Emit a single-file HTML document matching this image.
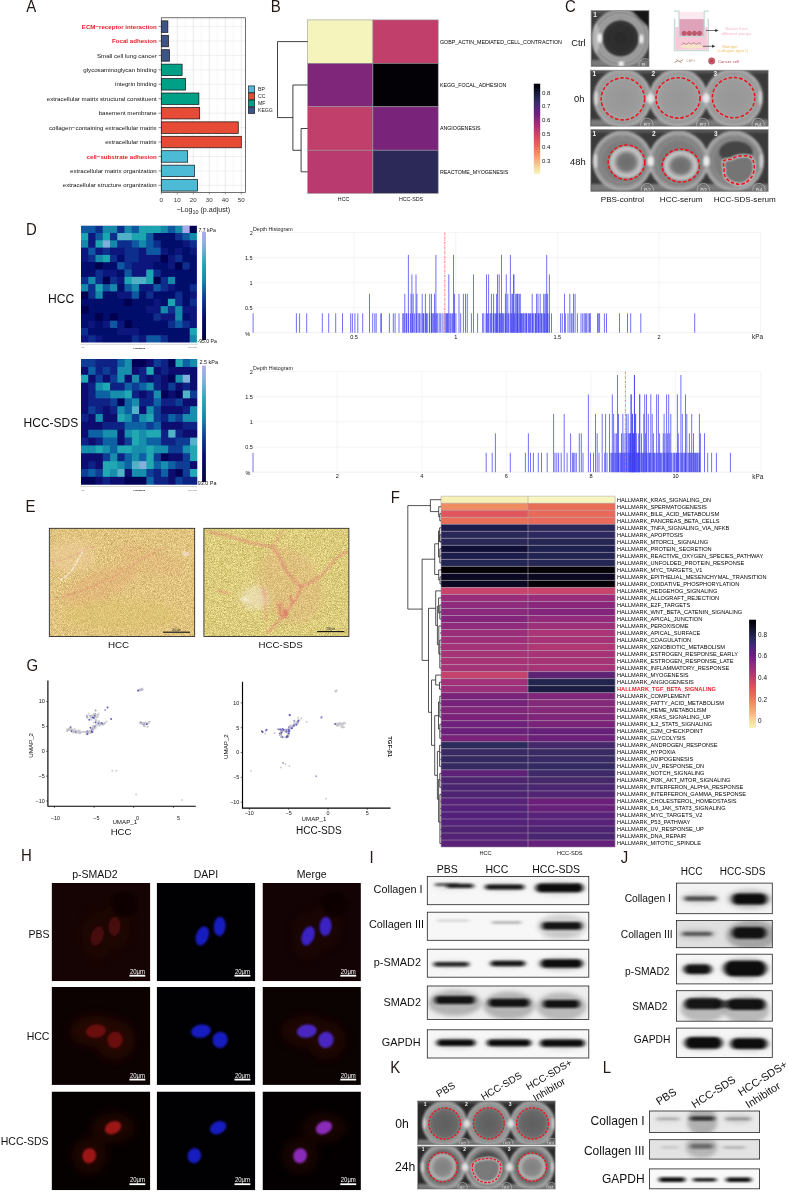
<!DOCTYPE html>
<html><head><meta charset="utf-8"><title>Figure</title>
<style>
html,body{margin:0;padding:0;background:#fff;}
body{width:789px;height:1193px;overflow:hidden;}
svg{display:block;font-family:"Liberation Sans",sans-serif;}
</style></head><body>
<svg width="789" height="1193" viewBox="0 0 789 1193">
<defs>
<linearGradient id="magB" x1="0" y1="0" x2="0" y2="1"><stop offset="0.000" stop-color="#030105"/><stop offset="0.035" stop-color="#050510"/><stop offset="0.100" stop-color="#161838"/><stop offset="0.175" stop-color="#2a2a5c"/><stop offset="0.250" stop-color="#4a2878"/><stop offset="0.320" stop-color="#6a1c80"/><stop offset="0.400" stop-color="#8a2a7c"/><stop offset="0.470" stop-color="#a8307a"/><stop offset="0.545" stop-color="#c84068"/><stop offset="0.620" stop-color="#e0505c"/><stop offset="0.700" stop-color="#ec6c58"/><stop offset="0.770" stop-color="#f28c62"/><stop offset="0.850" stop-color="#f6b07c"/><stop offset="0.930" stop-color="#f8d89c"/><stop offset="1.000" stop-color="#f8f4b8"/></linearGradient>
<filter id="blur1" x="-5%" y="-5%" width="110%" height="110%"><feGaussianBlur stdDeviation="0.9"/></filter>
<filter id="blur2" x="-10%" y="-10%" width="120%" height="120%"><feGaussianBlur stdDeviation="1.6"/></filter>
<filter id="blur05"><feGaussianBlur stdDeviation="0.5"/></filter>
<radialGradient id="wellA"><stop offset="0" stop-color="#969696"/><stop offset="0.6" stop-color="#9c9c9c"/><stop offset="0.72" stop-color="#a4a4a4"/><stop offset="0.765" stop-color="#b0b0b0"/><stop offset="0.80" stop-color="#747474"/><stop offset="0.85" stop-color="#bcbcbc"/><stop offset="0.89" stop-color="#7a7a7a"/><stop offset="0.94" stop-color="#cacaca"/><stop offset="0.98" stop-color="#8c8c8c"/><stop offset="1" stop-color="#b4b4b4"/></radialGradient>
<radialGradient id="wellB"><stop offset="0" stop-color="#787878"/><stop offset="0.62" stop-color="#7c7c7c"/><stop offset="0.72" stop-color="#848484"/><stop offset="0.76" stop-color="#9a9a9a"/><stop offset="0.80" stop-color="#585858"/><stop offset="0.85" stop-color="#b8b8b8"/><stop offset="0.89" stop-color="#707070"/><stop offset="0.94" stop-color="#cacaca"/><stop offset="0.98" stop-color="#8c8c8c"/><stop offset="1" stop-color="#b8b8b8"/></radialGradient>
<radialGradient id="gelA"><stop offset="0" stop-color="#6c6c6c"/><stop offset="0.5" stop-color="#767676"/><stop offset="0.66" stop-color="#a4a4a4"/><stop offset="0.86" stop-color="#cccccc"/><stop offset="1" stop-color="#a0a0a0"/></radialGradient>
<radialGradient id="wellC"><stop offset="0" stop-color="#2a2a2a"/><stop offset="0.5" stop-color="#303030"/><stop offset="0.62" stop-color="#3c3c3c"/><stop offset="0.66" stop-color="#d4d4d4"/><stop offset="0.71" stop-color="#7c7c7c"/><stop offset="0.79" stop-color="#b0b0b0"/><stop offset="0.87" stop-color="#7a7a7a"/><stop offset="0.94" stop-color="#b4b4b4"/><stop offset="1" stop-color="#6c6c6c"/></radialGradient>
<clipPath id="clipP1"><rect x="591.10" y="10.50" width="57.90" height="56.10"/></clipPath>
<clipPath id="clipP2"><rect x="590.30" y="70.20" width="177.90" height="56.00"/></clipPath>
<clipPath id="clipP3"><rect x="590.80" y="129.50" width="177.40" height="61.90"/></clipPath>
<filter id="blur03" x="-2%" y="-2%" width="104%" height="104%"><feGaussianBlur stdDeviation="0.45"/></filter>
<clipPath id="clipP4"><rect x="81.00" y="225.70" width="115.90" height="116.90"/></clipPath>
<clipPath id="clipP5"><rect x="81.00" y="359.10" width="116.30" height="125.60"/></clipPath>
<linearGradient id="afmbar" x1="0" y1="0" x2="0" y2="1"><stop offset="0" stop-color="#b0aaec"/><stop offset="0.12" stop-color="#86b0dc"/><stop offset="0.3" stop-color="#22a6b2"/><stop offset="0.45" stop-color="#1286aa"/><stop offset="0.6" stop-color="#0c409a"/><stop offset="0.78" stop-color="#080c70"/><stop offset="1" stop-color="#02003c"/></linearGradient>
<filter id="hisA" x="0" y="0" width="100%" height="100%" color-interpolation-filters="sRGB"><feTurbulence type="fractalNoise" baseFrequency="1.3" numOctaves="3" seed="3" result="n"/><feColorMatrix in="n" type="matrix" values="0.420 0 0 0 0.670  0.420 0 0 0 0.558  0.483 0 0 0 0.259  0 0 0 0 1"/></filter>
<filter id="hisB" x="0" y="0" width="100%" height="100%" color-interpolation-filters="sRGB"><feTurbulence type="fractalNoise" baseFrequency="1.3" numOctaves="3" seed="11" result="n"/><feColorMatrix in="n" type="matrix" values="0.460 0 0 0 0.632  0.460 0 0 0 0.570  0.529 0 0 0 0.225  0 0 0 0 1"/></filter>
<filter id="blur3" x="-30%" y="-30%" width="160%" height="160%"><feGaussianBlur stdDeviation="3"/></filter>
<filter id="blur12" x="-10%" y="-10%" width="120%" height="120%"><feGaussianBlur stdDeviation="1.1"/></filter>
<filter id="blur07" x="-10%" y="-10%" width="120%" height="120%"><feGaussianBlur stdDeviation="0.7"/></filter>
<clipPath id="clipP6"><rect x="49.30" y="528.30" width="145.40" height="108.30"/></clipPath>
<clipPath id="clipP7"><rect x="203.90" y="528.30" width="145.00" height="108.30"/></clipPath>
<linearGradient id="magF" x1="0" y1="0" x2="0" y2="1"><stop offset="0.000" stop-color="#030105"/><stop offset="0.035" stop-color="#050510"/><stop offset="0.100" stop-color="#161838"/><stop offset="0.175" stop-color="#2a2a5c"/><stop offset="0.250" stop-color="#4a2878"/><stop offset="0.320" stop-color="#6a1c80"/><stop offset="0.400" stop-color="#8a2a7c"/><stop offset="0.470" stop-color="#a8307a"/><stop offset="0.545" stop-color="#c84068"/><stop offset="0.620" stop-color="#e0505c"/><stop offset="0.700" stop-color="#ec6c58"/><stop offset="0.770" stop-color="#f28c62"/><stop offset="0.850" stop-color="#f6b07c"/><stop offset="0.930" stop-color="#f8d89c"/><stop offset="1.000" stop-color="#f8f4b8"/></linearGradient>
<filter id="blurN" x="-40%" y="-40%" width="180%" height="180%"><feGaussianBlur stdDeviation="1.1"/></filter>
<filter id="blurC" x="-60%" y="-60%" width="220%" height="220%"><feGaussianBlur stdDeviation="5"/></filter>
<clipPath id="clipP8"><rect x="51.60" y="883.00" width="98.70" height="98.20"/></clipPath>
<clipPath id="clipP9"><rect x="156.70" y="883.00" width="98.60" height="98.20"/></clipPath>
<clipPath id="clipP10"><rect x="262.50" y="883.00" width="98.40" height="98.20"/></clipPath>
<clipPath id="clipP11"><rect x="51.60" y="986.90" width="98.70" height="98.00"/></clipPath>
<clipPath id="clipP12"><rect x="156.70" y="986.90" width="98.60" height="98.00"/></clipPath>
<clipPath id="clipP13"><rect x="262.50" y="986.90" width="98.40" height="98.00"/></clipPath>
<clipPath id="clipP14"><rect x="51.60" y="1091.50" width="98.70" height="98.70"/></clipPath>
<clipPath id="clipP15"><rect x="156.70" y="1091.50" width="98.60" height="98.70"/></clipPath>
<clipPath id="clipP16"><rect x="262.50" y="1091.50" width="98.40" height="98.70"/></clipPath>
<filter id="blurW" x="-20%" y="-60%" width="140%" height="220%"><feGaussianBlur stdDeviation="1.9 0.95"/></filter>
<filter id="blurW2" x="-20%" y="-80%" width="140%" height="260%"><feGaussianBlur stdDeviation="2.2"/></filter>
<clipPath id="clipP17"><rect x="427.30" y="876.40" width="161.50" height="28.30"/></clipPath>
<clipPath id="clipP18"><rect x="427.30" y="912.20" width="161.50" height="28.10"/></clipPath>
<clipPath id="clipP19"><rect x="427.30" y="949.20" width="161.50" height="28.00"/></clipPath>
<clipPath id="clipP20"><rect x="427.30" y="986.00" width="161.50" height="33.50"/></clipPath>
<clipPath id="clipP21"><rect x="427.30" y="1029.80" width="161.50" height="28.20"/></clipPath>
<clipPath id="clipP22"><rect x="676.40" y="883.10" width="95.90" height="30.60"/></clipPath>
<clipPath id="clipP23"><rect x="676.40" y="920.40" width="95.90" height="27.30"/></clipPath>
<clipPath id="clipP24"><rect x="676.40" y="954.20" width="95.90" height="29.70"/></clipPath>
<clipPath id="clipP25"><rect x="676.40" y="990.70" width="95.90" height="30.50"/></clipPath>
<clipPath id="clipP26"><rect x="676.40" y="1028.10" width="95.90" height="29.50"/></clipPath>
<clipPath id="clipP27"><rect x="649.40" y="1111.00" width="110.20" height="21.50"/></clipPath>
<clipPath id="clipP28"><rect x="649.40" y="1139.70" width="110.20" height="19.40"/></clipPath>
<clipPath id="clipP29"><rect x="649.40" y="1168.90" width="110.20" height="19.90"/></clipPath>
<radialGradient id="wellK2"><stop offset="0" stop-color="#4a4a4a"/><stop offset="0.62" stop-color="#505050"/><stop offset="0.72" stop-color="#666666"/><stop offset="0.76" stop-color="#9a9a9a"/><stop offset="0.80" stop-color="#585858"/><stop offset="0.85" stop-color="#b8b8b8"/><stop offset="0.89" stop-color="#707070"/><stop offset="0.94" stop-color="#cacaca"/><stop offset="0.98" stop-color="#8c8c8c"/><stop offset="1" stop-color="#b8b8b8"/></radialGradient>
<radialGradient id="wellK"><stop offset="0" stop-color="#5e5e5e"/><stop offset="0.55" stop-color="#686868"/><stop offset="0.70" stop-color="#7c7c7c"/><stop offset="0.765" stop-color="#aaaaaa"/><stop offset="0.80" stop-color="#6a6a6a"/><stop offset="0.85" stop-color="#b8b8b8"/><stop offset="0.89" stop-color="#727272"/><stop offset="0.94" stop-color="#c6c6c6"/><stop offset="0.98" stop-color="#888888"/><stop offset="1" stop-color="#b0b0b0"/></radialGradient>
<radialGradient id="gelK"><stop offset="0" stop-color="#808080"/><stop offset="0.6" stop-color="#8a8a8a"/><stop offset="0.86" stop-color="#b6b6b6"/><stop offset="1" stop-color="#9a9a9a"/></radialGradient>
<clipPath id="clipP30"><rect x="417.60" y="1101.00" width="137.60" height="43.80"/></clipPath>
<clipPath id="clipP31"><rect x="417.60" y="1146.30" width="137.60" height="42.70"/></clipPath>
</defs>
<rect x="0" y="0" width="789" height="1193" fill="#ffffff"/>
<text transform="translate(26.30 12.40) scale(0.96 1)" font-size="15.6" fill="#231815">A</text>
<text transform="translate(270.68 12.30) scale(0.96 1)" font-size="15.6" fill="#231815">B</text>
<text transform="translate(565.05 12.10) scale(0.96 1)" font-size="15.6" fill="#231815">C</text>
<text transform="translate(25.90 234.80) scale(0.96 1)" font-size="15.6" fill="#231815">D</text>
<text transform="translate(25.60 512.00) scale(0.96 1)" font-size="15.6" fill="#231815">E</text>
<text transform="translate(390.70 502.80) scale(0.96 1)" font-size="15.6" fill="#231815">F</text>
<text transform="translate(26.45 671.40) scale(0.96 1)" font-size="15.6" fill="#231815">G</text>
<text transform="translate(21.00 860.80) scale(0.96 1)" font-size="15.6" fill="#231815">H</text>
<text transform="translate(369.55 862.80) scale(0.96 1)" font-size="15.6" fill="#231815">I</text>
<text transform="translate(620.75 862.90) scale(0.96 1)" font-size="15.6" fill="#231815">J</text>
<text transform="translate(390.20 1072.80) scale(0.96 1)" font-size="15.6" fill="#231815">K</text>
<text transform="translate(602.70 1072.80) scale(0.96 1)" font-size="15.6" fill="#231815">L</text>
<rect x="161.30" y="17.80" width="84.30" height="174.80" fill="#fff" />
<line x1="169.30" y1="17.80" x2="169.30" y2="192.60" stroke="#ebebeb" stroke-width="0.45" />
<line x1="177.30" y1="17.80" x2="177.30" y2="192.60" stroke="#e2e2e2" stroke-width="0.7" />
<line x1="185.30" y1="17.80" x2="185.30" y2="192.60" stroke="#ebebeb" stroke-width="0.45" />
<line x1="193.30" y1="17.80" x2="193.30" y2="192.60" stroke="#e2e2e2" stroke-width="0.7" />
<line x1="201.30" y1="17.80" x2="201.30" y2="192.60" stroke="#ebebeb" stroke-width="0.45" />
<line x1="209.30" y1="17.80" x2="209.30" y2="192.60" stroke="#e2e2e2" stroke-width="0.7" />
<line x1="217.30" y1="17.80" x2="217.30" y2="192.60" stroke="#ebebeb" stroke-width="0.45" />
<line x1="225.30" y1="17.80" x2="225.30" y2="192.60" stroke="#e2e2e2" stroke-width="0.7" />
<line x1="233.30" y1="17.80" x2="233.30" y2="192.60" stroke="#ebebeb" stroke-width="0.45" />
<line x1="241.30" y1="17.80" x2="241.30" y2="192.60" stroke="#e2e2e2" stroke-width="0.7" />
<line x1="161.30" y1="26.60" x2="245.60" y2="26.60" stroke="#e6e6e6" stroke-width="0.6" />
<line x1="161.30" y1="41.03" x2="245.60" y2="41.03" stroke="#e6e6e6" stroke-width="0.6" />
<line x1="161.30" y1="55.46" x2="245.60" y2="55.46" stroke="#e6e6e6" stroke-width="0.6" />
<line x1="161.30" y1="69.89" x2="245.60" y2="69.89" stroke="#e6e6e6" stroke-width="0.6" />
<line x1="161.30" y1="84.32" x2="245.60" y2="84.32" stroke="#e6e6e6" stroke-width="0.6" />
<line x1="161.30" y1="98.75" x2="245.60" y2="98.75" stroke="#e6e6e6" stroke-width="0.6" />
<line x1="161.30" y1="113.18" x2="245.60" y2="113.18" stroke="#e6e6e6" stroke-width="0.6" />
<line x1="161.30" y1="127.61" x2="245.60" y2="127.61" stroke="#e6e6e6" stroke-width="0.6" />
<line x1="161.30" y1="142.04" x2="245.60" y2="142.04" stroke="#e6e6e6" stroke-width="0.6" />
<line x1="161.30" y1="156.47" x2="245.60" y2="156.47" stroke="#e6e6e6" stroke-width="0.6" />
<line x1="161.30" y1="170.90" x2="245.60" y2="170.90" stroke="#e6e6e6" stroke-width="0.6" />
<line x1="161.30" y1="185.33" x2="245.60" y2="185.33" stroke="#e6e6e6" stroke-width="0.6" />
<rect x="161.30" y="20.85" width="6.56" height="11.50" fill="#3C5488" stroke="#111" stroke-width="0.7" />
<line x1="158.50" y1="26.60" x2="161.30" y2="26.60" stroke="#333" stroke-width="0.55" />
<text x="156.70" y="28.70" font-size="6.15" fill="#e8202a" text-anchor="end" font-weight="bold" >ECM−receptor interaction</text>
<rect x="161.30" y="35.28" width="7.20" height="11.50" fill="#3C5488" stroke="#111" stroke-width="0.7" />
<line x1="158.50" y1="41.03" x2="161.30" y2="41.03" stroke="#333" stroke-width="0.55" />
<text x="156.70" y="43.13" font-size="6.15" fill="#e8202a" text-anchor="end" font-weight="bold" >Focal adhesion</text>
<rect x="161.30" y="49.71" width="8.16" height="11.50" fill="#3C5488" stroke="#111" stroke-width="0.7" />
<line x1="158.50" y1="55.46" x2="161.30" y2="55.46" stroke="#333" stroke-width="0.55" />
<text x="156.70" y="57.56" font-size="6.15" fill="#111" text-anchor="end" >Small cell lung cancer</text>
<rect x="161.30" y="64.14" width="20.80" height="11.50" fill="#00A087" stroke="#111" stroke-width="0.7" />
<line x1="158.50" y1="69.89" x2="161.30" y2="69.89" stroke="#333" stroke-width="0.55" />
<text x="156.70" y="71.99" font-size="6.15" fill="#111" text-anchor="end" >glycosaminoglycan binding</text>
<rect x="161.30" y="78.57" width="24.32" height="11.50" fill="#00A087" stroke="#111" stroke-width="0.7" />
<line x1="158.50" y1="84.32" x2="161.30" y2="84.32" stroke="#333" stroke-width="0.55" />
<text x="156.70" y="86.42" font-size="6.15" fill="#111" text-anchor="end" >integrin binding</text>
<rect x="161.30" y="93.00" width="37.60" height="11.50" fill="#00A087" stroke="#111" stroke-width="0.7" />
<line x1="158.50" y1="98.75" x2="161.30" y2="98.75" stroke="#333" stroke-width="0.55" />
<text x="156.70" y="100.85" font-size="6.15" fill="#111" text-anchor="end" >extracellular matrix structural constituent</text>
<rect x="161.30" y="107.43" width="38.40" height="11.50" fill="#E64B35" stroke="#111" stroke-width="0.7" />
<line x1="158.50" y1="113.18" x2="161.30" y2="113.18" stroke="#333" stroke-width="0.55" />
<text x="156.70" y="115.28" font-size="6.15" fill="#111" text-anchor="end" >basement membrane</text>
<rect x="161.30" y="121.86" width="76.96" height="11.50" fill="#E64B35" stroke="#111" stroke-width="0.7" />
<line x1="158.50" y1="127.61" x2="161.30" y2="127.61" stroke="#333" stroke-width="0.55" />
<text x="156.70" y="129.71" font-size="6.15" fill="#111" text-anchor="end" >collagen−containing extracellular matrix</text>
<rect x="161.30" y="136.29" width="80.00" height="11.50" fill="#E64B35" stroke="#111" stroke-width="0.7" />
<line x1="158.50" y1="142.04" x2="161.30" y2="142.04" stroke="#333" stroke-width="0.55" />
<text x="156.70" y="144.14" font-size="6.15" fill="#111" text-anchor="end" >extracellular matrix</text>
<rect x="161.30" y="150.72" width="26.40" height="11.50" fill="#4DBBD5" stroke="#111" stroke-width="0.7" />
<line x1="158.50" y1="156.47" x2="161.30" y2="156.47" stroke="#333" stroke-width="0.55" />
<text x="156.70" y="158.57" font-size="6.15" fill="#e8202a" text-anchor="end" font-weight="bold" >cell−substrate adhesion</text>
<rect x="161.30" y="165.15" width="33.12" height="11.50" fill="#4DBBD5" stroke="#111" stroke-width="0.7" />
<line x1="158.50" y1="170.90" x2="161.30" y2="170.90" stroke="#333" stroke-width="0.55" />
<text x="156.70" y="173.00" font-size="6.15" fill="#111" text-anchor="end" >extracellular matrix organization</text>
<rect x="161.30" y="179.58" width="36.32" height="11.50" fill="#4DBBD5" stroke="#111" stroke-width="0.7" />
<line x1="158.50" y1="185.33" x2="161.30" y2="185.33" stroke="#333" stroke-width="0.55" />
<text x="156.70" y="187.43" font-size="6.15" fill="#111" text-anchor="end" >extracellular structure organization</text>
<rect x="161.30" y="17.80" width="84.30" height="174.80" fill="none" stroke="#333" stroke-width="0.7" />
<line x1="161.30" y1="192.60" x2="161.30" y2="194.40" stroke="#333" stroke-width="0.5" />
<text x="161.30" y="202.20" font-size="6.2" fill="#333" text-anchor="middle" >0</text>
<line x1="177.30" y1="192.60" x2="177.30" y2="194.40" stroke="#333" stroke-width="0.5" />
<text x="177.30" y="202.20" font-size="6.2" fill="#333" text-anchor="middle" >10</text>
<line x1="193.30" y1="192.60" x2="193.30" y2="194.40" stroke="#333" stroke-width="0.5" />
<text x="193.30" y="202.20" font-size="6.2" fill="#333" text-anchor="middle" >20</text>
<line x1="209.30" y1="192.60" x2="209.30" y2="194.40" stroke="#333" stroke-width="0.5" />
<text x="209.30" y="202.20" font-size="6.2" fill="#333" text-anchor="middle" >30</text>
<line x1="225.30" y1="192.60" x2="225.30" y2="194.40" stroke="#333" stroke-width="0.5" />
<text x="225.30" y="202.20" font-size="6.2" fill="#333" text-anchor="middle" >40</text>
<line x1="241.30" y1="192.60" x2="241.30" y2="194.40" stroke="#333" stroke-width="0.5" />
<text x="241.30" y="202.20" font-size="6.2" fill="#333" text-anchor="middle" >50</text>
<text x="203.30" y="212.20" font-size="7.1" fill="#222" text-anchor="middle">−Log<tspan font-size="5.4" dy="1.9">10</tspan><tspan dy="-1.9"> (p.adjust)</tspan></text>
<rect x="248.30" y="85.90" width="6.40" height="6.50" fill="#4DBBD5" stroke="#111" stroke-width="0.6" />
<text x="258.00" y="90.93" font-size="5.15" fill="#222" >BP</text>
<rect x="248.30" y="92.96" width="6.40" height="6.50" fill="#E64B35" stroke="#111" stroke-width="0.6" />
<text x="258.00" y="97.99" font-size="5.15" fill="#222" >CC</text>
<rect x="248.30" y="100.02" width="6.40" height="6.50" fill="#00A087" stroke="#111" stroke-width="0.6" />
<text x="258.00" y="105.05" font-size="5.15" fill="#222" >MF</text>
<rect x="248.30" y="107.08" width="6.40" height="6.50" fill="#3C5488" stroke="#111" stroke-width="0.6" />
<text x="258.00" y="112.11" font-size="5.15" fill="#222" >KEGG</text>
<rect x="307.60" y="19.90" width="65.30" height="43.40" fill="#f5f4bd" stroke="#9a9a9a" stroke-width="0.6" />
<rect x="372.90" y="19.90" width="65.30" height="43.40" fill="#c03f6b" stroke="#9a9a9a" stroke-width="0.6" />
<rect x="307.60" y="63.30" width="65.30" height="43.50" fill="#80267a" stroke="#9a9a9a" stroke-width="0.6" />
<rect x="372.90" y="63.30" width="65.30" height="43.50" fill="#030105" stroke="#9a9a9a" stroke-width="0.6" />
<rect x="307.60" y="106.80" width="65.30" height="43.40" fill="#c03f6b" stroke="#9a9a9a" stroke-width="0.6" />
<rect x="372.90" y="106.80" width="65.30" height="43.40" fill="#7a237a" stroke="#9a9a9a" stroke-width="0.6" />
<rect x="307.60" y="150.20" width="65.30" height="43.20" fill="#b93a6f" stroke="#9a9a9a" stroke-width="0.6" />
<rect x="372.90" y="150.20" width="65.30" height="43.20" fill="#2c2858" stroke="#9a9a9a" stroke-width="0.6" />
<path d="M307.6 41.6 H277.5 V117.6 H292.9 M307.6 85.0 H292.9 V150.3 H301.1 M307.6 128.5 H301.1 V171.8 H307.6" stroke="#111" stroke-width="0.8" fill="none" />
<text x="439.90" y="43.50" font-size="5.3" fill="#000" >GOBP_ACTIN_MEDIATED_CELL_CONTRACTION</text>
<text x="439.90" y="86.95" font-size="5.3" fill="#000" >KEGG_FOCAL_ADHESION</text>
<text x="439.90" y="130.40" font-size="5.3" fill="#000" >ANGIOGENESIS</text>
<text x="439.90" y="173.70" font-size="5.3" fill="#000" >REACTOME_MYOGENESIS</text>
<text x="343.60" y="200.80" font-size="5.3" fill="#111" text-anchor="middle" >HCC</text>
<text x="411.00" y="200.80" font-size="5.3" fill="#111" text-anchor="middle" >HCC-SDS</text>
<rect x="533.80" y="83.70" width="6.40" height="90.10" fill="url(#magB)" />
<text x="541.90" y="94.50" font-size="6.1" fill="#111" >0.8</text>
<text x="541.90" y="108.10" font-size="6.1" fill="#111" >0.7</text>
<text x="541.90" y="121.90" font-size="6.1" fill="#111" >0.6</text>
<text x="541.90" y="135.50" font-size="6.1" fill="#111" >0.5</text>
<text x="541.90" y="149.00" font-size="6.1" fill="#111" >0.4</text>
<text x="541.90" y="162.60" font-size="6.1" fill="#111" >0.3</text>
<g clip-path="url(#clipP1)">
<rect x="591.10" y="10.50" width="57.90" height="56.10" fill="#3c3c3c" />
<g filter="url(#blur1)">
<rect x="591.10" y="59.87" width="57.90" height="6.73" fill="#7a7a7a" />
<rect x="591.10" y="10.50" width="57.90" height="2.80" fill="#5a5a5a" />
<circle cx="620.60" cy="38.40" r="29.50" fill="url(#wellC)"/>
<ellipse cx="599.95" cy="38.10" rx="2.07" ry="4.72" fill="#fff" opacity="0.90"/>
<ellipse cx="641.25" cy="38.90" rx="1.77" ry="4.42" fill="#fff" opacity="0.90"/>
<ellipse cx="621.20" cy="63.77" rx="2.65" ry="2.36" fill="#fff" opacity="0.90"/>
<ellipse cx="596.41" cy="38.40" rx="2.95" ry="14.75" fill="#fff" opacity="0.35"/>
<path d="M630.7 10.5 L649.0 10.5 L649.0 28.2 Z" fill="#141414"/>
</g>
<text x="593.16" y="16.68" font-size="6.5" fill="#f4f4f4" font-weight="bold" filter="url(#blur05)">1</text>
<circle cx="645.04" cy="64.80" r="6.17" fill="none" stroke="#c8c8c8" stroke-width="0.6"/>
<text x="641.84" y="67.00" font-size="5.5249999999999995" fill="#d8d8d8" filter="url(#blur05)">B</text>
</g>
<rect x="591.10" y="10.50" width="57.90" height="56.10" fill="none" stroke="#8a8a8a" stroke-width="0.7" />
<g clip-path="url(#clipP2)">
<rect x="590.30" y="70.20" width="177.90" height="56.00" fill="#3a3a3a" />
<g filter="url(#blur1)">
<rect x="590.30" y="119.48" width="177.90" height="6.72" fill="#7a7a7a" />
<rect x="590.30" y="70.20" width="177.90" height="2.80" fill="#5a5a5a" />
<circle cx="622.50" cy="98.30" r="29.30" fill="url(#wellA)"/>
<circle cx="678.30" cy="98.00" r="29.30" fill="url(#wellA)"/>
<circle cx="733.80" cy="97.80" r="29.30" fill="url(#wellA)"/>
<ellipse cx="650.40" cy="98.15" rx="2.20" ry="5.27" fill="#fff" opacity="0.70"/>
<ellipse cx="647.70" cy="98.80" rx="1.47" ry="4.10" fill="#fff" opacity="0.55"/>
<ellipse cx="653.10" cy="98.50" rx="1.47" ry="4.10" fill="#fff" opacity="0.55"/>
<ellipse cx="706.05" cy="97.90" rx="2.20" ry="5.27" fill="#fff" opacity="0.70"/>
<ellipse cx="703.50" cy="98.50" rx="1.47" ry="4.10" fill="#fff" opacity="0.55"/>
<ellipse cx="708.60" cy="98.30" rx="1.47" ry="4.10" fill="#fff" opacity="0.55"/>
<ellipse cx="596.13" cy="98.30" rx="2.05" ry="7.33" fill="#fff" opacity="0.55"/>
<ellipse cx="760.17" cy="97.80" rx="1.76" ry="7.33" fill="#fff" opacity="0.50"/>
</g>
<text x="592.60" y="76.38" font-size="6.5" fill="#f4f4f4" font-weight="bold" filter="url(#blur05)">1</text>
<text x="651.40" y="76.38" font-size="6.5" fill="#f4f4f4" font-weight="bold" filter="url(#blur05)">2</text>
<text x="713.40" y="76.38" font-size="6.5" fill="#f4f4f4" font-weight="bold" filter="url(#blur05)">3</text>
<circle cx="646.80" cy="124.40" r="6.17" fill="none" stroke="#c8c8c8" stroke-width="0.6"/>
<text x="643.60" y="126.60" font-size="5.5249999999999995" fill="#d8d8d8" filter="url(#blur05)">B2</text>
<circle cx="702.60" cy="124.40" r="6.17" fill="none" stroke="#c8c8c8" stroke-width="0.6"/>
<text x="699.40" y="126.60" font-size="5.5249999999999995" fill="#d8d8d8" filter="url(#blur05)">B3</text>
<circle cx="758.10" cy="124.40" r="6.17" fill="none" stroke="#c8c8c8" stroke-width="0.6"/>
<text x="754.90" y="126.60" font-size="5.5249999999999995" fill="#d8d8d8" filter="url(#blur05)">B4</text>
</g>
<rect x="590.30" y="70.20" width="177.90" height="56.00" fill="none" stroke="#8a8a8a" stroke-width="0.7" />
<ellipse cx="622.90" cy="98.90" rx="21.70" ry="21.00" fill="none" stroke="#e8161e" stroke-width="1.6" stroke-dasharray="3.6 1.8"/>
<ellipse cx="678.00" cy="97.90" rx="22.00" ry="20.20" fill="none" stroke="#e8161e" stroke-width="1.6" stroke-dasharray="3.6 1.8"/>
<ellipse cx="733.60" cy="97.60" rx="21.20" ry="20.20" fill="none" stroke="#e8161e" stroke-width="1.6" stroke-dasharray="3.6 1.8"/>
<g clip-path="url(#clipP3)">
<rect x="590.80" y="129.50" width="177.40" height="61.90" fill="#3a3a3a" />
<g filter="url(#blur1)">
<rect x="590.80" y="183.97" width="177.40" height="7.43" fill="#7a7a7a" />
<rect x="590.80" y="129.50" width="177.40" height="3.10" fill="#5a5a5a" />
<circle cx="622.50" cy="161.00" r="30.00" fill="url(#wellB)"/>
<circle cx="678.60" cy="161.00" r="30.00" fill="url(#wellB)"/>
<circle cx="734.20" cy="161.00" r="30.00" fill="url(#wellB)"/>
<ellipse cx="650.55" cy="161.00" rx="2.25" ry="5.40" fill="#fff" opacity="0.70"/>
<ellipse cx="648.30" cy="161.50" rx="1.50" ry="4.20" fill="#fff" opacity="0.55"/>
<ellipse cx="652.80" cy="161.50" rx="1.50" ry="4.20" fill="#fff" opacity="0.55"/>
<ellipse cx="706.40" cy="161.00" rx="2.25" ry="5.40" fill="#fff" opacity="0.70"/>
<ellipse cx="704.40" cy="161.50" rx="1.50" ry="4.20" fill="#fff" opacity="0.55"/>
<ellipse cx="708.40" cy="161.50" rx="1.50" ry="4.20" fill="#fff" opacity="0.55"/>
<ellipse cx="595.50" cy="161.00" rx="2.10" ry="7.50" fill="#fff" opacity="0.55"/>
<ellipse cx="761.20" cy="161.00" rx="1.80" ry="7.50" fill="#fff" opacity="0.50"/>
<ellipse cx="736" cy="152" rx="17" ry="11" fill="#3c3c3c" opacity="0.85"/>
<ellipse cx="626.5" cy="162.2" rx="17.2" ry="16.3" fill="url(#gelA)"/>
<ellipse cx="680.8" cy="165.6" rx="17.6" ry="15.2" fill="url(#gelA)"/>
<path d="M723.3 161.5 C725 158.5 729 160.5 732.6 158.4 C737 155.6 745 155.2 749.5 156.2 C753.5 158 754.6 164 754.2 169.5 C753.6 177 747 184.2 739.6 184.3 C731 184 723.5 178.5 724.2 171.5 Z" fill="#747474" stroke="#c8c8c8" stroke-width="2.6"/>
</g>
<text x="592.60" y="135.68" font-size="6.5" fill="#f4f4f4" font-weight="bold" filter="url(#blur05)">1</text>
<text x="652.00" y="135.68" font-size="6.5" fill="#f4f4f4" font-weight="bold" filter="url(#blur05)">2</text>
<text x="714.00" y="135.68" font-size="6.5" fill="#f4f4f4" font-weight="bold" filter="url(#blur05)">3</text>
<circle cx="647.30" cy="189.60" r="6.17" fill="none" stroke="#c8c8c8" stroke-width="0.6"/>
<text x="644.10" y="191.80" font-size="5.5249999999999995" fill="#d8d8d8" filter="url(#blur05)">B2</text>
<circle cx="703.40" cy="189.60" r="6.17" fill="none" stroke="#c8c8c8" stroke-width="0.6"/>
<text x="700.20" y="191.80" font-size="5.5249999999999995" fill="#d8d8d8" filter="url(#blur05)">B3</text>
<circle cx="759.00" cy="189.60" r="6.17" fill="none" stroke="#c8c8c8" stroke-width="0.6"/>
<text x="755.80" y="191.80" font-size="5.5249999999999995" fill="#d8d8d8" filter="url(#blur05)">B4</text>
</g>
<rect x="590.80" y="129.50" width="177.40" height="61.90" fill="none" stroke="#8a8a8a" stroke-width="0.7" />
<ellipse cx="626.50" cy="162.30" rx="18.30" ry="17.30" fill="none" stroke="#e8161e" stroke-width="1.6" stroke-dasharray="3.6 1.8"/>
<ellipse cx="680.80" cy="165.60" rx="18.60" ry="16.40" fill="none" stroke="#e8161e" stroke-width="1.6" stroke-dasharray="3.6 1.8"/>
<path d="M723.3 161.5 C725 158.5 729 160.5 732.6 158.4 C737 155.6 745 155.2 749.5 156.2 C753.5 158 754.6 164 754.2 169.5 C753.6 177 747 184.2 739.6 184.3 C731 184 723.5 178.5 724.2 171.5 Z" stroke="#e8161e" stroke-width="1.6" fill="none" stroke-dasharray="3.6 1.8"/>
<text x="571.20" y="46.40" font-size="9.3" fill="#111" >Ctrl</text>
<text x="574.00" y="102.40" font-size="9.4" fill="#111" >0h</text>
<text x="570.00" y="164.80" font-size="9.4" fill="#111" >48h</text>
<text x="622.40" y="202.40" font-size="8.1" fill="#111" text-anchor="middle" >PBS-control</text>
<text x="681.20" y="202.40" font-size="8.1" fill="#111" text-anchor="middle" >HCC-serum</text>
<text x="744.80" y="202.40" font-size="8.1" fill="#111" text-anchor="middle" >HCC-SDS-serum</text>
<path d="M674.6 18.8 V50.4 H708.3 V18.8" stroke="#c5dbd8" stroke-width="1.5" fill="none" />
<rect x="675.30" y="27.00" width="32.30" height="22.70" fill="#f9c9d9" />
<rect x="679.00" y="12.00" width="25.20" height="24.20" fill="#fbe9ef" />
<rect x="679.00" y="19.10" width="25.20" height="17.20" fill="#dfa3b9" />
<path d="M674.0 11.2 H679.0 V36.6 H704.2 V11.2 H709.0" stroke="#c5dbd8" stroke-width="1.2" fill="none" />
<circle cx="684.2" cy="33.3" r="2.1" fill="#c25a6a" stroke="#a43a4c" stroke-width="0.5"/>
<circle cx="689.3" cy="33.3" r="2.1" fill="#c25a6a" stroke="#a43a4c" stroke-width="0.5"/>
<circle cx="694.4" cy="33.3" r="2.1" fill="#c25a6a" stroke="#a43a4c" stroke-width="0.5"/>
<circle cx="699.5" cy="33.3" r="2.1" fill="#c25a6a" stroke="#a43a4c" stroke-width="0.5"/>
<ellipse cx="691.8" cy="46.5" rx="12" ry="2.2" fill="#f7e3c6"/>
<path d="M681.5 44.6 l2.2 -1.6 l2.6 1.4 l2.4 -1.7 l2.6 1.6 l2.6 -1.6 l2.6 1.6 l2.4 -1.7 l2.2 1.6" stroke="#8a6a55" stroke-width="0.6" fill="none" />
<line x1="706.00" y1="30.50" x2="716.80" y2="30.50" stroke="#222" stroke-width="0.6" />
<path d="M718.4 30.5 l-3 -1.5 v3 z" fill="#222"/>
<line x1="702.80" y1="46.30" x2="713.60" y2="46.30" stroke="#222" stroke-width="0.6" />
<path d="M715.2 46.3 l-3 -1.5 v3 z" fill="#222"/>
<text x="736.50" y="30.20" font-size="4.3" fill="#f6b4cf" text-anchor="middle" >Serum from</text>
<text x="736.50" y="34.50" font-size="4.3" fill="#f6b4cf" text-anchor="middle" >different groups</text>
<text x="729.80" y="48.00" font-size="4.3" fill="#efc368" text-anchor="middle" >Matrigel</text>
<text x="732.60" y="52.30" font-size="4.3" fill="#efc368" text-anchor="middle" >(collagen type I)</text>
<path d="M674.5 62.5 l3 -1.6 l2.5 0.6 l3 -1.8 M677.5 60.9 l-1.2 -1.6 M680 61.5 l1.5 1.6" stroke="#9a7a66" stroke-width="0.8" fill="none" />
<text x="685.80" y="62.40" font-size="3.9" fill="#c4a694" >CAFs</text>
<circle cx="711.7" cy="61.0" r="3.2" fill="#c9606e" stroke="#b04456" stroke-width="0.6"/><circle cx="711.7" cy="61.0" r="1.3" fill="#a83848"/>
<text x="718.00" y="62.60" font-size="4.2" fill="#b9485c" >Cancer cell</text>
<g clip-path="url(#clipP4)" filter="url(#blur03)">
<rect x="79.00" y="223.70" width="119.90" height="120.90" fill="#0a1470" />
<rect x="81.00" y="225.70" width="7.84" height="7.91" fill="#0c58a0"/>
<rect x="88.24" y="225.70" width="7.84" height="7.91" fill="#0c58a0"/>
<rect x="95.49" y="225.70" width="7.84" height="7.91" fill="#0a2e8c"/>
<rect x="102.73" y="225.70" width="7.84" height="7.91" fill="#1288aa"/>
<rect x="109.97" y="225.70" width="7.84" height="7.91" fill="#1288aa"/>
<rect x="117.22" y="225.70" width="7.84" height="7.91" fill="#0a2e8c"/>
<rect x="124.46" y="225.70" width="7.84" height="7.91" fill="#1288aa"/>
<rect x="131.71" y="225.70" width="7.84" height="7.91" fill="#0c58a0"/>
<rect x="138.95" y="225.70" width="7.84" height="7.91" fill="#1fa4b0"/>
<rect x="146.19" y="225.70" width="7.84" height="7.91" fill="#1fa4b0"/>
<rect x="153.44" y="225.70" width="7.84" height="7.91" fill="#1fa4b0"/>
<rect x="160.68" y="225.70" width="7.84" height="7.91" fill="#1288aa"/>
<rect x="167.93" y="225.70" width="7.84" height="7.91" fill="#0c58a0"/>
<rect x="175.17" y="225.70" width="7.84" height="7.91" fill="#1288aa"/>
<rect x="182.41" y="225.70" width="7.84" height="7.91" fill="#aaa8ea"/>
<rect x="189.66" y="225.70" width="7.84" height="7.91" fill="#030250"/>
<rect x="81.00" y="233.01" width="7.84" height="7.91" fill="#1fa4b0"/>
<rect x="88.24" y="233.01" width="7.84" height="7.91" fill="#08187c"/>
<rect x="95.49" y="233.01" width="7.84" height="7.91" fill="#0c58a0"/>
<rect x="102.73" y="233.01" width="7.84" height="7.91" fill="#1fa4b0"/>
<rect x="109.97" y="233.01" width="7.84" height="7.91" fill="#0a2e8c"/>
<rect x="117.22" y="233.01" width="7.84" height="7.91" fill="#4fb0c6"/>
<rect x="124.46" y="233.01" width="7.84" height="7.91" fill="#4fb0c6"/>
<rect x="131.71" y="233.01" width="7.84" height="7.91" fill="#1fa4b0"/>
<rect x="138.95" y="233.01" width="7.84" height="7.91" fill="#1fa4b0"/>
<rect x="146.19" y="233.01" width="7.84" height="7.91" fill="#0c58a0"/>
<rect x="153.44" y="233.01" width="7.84" height="7.91" fill="#06086a"/>
<rect x="160.68" y="233.01" width="7.84" height="7.91" fill="#06086a"/>
<rect x="167.93" y="233.01" width="7.84" height="7.91" fill="#06086a"/>
<rect x="175.17" y="233.01" width="7.84" height="7.91" fill="#0a2e8c"/>
<rect x="182.41" y="233.01" width="7.84" height="7.91" fill="#0c58a0"/>
<rect x="189.66" y="233.01" width="7.84" height="7.91" fill="#1288aa"/>
<rect x="81.00" y="240.31" width="7.84" height="7.91" fill="#1288aa"/>
<rect x="88.24" y="240.31" width="7.84" height="7.91" fill="#08187c"/>
<rect x="95.49" y="240.31" width="7.84" height="7.91" fill="#1fa4b0"/>
<rect x="102.73" y="240.31" width="7.84" height="7.91" fill="#7fb0da"/>
<rect x="109.97" y="240.31" width="7.84" height="7.91" fill="#1288aa"/>
<rect x="117.22" y="240.31" width="7.84" height="7.91" fill="#0a2e8c"/>
<rect x="124.46" y="240.31" width="7.84" height="7.91" fill="#0a2e8c"/>
<rect x="131.71" y="240.31" width="7.84" height="7.91" fill="#0c58a0"/>
<rect x="138.95" y="240.31" width="7.84" height="7.91" fill="#1288aa"/>
<rect x="146.19" y="240.31" width="7.84" height="7.91" fill="#0c58a0"/>
<rect x="153.44" y="240.31" width="7.84" height="7.91" fill="#0a2e8c"/>
<rect x="160.68" y="240.31" width="7.84" height="7.91" fill="#06086a"/>
<rect x="167.93" y="240.31" width="7.84" height="7.91" fill="#06086a"/>
<rect x="175.17" y="240.31" width="7.84" height="7.91" fill="#06086a"/>
<rect x="182.41" y="240.31" width="7.84" height="7.91" fill="#08187c"/>
<rect x="189.66" y="240.31" width="7.84" height="7.91" fill="#0a2e8c"/>
<rect x="81.00" y="247.62" width="7.84" height="7.91" fill="#08187c"/>
<rect x="88.24" y="247.62" width="7.84" height="7.91" fill="#0c58a0"/>
<rect x="95.49" y="247.62" width="7.84" height="7.91" fill="#08187c"/>
<rect x="102.73" y="247.62" width="7.84" height="7.91" fill="#0a2e8c"/>
<rect x="109.97" y="247.62" width="7.84" height="7.91" fill="#08187c"/>
<rect x="117.22" y="247.62" width="7.84" height="7.91" fill="#08187c"/>
<rect x="124.46" y="247.62" width="7.84" height="7.91" fill="#0a2e8c"/>
<rect x="131.71" y="247.62" width="7.84" height="7.91" fill="#0a2e8c"/>
<rect x="138.95" y="247.62" width="7.84" height="7.91" fill="#08187c"/>
<rect x="146.19" y="247.62" width="7.84" height="7.91" fill="#0c58a0"/>
<rect x="153.44" y="247.62" width="7.84" height="7.91" fill="#0c58a0"/>
<rect x="160.68" y="247.62" width="7.84" height="7.91" fill="#08187c"/>
<rect x="167.93" y="247.62" width="7.84" height="7.91" fill="#06086a"/>
<rect x="175.17" y="247.62" width="7.84" height="7.91" fill="#08187c"/>
<rect x="182.41" y="247.62" width="7.84" height="7.91" fill="#06086a"/>
<rect x="189.66" y="247.62" width="7.84" height="7.91" fill="#08187c"/>
<rect x="81.00" y="254.93" width="7.84" height="7.91" fill="#08187c"/>
<rect x="88.24" y="254.93" width="7.84" height="7.91" fill="#0a2e8c"/>
<rect x="95.49" y="254.93" width="7.84" height="7.91" fill="#1288aa"/>
<rect x="102.73" y="254.93" width="7.84" height="7.91" fill="#1fa4b0"/>
<rect x="109.97" y="254.93" width="7.84" height="7.91" fill="#0a2e8c"/>
<rect x="117.22" y="254.93" width="7.84" height="7.91" fill="#06086a"/>
<rect x="124.46" y="254.93" width="7.84" height="7.91" fill="#0a2e8c"/>
<rect x="131.71" y="254.93" width="7.84" height="7.91" fill="#0a2e8c"/>
<rect x="138.95" y="254.93" width="7.84" height="7.91" fill="#08187c"/>
<rect x="146.19" y="254.93" width="7.84" height="7.91" fill="#08187c"/>
<rect x="153.44" y="254.93" width="7.84" height="7.91" fill="#08187c"/>
<rect x="160.68" y="254.93" width="7.84" height="7.91" fill="#030250"/>
<rect x="167.93" y="254.93" width="7.84" height="7.91" fill="#08187c"/>
<rect x="175.17" y="254.93" width="7.84" height="7.91" fill="#0a2e8c"/>
<rect x="182.41" y="254.93" width="7.84" height="7.91" fill="#06086a"/>
<rect x="189.66" y="254.93" width="7.84" height="7.91" fill="#06086a"/>
<rect x="81.00" y="262.23" width="7.84" height="7.91" fill="#06086a"/>
<rect x="88.24" y="262.23" width="7.84" height="7.91" fill="#06086a"/>
<rect x="95.49" y="262.23" width="7.84" height="7.91" fill="#030250"/>
<rect x="102.73" y="262.23" width="7.84" height="7.91" fill="#06086a"/>
<rect x="109.97" y="262.23" width="7.84" height="7.91" fill="#06086a"/>
<rect x="117.22" y="262.23" width="7.84" height="7.91" fill="#0c58a0"/>
<rect x="124.46" y="262.23" width="7.84" height="7.91" fill="#0a2e8c"/>
<rect x="131.71" y="262.23" width="7.84" height="7.91" fill="#08187c"/>
<rect x="138.95" y="262.23" width="7.84" height="7.91" fill="#08187c"/>
<rect x="146.19" y="262.23" width="7.84" height="7.91" fill="#08187c"/>
<rect x="153.44" y="262.23" width="7.84" height="7.91" fill="#06086a"/>
<rect x="160.68" y="262.23" width="7.84" height="7.91" fill="#06086a"/>
<rect x="167.93" y="262.23" width="7.84" height="7.91" fill="#08187c"/>
<rect x="175.17" y="262.23" width="7.84" height="7.91" fill="#030250"/>
<rect x="182.41" y="262.23" width="7.84" height="7.91" fill="#0a2e8c"/>
<rect x="189.66" y="262.23" width="7.84" height="7.91" fill="#06086a"/>
<rect x="81.00" y="269.54" width="7.84" height="7.91" fill="#06086a"/>
<rect x="88.24" y="269.54" width="7.84" height="7.91" fill="#06086a"/>
<rect x="95.49" y="269.54" width="7.84" height="7.91" fill="#0a2e8c"/>
<rect x="102.73" y="269.54" width="7.84" height="7.91" fill="#08187c"/>
<rect x="109.97" y="269.54" width="7.84" height="7.91" fill="#08187c"/>
<rect x="117.22" y="269.54" width="7.84" height="7.91" fill="#06086a"/>
<rect x="124.46" y="269.54" width="7.84" height="7.91" fill="#0c58a0"/>
<rect x="131.71" y="269.54" width="7.84" height="7.91" fill="#08187c"/>
<rect x="138.95" y="269.54" width="7.84" height="7.91" fill="#08187c"/>
<rect x="146.19" y="269.54" width="7.84" height="7.91" fill="#1fa4b0"/>
<rect x="153.44" y="269.54" width="7.84" height="7.91" fill="#0a2e8c"/>
<rect x="160.68" y="269.54" width="7.84" height="7.91" fill="#06086a"/>
<rect x="167.93" y="269.54" width="7.84" height="7.91" fill="#06086a"/>
<rect x="175.17" y="269.54" width="7.84" height="7.91" fill="#06086a"/>
<rect x="182.41" y="269.54" width="7.84" height="7.91" fill="#06086a"/>
<rect x="189.66" y="269.54" width="7.84" height="7.91" fill="#06086a"/>
<rect x="81.00" y="276.84" width="7.84" height="7.91" fill="#0a2e8c"/>
<rect x="88.24" y="276.84" width="7.84" height="7.91" fill="#1288aa"/>
<rect x="95.49" y="276.84" width="7.84" height="7.91" fill="#0a2e8c"/>
<rect x="102.73" y="276.84" width="7.84" height="7.91" fill="#030250"/>
<rect x="109.97" y="276.84" width="7.84" height="7.91" fill="#0a2e8c"/>
<rect x="117.22" y="276.84" width="7.84" height="7.91" fill="#08187c"/>
<rect x="124.46" y="276.84" width="7.84" height="7.91" fill="#1fa4b0"/>
<rect x="131.71" y="276.84" width="7.84" height="7.91" fill="#4fb0c6"/>
<rect x="138.95" y="276.84" width="7.84" height="7.91" fill="#4fb0c6"/>
<rect x="146.19" y="276.84" width="7.84" height="7.91" fill="#1fa4b0"/>
<rect x="153.44" y="276.84" width="7.84" height="7.91" fill="#030250"/>
<rect x="160.68" y="276.84" width="7.84" height="7.91" fill="#0a2e8c"/>
<rect x="167.93" y="276.84" width="7.84" height="7.91" fill="#1288aa"/>
<rect x="175.17" y="276.84" width="7.84" height="7.91" fill="#06086a"/>
<rect x="182.41" y="276.84" width="7.84" height="7.91" fill="#06086a"/>
<rect x="189.66" y="276.84" width="7.84" height="7.91" fill="#06086a"/>
<rect x="81.00" y="284.15" width="7.84" height="7.91" fill="#1288aa"/>
<rect x="88.24" y="284.15" width="7.84" height="7.91" fill="#0a2e8c"/>
<rect x="95.49" y="284.15" width="7.84" height="7.91" fill="#1fa4b0"/>
<rect x="102.73" y="284.15" width="7.84" height="7.91" fill="#0c58a0"/>
<rect x="109.97" y="284.15" width="7.84" height="7.91" fill="#1288aa"/>
<rect x="117.22" y="284.15" width="7.84" height="7.91" fill="#06086a"/>
<rect x="124.46" y="284.15" width="7.84" height="7.91" fill="#0c58a0"/>
<rect x="131.71" y="284.15" width="7.84" height="7.91" fill="#1288aa"/>
<rect x="138.95" y="284.15" width="7.84" height="7.91" fill="#08187c"/>
<rect x="146.19" y="284.15" width="7.84" height="7.91" fill="#08187c"/>
<rect x="153.44" y="284.15" width="7.84" height="7.91" fill="#0c58a0"/>
<rect x="160.68" y="284.15" width="7.84" height="7.91" fill="#0a2e8c"/>
<rect x="167.93" y="284.15" width="7.84" height="7.91" fill="#08187c"/>
<rect x="175.17" y="284.15" width="7.84" height="7.91" fill="#06086a"/>
<rect x="182.41" y="284.15" width="7.84" height="7.91" fill="#06086a"/>
<rect x="189.66" y="284.15" width="7.84" height="7.91" fill="#0a2e8c"/>
<rect x="81.00" y="291.46" width="7.84" height="7.91" fill="#030250"/>
<rect x="88.24" y="291.46" width="7.84" height="7.91" fill="#0a2e8c"/>
<rect x="95.49" y="291.46" width="7.84" height="7.91" fill="#1288aa"/>
<rect x="102.73" y="291.46" width="7.84" height="7.91" fill="#06086a"/>
<rect x="109.97" y="291.46" width="7.84" height="7.91" fill="#06086a"/>
<rect x="117.22" y="291.46" width="7.84" height="7.91" fill="#08187c"/>
<rect x="124.46" y="291.46" width="7.84" height="7.91" fill="#08187c"/>
<rect x="131.71" y="291.46" width="7.84" height="7.91" fill="#0c58a0"/>
<rect x="138.95" y="291.46" width="7.84" height="7.91" fill="#06086a"/>
<rect x="146.19" y="291.46" width="7.84" height="7.91" fill="#0a2e8c"/>
<rect x="153.44" y="291.46" width="7.84" height="7.91" fill="#06086a"/>
<rect x="160.68" y="291.46" width="7.84" height="7.91" fill="#06086a"/>
<rect x="167.93" y="291.46" width="7.84" height="7.91" fill="#06086a"/>
<rect x="175.17" y="291.46" width="7.84" height="7.91" fill="#0a2e8c"/>
<rect x="182.41" y="291.46" width="7.84" height="7.91" fill="#06086a"/>
<rect x="189.66" y="291.46" width="7.84" height="7.91" fill="#08187c"/>
<rect x="81.00" y="298.76" width="7.84" height="7.91" fill="#06086a"/>
<rect x="88.24" y="298.76" width="7.84" height="7.91" fill="#06086a"/>
<rect x="95.49" y="298.76" width="7.84" height="7.91" fill="#06086a"/>
<rect x="102.73" y="298.76" width="7.84" height="7.91" fill="#06086a"/>
<rect x="109.97" y="298.76" width="7.84" height="7.91" fill="#06086a"/>
<rect x="117.22" y="298.76" width="7.84" height="7.91" fill="#06086a"/>
<rect x="124.46" y="298.76" width="7.84" height="7.91" fill="#030250"/>
<rect x="131.71" y="298.76" width="7.84" height="7.91" fill="#06086a"/>
<rect x="138.95" y="298.76" width="7.84" height="7.91" fill="#06086a"/>
<rect x="146.19" y="298.76" width="7.84" height="7.91" fill="#06086a"/>
<rect x="153.44" y="298.76" width="7.84" height="7.91" fill="#08187c"/>
<rect x="160.68" y="298.76" width="7.84" height="7.91" fill="#06086a"/>
<rect x="167.93" y="298.76" width="7.84" height="7.91" fill="#1fa4b0"/>
<rect x="175.17" y="298.76" width="7.84" height="7.91" fill="#0a2e8c"/>
<rect x="182.41" y="298.76" width="7.84" height="7.91" fill="#06086a"/>
<rect x="189.66" y="298.76" width="7.84" height="7.91" fill="#0a2e8c"/>
<rect x="81.00" y="306.07" width="7.84" height="7.91" fill="#030250"/>
<rect x="88.24" y="306.07" width="7.84" height="7.91" fill="#06086a"/>
<rect x="95.49" y="306.07" width="7.84" height="7.91" fill="#06086a"/>
<rect x="102.73" y="306.07" width="7.84" height="7.91" fill="#06086a"/>
<rect x="109.97" y="306.07" width="7.84" height="7.91" fill="#06086a"/>
<rect x="117.22" y="306.07" width="7.84" height="7.91" fill="#06086a"/>
<rect x="124.46" y="306.07" width="7.84" height="7.91" fill="#06086a"/>
<rect x="131.71" y="306.07" width="7.84" height="7.91" fill="#06086a"/>
<rect x="138.95" y="306.07" width="7.84" height="7.91" fill="#06086a"/>
<rect x="146.19" y="306.07" width="7.84" height="7.91" fill="#08187c"/>
<rect x="153.44" y="306.07" width="7.84" height="7.91" fill="#08187c"/>
<rect x="160.68" y="306.07" width="7.84" height="7.91" fill="#1288aa"/>
<rect x="167.93" y="306.07" width="7.84" height="7.91" fill="#0a2e8c"/>
<rect x="175.17" y="306.07" width="7.84" height="7.91" fill="#1288aa"/>
<rect x="182.41" y="306.07" width="7.84" height="7.91" fill="#08187c"/>
<rect x="189.66" y="306.07" width="7.84" height="7.91" fill="#08187c"/>
<rect x="81.00" y="313.38" width="7.84" height="7.91" fill="#06086a"/>
<rect x="88.24" y="313.38" width="7.84" height="7.91" fill="#06086a"/>
<rect x="95.49" y="313.38" width="7.84" height="7.91" fill="#030250"/>
<rect x="102.73" y="313.38" width="7.84" height="7.91" fill="#06086a"/>
<rect x="109.97" y="313.38" width="7.84" height="7.91" fill="#030250"/>
<rect x="117.22" y="313.38" width="7.84" height="7.91" fill="#06086a"/>
<rect x="124.46" y="313.38" width="7.84" height="7.91" fill="#06086a"/>
<rect x="131.71" y="313.38" width="7.84" height="7.91" fill="#06086a"/>
<rect x="138.95" y="313.38" width="7.84" height="7.91" fill="#06086a"/>
<rect x="146.19" y="313.38" width="7.84" height="7.91" fill="#06086a"/>
<rect x="153.44" y="313.38" width="7.84" height="7.91" fill="#0a2e8c"/>
<rect x="160.68" y="313.38" width="7.84" height="7.91" fill="#08187c"/>
<rect x="167.93" y="313.38" width="7.84" height="7.91" fill="#08187c"/>
<rect x="175.17" y="313.38" width="7.84" height="7.91" fill="#1288aa"/>
<rect x="182.41" y="313.38" width="7.84" height="7.91" fill="#06086a"/>
<rect x="189.66" y="313.38" width="7.84" height="7.91" fill="#08187c"/>
<rect x="81.00" y="320.68" width="7.84" height="7.91" fill="#06086a"/>
<rect x="88.24" y="320.68" width="7.84" height="7.91" fill="#08187c"/>
<rect x="95.49" y="320.68" width="7.84" height="7.91" fill="#06086a"/>
<rect x="102.73" y="320.68" width="7.84" height="7.91" fill="#08187c"/>
<rect x="109.97" y="320.68" width="7.84" height="7.91" fill="#0c58a0"/>
<rect x="117.22" y="320.68" width="7.84" height="7.91" fill="#08187c"/>
<rect x="124.46" y="320.68" width="7.84" height="7.91" fill="#030250"/>
<rect x="131.71" y="320.68" width="7.84" height="7.91" fill="#06086a"/>
<rect x="138.95" y="320.68" width="7.84" height="7.91" fill="#06086a"/>
<rect x="146.19" y="320.68" width="7.84" height="7.91" fill="#06086a"/>
<rect x="153.44" y="320.68" width="7.84" height="7.91" fill="#06086a"/>
<rect x="160.68" y="320.68" width="7.84" height="7.91" fill="#06086a"/>
<rect x="167.93" y="320.68" width="7.84" height="7.91" fill="#0a2e8c"/>
<rect x="175.17" y="320.68" width="7.84" height="7.91" fill="#0c58a0"/>
<rect x="182.41" y="320.68" width="7.84" height="7.91" fill="#0a2e8c"/>
<rect x="189.66" y="320.68" width="7.84" height="7.91" fill="#08187c"/>
<rect x="81.00" y="327.99" width="7.84" height="7.91" fill="#0a2e8c"/>
<rect x="88.24" y="327.99" width="7.84" height="7.91" fill="#06086a"/>
<rect x="95.49" y="327.99" width="7.84" height="7.91" fill="#06086a"/>
<rect x="102.73" y="327.99" width="7.84" height="7.91" fill="#06086a"/>
<rect x="109.97" y="327.99" width="7.84" height="7.91" fill="#06086a"/>
<rect x="117.22" y="327.99" width="7.84" height="7.91" fill="#08187c"/>
<rect x="124.46" y="327.99" width="7.84" height="7.91" fill="#08187c"/>
<rect x="131.71" y="327.99" width="7.84" height="7.91" fill="#08187c"/>
<rect x="138.95" y="327.99" width="7.84" height="7.91" fill="#06086a"/>
<rect x="146.19" y="327.99" width="7.84" height="7.91" fill="#06086a"/>
<rect x="153.44" y="327.99" width="7.84" height="7.91" fill="#06086a"/>
<rect x="160.68" y="327.99" width="7.84" height="7.91" fill="#06086a"/>
<rect x="167.93" y="327.99" width="7.84" height="7.91" fill="#06086a"/>
<rect x="175.17" y="327.99" width="7.84" height="7.91" fill="#06086a"/>
<rect x="182.41" y="327.99" width="7.84" height="7.91" fill="#06086a"/>
<rect x="189.66" y="327.99" width="7.84" height="7.91" fill="#1fa4b0"/>
<rect x="81.00" y="335.29" width="7.84" height="7.91" fill="#08187c"/>
<rect x="88.24" y="335.29" width="7.84" height="7.91" fill="#0a2e8c"/>
<rect x="95.49" y="335.29" width="7.84" height="7.91" fill="#08187c"/>
<rect x="102.73" y="335.29" width="7.84" height="7.91" fill="#06086a"/>
<rect x="109.97" y="335.29" width="7.84" height="7.91" fill="#06086a"/>
<rect x="117.22" y="335.29" width="7.84" height="7.91" fill="#06086a"/>
<rect x="124.46" y="335.29" width="7.84" height="7.91" fill="#06086a"/>
<rect x="131.71" y="335.29" width="7.84" height="7.91" fill="#0a2e8c"/>
<rect x="138.95" y="335.29" width="7.84" height="7.91" fill="#08187c"/>
<rect x="146.19" y="335.29" width="7.84" height="7.91" fill="#0c58a0"/>
<rect x="153.44" y="335.29" width="7.84" height="7.91" fill="#0c58a0"/>
<rect x="160.68" y="335.29" width="7.84" height="7.91" fill="#0a2e8c"/>
<rect x="167.93" y="335.29" width="7.84" height="7.91" fill="#06086a"/>
<rect x="175.17" y="335.29" width="7.84" height="7.91" fill="#06086a"/>
<rect x="182.41" y="335.29" width="7.84" height="7.91" fill="#06086a"/>
<rect x="189.66" y="335.29" width="7.84" height="7.91" fill="#1288aa"/>
</g>
<g clip-path="url(#clipP5)" filter="url(#blur03)">
<rect x="79.00" y="357.10" width="120.30" height="129.60" fill="#0a1470" />
<rect x="81.00" y="359.10" width="7.87" height="8.45" fill="#0c3c94"/>
<rect x="88.27" y="359.10" width="7.87" height="8.45" fill="#0c3c94"/>
<rect x="95.54" y="359.10" width="7.87" height="8.45" fill="#0a2284"/>
<rect x="102.81" y="359.10" width="7.87" height="8.45" fill="#0a2284"/>
<rect x="110.08" y="359.10" width="7.87" height="8.45" fill="#0a2284"/>
<rect x="117.34" y="359.10" width="7.87" height="8.45" fill="#0d62a4"/>
<rect x="124.61" y="359.10" width="7.87" height="8.45" fill="#138eac"/>
<rect x="131.88" y="359.10" width="7.87" height="8.45" fill="#040456"/>
<rect x="139.15" y="359.10" width="7.87" height="8.45" fill="#040456"/>
<rect x="146.42" y="359.10" width="7.87" height="8.45" fill="#080f70"/>
<rect x="153.69" y="359.10" width="7.87" height="8.45" fill="#0c3c94"/>
<rect x="160.96" y="359.10" width="7.87" height="8.45" fill="#0a2284"/>
<rect x="168.23" y="359.10" width="7.87" height="8.45" fill="#040456"/>
<rect x="175.49" y="359.10" width="7.87" height="8.45" fill="#22a8b2"/>
<rect x="182.76" y="359.10" width="7.87" height="8.45" fill="#0d62a4"/>
<rect x="190.03" y="359.10" width="7.87" height="8.45" fill="#138eac"/>
<rect x="81.00" y="366.95" width="7.87" height="8.45" fill="#080f70"/>
<rect x="88.27" y="366.95" width="7.87" height="8.45" fill="#0d62a4"/>
<rect x="95.54" y="366.95" width="7.87" height="8.45" fill="#0a2284"/>
<rect x="102.81" y="366.95" width="7.87" height="8.45" fill="#0c3c94"/>
<rect x="110.08" y="366.95" width="7.87" height="8.45" fill="#0a2284"/>
<rect x="117.34" y="366.95" width="7.87" height="8.45" fill="#138eac"/>
<rect x="124.61" y="366.95" width="7.87" height="8.45" fill="#138eac"/>
<rect x="131.88" y="366.95" width="7.87" height="8.45" fill="#080f70"/>
<rect x="139.15" y="366.95" width="7.87" height="8.45" fill="#0a2284"/>
<rect x="146.42" y="366.95" width="7.87" height="8.45" fill="#22a8b2"/>
<rect x="153.69" y="366.95" width="7.87" height="8.45" fill="#080f70"/>
<rect x="160.96" y="366.95" width="7.87" height="8.45" fill="#0a2284"/>
<rect x="168.23" y="366.95" width="7.87" height="8.45" fill="#080f70"/>
<rect x="175.49" y="366.95" width="7.87" height="8.45" fill="#080f70"/>
<rect x="182.76" y="366.95" width="7.87" height="8.45" fill="#080f70"/>
<rect x="190.03" y="366.95" width="7.87" height="8.45" fill="#080f70"/>
<rect x="81.00" y="374.80" width="7.87" height="8.45" fill="#22a8b2"/>
<rect x="88.27" y="374.80" width="7.87" height="8.45" fill="#080f70"/>
<rect x="95.54" y="374.80" width="7.87" height="8.45" fill="#0c3c94"/>
<rect x="102.81" y="374.80" width="7.87" height="8.45" fill="#080f70"/>
<rect x="110.08" y="374.80" width="7.87" height="8.45" fill="#0c3c94"/>
<rect x="117.34" y="374.80" width="7.87" height="8.45" fill="#138eac"/>
<rect x="124.61" y="374.80" width="7.87" height="8.45" fill="#080f70"/>
<rect x="131.88" y="374.80" width="7.87" height="8.45" fill="#138eac"/>
<rect x="139.15" y="374.80" width="7.87" height="8.45" fill="#0a2284"/>
<rect x="146.42" y="374.80" width="7.87" height="8.45" fill="#080f70"/>
<rect x="153.69" y="374.80" width="7.87" height="8.45" fill="#0a2284"/>
<rect x="160.96" y="374.80" width="7.87" height="8.45" fill="#080f70"/>
<rect x="168.23" y="374.80" width="7.87" height="8.45" fill="#040456"/>
<rect x="175.49" y="374.80" width="7.87" height="8.45" fill="#138eac"/>
<rect x="182.76" y="374.80" width="7.87" height="8.45" fill="#82b2dc"/>
<rect x="190.03" y="374.80" width="7.87" height="8.45" fill="#080f70"/>
<rect x="81.00" y="382.65" width="7.87" height="8.45" fill="#080f70"/>
<rect x="88.27" y="382.65" width="7.87" height="8.45" fill="#0a2284"/>
<rect x="95.54" y="382.65" width="7.87" height="8.45" fill="#138eac"/>
<rect x="102.81" y="382.65" width="7.87" height="8.45" fill="#22a8b2"/>
<rect x="110.08" y="382.65" width="7.87" height="8.45" fill="#0a2284"/>
<rect x="117.34" y="382.65" width="7.87" height="8.45" fill="#0a2284"/>
<rect x="124.61" y="382.65" width="7.87" height="8.45" fill="#0d62a4"/>
<rect x="131.88" y="382.65" width="7.87" height="8.45" fill="#0c3c94"/>
<rect x="139.15" y="382.65" width="7.87" height="8.45" fill="#0d62a4"/>
<rect x="146.42" y="382.65" width="7.87" height="8.45" fill="#138eac"/>
<rect x="153.69" y="382.65" width="7.87" height="8.45" fill="#0a2284"/>
<rect x="160.96" y="382.65" width="7.87" height="8.45" fill="#080f70"/>
<rect x="168.23" y="382.65" width="7.87" height="8.45" fill="#0c3c94"/>
<rect x="175.49" y="382.65" width="7.87" height="8.45" fill="#080f70"/>
<rect x="182.76" y="382.65" width="7.87" height="8.45" fill="#0a2284"/>
<rect x="190.03" y="382.65" width="7.87" height="8.45" fill="#080f70"/>
<rect x="81.00" y="390.50" width="7.87" height="8.45" fill="#080f70"/>
<rect x="88.27" y="390.50" width="7.87" height="8.45" fill="#0a2284"/>
<rect x="95.54" y="390.50" width="7.87" height="8.45" fill="#0d62a4"/>
<rect x="102.81" y="390.50" width="7.87" height="8.45" fill="#0d62a4"/>
<rect x="110.08" y="390.50" width="7.87" height="8.45" fill="#138eac"/>
<rect x="117.34" y="390.50" width="7.87" height="8.45" fill="#138eac"/>
<rect x="124.61" y="390.50" width="7.87" height="8.45" fill="#22a8b2"/>
<rect x="131.88" y="390.50" width="7.87" height="8.45" fill="#0a2284"/>
<rect x="139.15" y="390.50" width="7.87" height="8.45" fill="#080f70"/>
<rect x="146.42" y="390.50" width="7.87" height="8.45" fill="#0a2284"/>
<rect x="153.69" y="390.50" width="7.87" height="8.45" fill="#138eac"/>
<rect x="160.96" y="390.50" width="7.87" height="8.45" fill="#040456"/>
<rect x="168.23" y="390.50" width="7.87" height="8.45" fill="#080f70"/>
<rect x="175.49" y="390.50" width="7.87" height="8.45" fill="#040456"/>
<rect x="182.76" y="390.50" width="7.87" height="8.45" fill="#52b2c8"/>
<rect x="190.03" y="390.50" width="7.87" height="8.45" fill="#0c3c94"/>
<rect x="81.00" y="398.35" width="7.87" height="8.45" fill="#080f70"/>
<rect x="88.27" y="398.35" width="7.87" height="8.45" fill="#0a2284"/>
<rect x="95.54" y="398.35" width="7.87" height="8.45" fill="#0a2284"/>
<rect x="102.81" y="398.35" width="7.87" height="8.45" fill="#0a2284"/>
<rect x="110.08" y="398.35" width="7.87" height="8.45" fill="#0c3c94"/>
<rect x="117.34" y="398.35" width="7.87" height="8.45" fill="#040456"/>
<rect x="124.61" y="398.35" width="7.87" height="8.45" fill="#0d62a4"/>
<rect x="131.88" y="398.35" width="7.87" height="8.45" fill="#138eac"/>
<rect x="139.15" y="398.35" width="7.87" height="8.45" fill="#0a2284"/>
<rect x="146.42" y="398.35" width="7.87" height="8.45" fill="#0a2284"/>
<rect x="153.69" y="398.35" width="7.87" height="8.45" fill="#0d62a4"/>
<rect x="160.96" y="398.35" width="7.87" height="8.45" fill="#0a2284"/>
<rect x="168.23" y="398.35" width="7.87" height="8.45" fill="#0a2284"/>
<rect x="175.49" y="398.35" width="7.87" height="8.45" fill="#0c3c94"/>
<rect x="182.76" y="398.35" width="7.87" height="8.45" fill="#080f70"/>
<rect x="190.03" y="398.35" width="7.87" height="8.45" fill="#080f70"/>
<rect x="81.00" y="406.20" width="7.87" height="8.45" fill="#080f70"/>
<rect x="88.27" y="406.20" width="7.87" height="8.45" fill="#0c3c94"/>
<rect x="95.54" y="406.20" width="7.87" height="8.45" fill="#0a2284"/>
<rect x="102.81" y="406.20" width="7.87" height="8.45" fill="#080f70"/>
<rect x="110.08" y="406.20" width="7.87" height="8.45" fill="#0a2284"/>
<rect x="117.34" y="406.20" width="7.87" height="8.45" fill="#138eac"/>
<rect x="124.61" y="406.20" width="7.87" height="8.45" fill="#0d62a4"/>
<rect x="131.88" y="406.20" width="7.87" height="8.45" fill="#52b2c8"/>
<rect x="139.15" y="406.20" width="7.87" height="8.45" fill="#080f70"/>
<rect x="146.42" y="406.20" width="7.87" height="8.45" fill="#138eac"/>
<rect x="153.69" y="406.20" width="7.87" height="8.45" fill="#0c3c94"/>
<rect x="160.96" y="406.20" width="7.87" height="8.45" fill="#080f70"/>
<rect x="168.23" y="406.20" width="7.87" height="8.45" fill="#080f70"/>
<rect x="175.49" y="406.20" width="7.87" height="8.45" fill="#080f70"/>
<rect x="182.76" y="406.20" width="7.87" height="8.45" fill="#0a2284"/>
<rect x="190.03" y="406.20" width="7.87" height="8.45" fill="#138eac"/>
<rect x="81.00" y="414.05" width="7.87" height="8.45" fill="#0a2284"/>
<rect x="88.27" y="414.05" width="7.87" height="8.45" fill="#080f70"/>
<rect x="95.54" y="414.05" width="7.87" height="8.45" fill="#138eac"/>
<rect x="102.81" y="414.05" width="7.87" height="8.45" fill="#080f70"/>
<rect x="110.08" y="414.05" width="7.87" height="8.45" fill="#080f70"/>
<rect x="117.34" y="414.05" width="7.87" height="8.45" fill="#22a8b2"/>
<rect x="124.61" y="414.05" width="7.87" height="8.45" fill="#138eac"/>
<rect x="131.88" y="414.05" width="7.87" height="8.45" fill="#0c3c94"/>
<rect x="139.15" y="414.05" width="7.87" height="8.45" fill="#138eac"/>
<rect x="146.42" y="414.05" width="7.87" height="8.45" fill="#22a8b2"/>
<rect x="153.69" y="414.05" width="7.87" height="8.45" fill="#0c3c94"/>
<rect x="160.96" y="414.05" width="7.87" height="8.45" fill="#0a2284"/>
<rect x="168.23" y="414.05" width="7.87" height="8.45" fill="#0d62a4"/>
<rect x="175.49" y="414.05" width="7.87" height="8.45" fill="#0c3c94"/>
<rect x="182.76" y="414.05" width="7.87" height="8.45" fill="#138eac"/>
<rect x="190.03" y="414.05" width="7.87" height="8.45" fill="#138eac"/>
<rect x="81.00" y="421.90" width="7.87" height="8.45" fill="#080f70"/>
<rect x="88.27" y="421.90" width="7.87" height="8.45" fill="#080f70"/>
<rect x="95.54" y="421.90" width="7.87" height="8.45" fill="#080f70"/>
<rect x="102.81" y="421.90" width="7.87" height="8.45" fill="#0a2284"/>
<rect x="110.08" y="421.90" width="7.87" height="8.45" fill="#0a2284"/>
<rect x="117.34" y="421.90" width="7.87" height="8.45" fill="#0a2284"/>
<rect x="124.61" y="421.90" width="7.87" height="8.45" fill="#0d62a4"/>
<rect x="131.88" y="421.90" width="7.87" height="8.45" fill="#0d62a4"/>
<rect x="139.15" y="421.90" width="7.87" height="8.45" fill="#0d62a4"/>
<rect x="146.42" y="421.90" width="7.87" height="8.45" fill="#0c3c94"/>
<rect x="153.69" y="421.90" width="7.87" height="8.45" fill="#0d62a4"/>
<rect x="160.96" y="421.90" width="7.87" height="8.45" fill="#080f70"/>
<rect x="168.23" y="421.90" width="7.87" height="8.45" fill="#080f70"/>
<rect x="175.49" y="421.90" width="7.87" height="8.45" fill="#080f70"/>
<rect x="182.76" y="421.90" width="7.87" height="8.45" fill="#0a2284"/>
<rect x="190.03" y="421.90" width="7.87" height="8.45" fill="#0a2284"/>
<rect x="81.00" y="429.75" width="7.87" height="8.45" fill="#080f70"/>
<rect x="88.27" y="429.75" width="7.87" height="8.45" fill="#0d62a4"/>
<rect x="95.54" y="429.75" width="7.87" height="8.45" fill="#0d62a4"/>
<rect x="102.81" y="429.75" width="7.87" height="8.45" fill="#138eac"/>
<rect x="110.08" y="429.75" width="7.87" height="8.45" fill="#138eac"/>
<rect x="117.34" y="429.75" width="7.87" height="8.45" fill="#080f70"/>
<rect x="124.61" y="429.75" width="7.87" height="8.45" fill="#138eac"/>
<rect x="131.88" y="429.75" width="7.87" height="8.45" fill="#22a8b2"/>
<rect x="139.15" y="429.75" width="7.87" height="8.45" fill="#138eac"/>
<rect x="146.42" y="429.75" width="7.87" height="8.45" fill="#22a8b2"/>
<rect x="153.69" y="429.75" width="7.87" height="8.45" fill="#22a8b2"/>
<rect x="160.96" y="429.75" width="7.87" height="8.45" fill="#0a2284"/>
<rect x="168.23" y="429.75" width="7.87" height="8.45" fill="#52b2c8"/>
<rect x="175.49" y="429.75" width="7.87" height="8.45" fill="#0a2284"/>
<rect x="182.76" y="429.75" width="7.87" height="8.45" fill="#080f70"/>
<rect x="190.03" y="429.75" width="7.87" height="8.45" fill="#080f70"/>
<rect x="81.00" y="437.60" width="7.87" height="8.45" fill="#0a2284"/>
<rect x="88.27" y="437.60" width="7.87" height="8.45" fill="#080f70"/>
<rect x="95.54" y="437.60" width="7.87" height="8.45" fill="#0a2284"/>
<rect x="102.81" y="437.60" width="7.87" height="8.45" fill="#0d62a4"/>
<rect x="110.08" y="437.60" width="7.87" height="8.45" fill="#0d62a4"/>
<rect x="117.34" y="437.60" width="7.87" height="8.45" fill="#080f70"/>
<rect x="124.61" y="437.60" width="7.87" height="8.45" fill="#0c3c94"/>
<rect x="131.88" y="437.60" width="7.87" height="8.45" fill="#22a8b2"/>
<rect x="139.15" y="437.60" width="7.87" height="8.45" fill="#138eac"/>
<rect x="146.42" y="437.60" width="7.87" height="8.45" fill="#0d62a4"/>
<rect x="153.69" y="437.60" width="7.87" height="8.45" fill="#0d62a4"/>
<rect x="160.96" y="437.60" width="7.87" height="8.45" fill="#0a2284"/>
<rect x="168.23" y="437.60" width="7.87" height="8.45" fill="#0a2284"/>
<rect x="175.49" y="437.60" width="7.87" height="8.45" fill="#0c3c94"/>
<rect x="182.76" y="437.60" width="7.87" height="8.45" fill="#0c3c94"/>
<rect x="190.03" y="437.60" width="7.87" height="8.45" fill="#52b2c8"/>
<rect x="81.00" y="445.45" width="7.87" height="8.45" fill="#138eac"/>
<rect x="88.27" y="445.45" width="7.87" height="8.45" fill="#138eac"/>
<rect x="95.54" y="445.45" width="7.87" height="8.45" fill="#22a8b2"/>
<rect x="102.81" y="445.45" width="7.87" height="8.45" fill="#138eac"/>
<rect x="110.08" y="445.45" width="7.87" height="8.45" fill="#0d62a4"/>
<rect x="117.34" y="445.45" width="7.87" height="8.45" fill="#22a8b2"/>
<rect x="124.61" y="445.45" width="7.87" height="8.45" fill="#22a8b2"/>
<rect x="131.88" y="445.45" width="7.87" height="8.45" fill="#138eac"/>
<rect x="139.15" y="445.45" width="7.87" height="8.45" fill="#138eac"/>
<rect x="146.42" y="445.45" width="7.87" height="8.45" fill="#22a8b2"/>
<rect x="153.69" y="445.45" width="7.87" height="8.45" fill="#138eac"/>
<rect x="160.96" y="445.45" width="7.87" height="8.45" fill="#138eac"/>
<rect x="168.23" y="445.45" width="7.87" height="8.45" fill="#0c3c94"/>
<rect x="175.49" y="445.45" width="7.87" height="8.45" fill="#0c3c94"/>
<rect x="182.76" y="445.45" width="7.87" height="8.45" fill="#138eac"/>
<rect x="190.03" y="445.45" width="7.87" height="8.45" fill="#22a8b2"/>
<rect x="81.00" y="453.30" width="7.87" height="8.45" fill="#080f70"/>
<rect x="88.27" y="453.30" width="7.87" height="8.45" fill="#080f70"/>
<rect x="95.54" y="453.30" width="7.87" height="8.45" fill="#080f70"/>
<rect x="102.81" y="453.30" width="7.87" height="8.45" fill="#0c3c94"/>
<rect x="110.08" y="453.30" width="7.87" height="8.45" fill="#138eac"/>
<rect x="117.34" y="453.30" width="7.87" height="8.45" fill="#0a2284"/>
<rect x="124.61" y="453.30" width="7.87" height="8.45" fill="#0d62a4"/>
<rect x="131.88" y="453.30" width="7.87" height="8.45" fill="#138eac"/>
<rect x="139.15" y="453.30" width="7.87" height="8.45" fill="#0d62a4"/>
<rect x="146.42" y="453.30" width="7.87" height="8.45" fill="#22a8b2"/>
<rect x="153.69" y="453.30" width="7.87" height="8.45" fill="#0c3c94"/>
<rect x="160.96" y="453.30" width="7.87" height="8.45" fill="#040456"/>
<rect x="168.23" y="453.30" width="7.87" height="8.45" fill="#080f70"/>
<rect x="175.49" y="453.30" width="7.87" height="8.45" fill="#080f70"/>
<rect x="182.76" y="453.30" width="7.87" height="8.45" fill="#0c3c94"/>
<rect x="190.03" y="453.30" width="7.87" height="8.45" fill="#22a8b2"/>
<rect x="81.00" y="461.15" width="7.87" height="8.45" fill="#080f70"/>
<rect x="88.27" y="461.15" width="7.87" height="8.45" fill="#0a2284"/>
<rect x="95.54" y="461.15" width="7.87" height="8.45" fill="#080f70"/>
<rect x="102.81" y="461.15" width="7.87" height="8.45" fill="#22a8b2"/>
<rect x="110.08" y="461.15" width="7.87" height="8.45" fill="#22a8b2"/>
<rect x="117.34" y="461.15" width="7.87" height="8.45" fill="#138eac"/>
<rect x="124.61" y="461.15" width="7.87" height="8.45" fill="#0d62a4"/>
<rect x="131.88" y="461.15" width="7.87" height="8.45" fill="#52b2c8"/>
<rect x="139.15" y="461.15" width="7.87" height="8.45" fill="#82b2dc"/>
<rect x="146.42" y="461.15" width="7.87" height="8.45" fill="#22a8b2"/>
<rect x="153.69" y="461.15" width="7.87" height="8.45" fill="#0d62a4"/>
<rect x="160.96" y="461.15" width="7.87" height="8.45" fill="#138eac"/>
<rect x="168.23" y="461.15" width="7.87" height="8.45" fill="#0d62a4"/>
<rect x="175.49" y="461.15" width="7.87" height="8.45" fill="#0c3c94"/>
<rect x="182.76" y="461.15" width="7.87" height="8.45" fill="#0c3c94"/>
<rect x="190.03" y="461.15" width="7.87" height="8.45" fill="#080f70"/>
<rect x="81.00" y="469.00" width="7.87" height="8.45" fill="#0c3c94"/>
<rect x="88.27" y="469.00" width="7.87" height="8.45" fill="#0d62a4"/>
<rect x="95.54" y="469.00" width="7.87" height="8.45" fill="#0c3c94"/>
<rect x="102.81" y="469.00" width="7.87" height="8.45" fill="#22a8b2"/>
<rect x="110.08" y="469.00" width="7.87" height="8.45" fill="#138eac"/>
<rect x="117.34" y="469.00" width="7.87" height="8.45" fill="#52b2c8"/>
<rect x="124.61" y="469.00" width="7.87" height="8.45" fill="#080f70"/>
<rect x="131.88" y="469.00" width="7.87" height="8.45" fill="#138eac"/>
<rect x="139.15" y="469.00" width="7.87" height="8.45" fill="#138eac"/>
<rect x="146.42" y="469.00" width="7.87" height="8.45" fill="#0c3c94"/>
<rect x="153.69" y="469.00" width="7.87" height="8.45" fill="#0a2284"/>
<rect x="160.96" y="469.00" width="7.87" height="8.45" fill="#0d62a4"/>
<rect x="168.23" y="469.00" width="7.87" height="8.45" fill="#080f70"/>
<rect x="175.49" y="469.00" width="7.87" height="8.45" fill="#040456"/>
<rect x="182.76" y="469.00" width="7.87" height="8.45" fill="#0c3c94"/>
<rect x="190.03" y="469.00" width="7.87" height="8.45" fill="#22a8b2"/>
<rect x="81.00" y="476.85" width="7.87" height="8.45" fill="#040456"/>
<rect x="88.27" y="476.85" width="7.87" height="8.45" fill="#040456"/>
<rect x="95.54" y="476.85" width="7.87" height="8.45" fill="#080f70"/>
<rect x="102.81" y="476.85" width="7.87" height="8.45" fill="#0a2284"/>
<rect x="110.08" y="476.85" width="7.87" height="8.45" fill="#080f70"/>
<rect x="117.34" y="476.85" width="7.87" height="8.45" fill="#080f70"/>
<rect x="124.61" y="476.85" width="7.87" height="8.45" fill="#040456"/>
<rect x="131.88" y="476.85" width="7.87" height="8.45" fill="#040456"/>
<rect x="139.15" y="476.85" width="7.87" height="8.45" fill="#040456"/>
<rect x="146.42" y="476.85" width="7.87" height="8.45" fill="#0d62a4"/>
<rect x="153.69" y="476.85" width="7.87" height="8.45" fill="#0a2284"/>
<rect x="160.96" y="476.85" width="7.87" height="8.45" fill="#0a2284"/>
<rect x="168.23" y="476.85" width="7.87" height="8.45" fill="#080f70"/>
<rect x="175.49" y="476.85" width="7.87" height="8.45" fill="#0c3c94"/>
<rect x="182.76" y="476.85" width="7.87" height="8.45" fill="#0a2284"/>
<rect x="190.03" y="476.85" width="7.87" height="8.45" fill="#0a2284"/>
</g>
<rect x="202.10" y="232.00" width="3.90" height="108.00" fill="url(#afmbar)" />
<rect x="202.10" y="365.60" width="3.80" height="116.40" fill="url(#afmbar)" />
<text x="198.50" y="232.00" font-size="5.1" fill="#111" >7.7 kPa</text>
<text x="197.60" y="342.60" font-size="5.1" fill="#111" >-95.0 Pa</text>
<text x="199.60" y="363.50" font-size="5.4" fill="#111" >2.5 kPa</text>
<text x="197.80" y="484.50" font-size="5.4" fill="#111" >93.0 Pa</text>
<path d="M81.2 345.2 v-0.9 H196.8 v0.9" stroke="#999" stroke-width="0.4" fill="none" />
<text x="81.40" y="348.40" font-size="2.3" fill="#444" >0.1</text>
<text x="139.00" y="348.50" font-size="2.4" fill="#111" text-anchor="middle" font-weight="bold" >X Modulus</text>
<text x="196.60" y="348.40" font-size="2.3" fill="#444" text-anchor="end" >19.9 um</text>
<path d="M81.2 487.4 v-0.9 H196.8 v0.9" stroke="#999" stroke-width="0.4" fill="none" />
<text x="81.40" y="490.60" font-size="2.3" fill="#444" >0.1</text>
<text x="139.00" y="490.70" font-size="2.4" fill="#111" text-anchor="middle" font-weight="bold" >X Modulus</text>
<text x="196.60" y="490.60" font-size="2.3" fill="#444" text-anchor="end" >19.9 um</text>
<text x="48.00" y="303.30" font-size="12.1" fill="#111" >HCC</text>
<text x="23.60" y="427.40" font-size="12.0" fill="#111" >HCC-SDS</text>
<line x1="252.40" y1="307.68" x2="760.60" y2="307.68" stroke="#ececec" stroke-width="0.6" />
<line x1="252.40" y1="282.65" x2="760.60" y2="282.65" stroke="#ececec" stroke-width="0.6" />
<line x1="252.40" y1="257.62" x2="760.60" y2="257.62" stroke="#ececec" stroke-width="0.6" />
<line x1="252.40" y1="232.60" x2="760.60" y2="232.60" stroke="#ececec" stroke-width="0.6" />
<line x1="354.05" y1="232.60" x2="354.05" y2="332.70" stroke="#ececec" stroke-width="0.6" />
<text x="354.05" y="338.50" font-size="5.6" fill="#111" text-anchor="middle" >0.5</text>
<line x1="455.70" y1="232.60" x2="455.70" y2="332.70" stroke="#ececec" stroke-width="0.6" />
<text x="455.70" y="338.50" font-size="5.6" fill="#111" text-anchor="middle" >1</text>
<line x1="557.35" y1="232.60" x2="557.35" y2="332.70" stroke="#ececec" stroke-width="0.6" />
<text x="557.35" y="338.50" font-size="5.6" fill="#111" text-anchor="middle" >1.5</text>
<line x1="659.00" y1="232.60" x2="659.00" y2="332.70" stroke="#ececec" stroke-width="0.6" />
<text x="659.00" y="338.50" font-size="5.6" fill="#111" text-anchor="middle" >2</text>
<line x1="760.60" y1="232.60" x2="760.60" y2="332.70" stroke="#ececec" stroke-width="0.6" />
<line x1="252.40" y1="332.70" x2="760.60" y2="332.70" stroke="#e4e4e4" stroke-width="0.6" />
<text x="252.60" y="309.57" font-size="5.5" fill="#111" text-anchor="end" >0.5</text>
<text x="252.60" y="284.55" font-size="5.5" fill="#111" text-anchor="end" >1</text>
<text x="252.60" y="259.52" font-size="5.5" fill="#111" text-anchor="end" >1.5</text>
<text x="252.70" y="235.30" font-size="5.5" fill="#111" text-anchor="end" >2</text>
<text x="250.10" y="335.70" font-size="5.5" fill="#111" text-anchor="end" >%</text>
<text x="252.90" y="230.90" font-size="5.3" fill="#222" >Depth Histogram</text>
<text x="752.00" y="339.00" font-size="6.4" fill="#222" >kPa</text>
<path d="M253.1 332.7 v-19.4 M296.4 332.7 v-19.4 M299.6 332.7 v-19.4 M306.7 332.7 v-19.4 M322.3 332.7 v-19.4 M328.7 332.7 v-19.4 M335.7 332.7 v-19.4 M342.5 332.7 v-19.4 M350.7 332.7 v-19.4 M352.4 332.7 v-19.4 M354.9 332.7 v-19.4 M357.8 332.7 v-19.4 M362.7 332.7 v-19.4 M369.5 332.7 v-38.9 M372.7 332.7 v-19.4 M374.8 332.7 v-19.4 M376.2 332.7 v-19.4 M380.8 332.7 v-19.4 M381.4 332.7 v-19.4 M389.4 332.7 v-19.4 M393.3 332.7 v-19.4 M395.1 332.7 v-19.4 M399.0 332.7 v-19.4 M403.1 332.7 v-19.4 M404.8 332.7 v-38.9 M406.6 332.7 v-19.4 M408.4 332.7 v-77.8 M411.0 332.7 v-38.9 M411.9 332.7 v-58.3 M413.2 332.7 v-38.9 M416.0 332.7 v-58.3 M416.9 332.7 v-38.9 M419.4 332.7 v-19.4 M422.2 332.7 v-38.9 M423.5 332.7 v-19.4 M425.4 332.7 v-38.9 M426.5 332.7 v-19.4 M429.7 332.7 v-38.9 M431.5 332.7 v-38.9 M432.7 332.7 v-19.4 M434.5 332.7 v-38.9 M435.9 332.7 v-77.8 M436.8 332.7 v-19.4 M440.3 332.7 v-19.4 M442.1 332.7 v-19.4 M446.5 332.7 v-19.4 M447.8 332.7 v-19.4 M448.8 332.7 v-58.3 M451.0 332.7 v-19.4 M453.5 332.7 v-77.8 M454.5 332.7 v-38.9 M459.0 332.7 v-38.9 M460.7 332.7 v-19.4 M463.4 332.7 v-38.9 M465.5 332.7 v-38.9 M467.3 332.7 v-38.9 M471.4 332.7 v-19.4 M473.5 332.7 v-58.3 M477.6 332.7 v-19.4 M482.6 332.7 v-19.4 M483.8 332.7 v-19.4 M486.5 332.7 v-58.3 M488.6 332.7 v-58.3 M491.4 332.7 v-38.9 M493.6 332.7 v-38.9 M495.3 332.7 v-19.4 M496.6 332.7 v-38.9 M497.5 332.7 v-58.3 M499.2 332.7 v-58.3 M500.3 332.7 v-19.4 M501.5 332.7 v-77.8 M503.3 332.7 v-19.4 M505.4 332.7 v-38.9 M506.3 332.7 v-58.3 M507.8 332.7 v-38.9 M510.4 332.7 v-77.8 M512.2 332.7 v-38.9 M514.0 332.7 v-58.3 M515.7 332.7 v-38.9 M517.5 332.7 v-38.9 M519.3 332.7 v-38.9 M512.1 332.7 v-38.9 M513.5 332.7 v-58.3 M516.7 332.7 v-38.9 M518.0 332.7 v-38.9 M520.3 332.7 v-38.9 M521.5 332.7 v-19.4 M522.8 332.7 v-19.4 M525.1 332.7 v-19.4 M526.3 332.7 v-19.4 M528.6 332.7 v-19.4 M530.4 332.7 v-19.4 M532.2 332.7 v-38.9 M533.1 332.7 v-19.4 M535.7 332.7 v-19.4 M536.6 332.7 v-38.9 M538.0 332.7 v-38.9 M538.9 332.7 v-19.4 M540.2 332.7 v-38.9 M541.9 332.7 v-19.4 M543.7 332.7 v-38.9 M545.0 332.7 v-38.9 M546.0 332.7 v-38.9 M546.7 332.7 v-77.8 M547.6 332.7 v-38.9 M549.4 332.7 v-58.3 M551.5 332.7 v-19.4 M560.6 332.7 v-19.4 M562.3 332.7 v-19.4 M564.5 332.7 v-38.9 M565.4 332.7 v-19.4 M568.0 332.7 v-19.4 M569.8 332.7 v-38.9 M571.2 332.7 v-19.4 M572.1 332.7 v-19.4 M573.5 332.7 v-38.9 M575.1 332.7 v-38.9 M577.4 332.7 v-19.4 M581.0 332.7 v-19.4 M582.7 332.7 v-19.4 M584.2 332.7 v-19.4 M585.4 332.7 v-19.4 M586.6 332.7 v-19.4 M588.1 332.7 v-19.4 M589.5 332.7 v-19.4 M590.4 332.7 v-19.4 M597.5 332.7 v-19.4 M598.7 332.7 v-19.4 M599.6 332.7 v-19.4 M604.4 332.7 v-19.4 M606.5 332.7 v-19.4 M619.5 332.7 v-19.4 M627.5 332.7 v-19.4 M630.7 332.7 v-19.4 M640.8 332.7 v-19.4 M694.7 332.7 v-19.4 M444.0 332.7 v-19.4 M445.7 332.7 v-19.4 M447.4 332.7 v-19.4 M449.1 332.7 v-19.4 M450.8 332.7 v-19.4 M452.5 332.7 v-19.4 M454.2 332.7 v-19.4 M455.9 332.7 v-19.4 M486.0 332.7 v-19.4 M487.5 332.7 v-19.4 M489.0 332.7 v-19.4 M490.5 332.7 v-19.4 M492.0 332.7 v-19.4 M493.5 332.7 v-19.4 M495.0 332.7 v-19.4 M496.5 332.7 v-19.4 M498.0 332.7 v-19.4 M499.5 332.7 v-19.4 M501.0 332.7 v-19.4 M502.5 332.7 v-19.4 M504.0 332.7 v-19.4 M505.5 332.7 v-19.4 M507.0 332.7 v-19.4 M508.5 332.7 v-19.4 M510.0 332.7 v-19.4 M511.5 332.7 v-19.4 M513.0 332.7 v-19.4 M514.5 332.7 v-19.4 M516.0 332.7 v-19.4 M517.5 332.7 v-19.4 M519.0 332.7 v-19.4 M520.5 332.7 v-19.4 M522.0 332.7 v-19.4 M523.5 332.7 v-19.4 M525.0 332.7 v-19.4 M526.5 332.7 v-19.4 M528.0 332.7 v-19.4 M529.5 332.7 v-19.4 M531.0 332.7 v-19.4 M532.5 332.7 v-19.4 M534.0 332.7 v-19.4 M535.5 332.7 v-19.4 M537.0 332.7 v-19.4 M538.5 332.7 v-19.4 M540.0 332.7 v-19.4 M541.5 332.7 v-19.4 M543.0 332.7 v-19.4 M544.5 332.7 v-19.4 M546.0 332.7 v-19.4 M547.5 332.7 v-19.4 M549.0 332.7 v-19.4 M403.0 332.7 v-19.4 M404.9 332.7 v-19.4 M406.8 332.7 v-19.4 M408.7 332.7 v-19.4 M410.6 332.7 v-19.4 M412.5 332.7 v-19.4 M414.4 332.7 v-19.4 M416.3 332.7 v-19.4 M418.2 332.7 v-19.4 M420.1 332.7 v-19.4 M422.0 332.7 v-19.4 M423.9 332.7 v-19.4 M425.8 332.7 v-19.4 M427.7 332.7 v-19.4 M429.6 332.7 v-19.4 M431.5 332.7 v-19.4 M433.4 332.7 v-19.4 M435.3 332.7 v-19.4 M437.2 332.7 v-19.4 M439.1 332.7 v-19.4" stroke="#3c3cf2" stroke-width="0.95" fill="none" stroke-opacity="0.76"/>
<line x1="444.80" y1="232.60" x2="444.80" y2="332.70" stroke="#f26a6a" stroke-width="0.9" stroke-dasharray="2.2 0.9 0.7 0.9"/>
<line x1="252.60" y1="447.05" x2="760.80" y2="447.05" stroke="#ececec" stroke-width="0.6" />
<line x1="252.60" y1="421.90" x2="760.80" y2="421.90" stroke="#ececec" stroke-width="0.6" />
<line x1="252.60" y1="396.75" x2="760.80" y2="396.75" stroke="#ececec" stroke-width="0.6" />
<line x1="252.60" y1="371.60" x2="760.80" y2="371.60" stroke="#ececec" stroke-width="0.6" />
<line x1="337.20" y1="371.60" x2="337.20" y2="472.20" stroke="#ececec" stroke-width="0.6" />
<text x="337.20" y="478.00" font-size="5.6" fill="#111" text-anchor="middle" >2</text>
<line x1="421.80" y1="371.60" x2="421.80" y2="472.20" stroke="#ececec" stroke-width="0.6" />
<text x="421.80" y="478.00" font-size="5.6" fill="#111" text-anchor="middle" >4</text>
<line x1="506.40" y1="371.60" x2="506.40" y2="472.20" stroke="#ececec" stroke-width="0.6" />
<text x="506.40" y="478.00" font-size="5.6" fill="#111" text-anchor="middle" >6</text>
<line x1="591.00" y1="371.60" x2="591.00" y2="472.20" stroke="#ececec" stroke-width="0.6" />
<text x="591.00" y="478.00" font-size="5.6" fill="#111" text-anchor="middle" >8</text>
<line x1="675.60" y1="371.60" x2="675.60" y2="472.20" stroke="#ececec" stroke-width="0.6" />
<text x="675.60" y="478.00" font-size="5.6" fill="#111" text-anchor="middle" >10</text>
<line x1="760.80" y1="371.60" x2="760.80" y2="472.20" stroke="#ececec" stroke-width="0.6" />
<line x1="252.60" y1="472.20" x2="760.80" y2="472.20" stroke="#e4e4e4" stroke-width="0.6" />
<text x="252.80" y="448.95" font-size="5.5" fill="#111" text-anchor="end" >0.5</text>
<text x="252.80" y="423.80" font-size="5.5" fill="#111" text-anchor="end" >1</text>
<text x="252.80" y="398.65" font-size="5.5" fill="#111" text-anchor="end" >1.5</text>
<text x="252.90" y="374.30" font-size="5.5" fill="#111" text-anchor="end" >2</text>
<text x="250.30" y="475.20" font-size="5.5" fill="#111" text-anchor="end" >%</text>
<text x="253.10" y="370.00" font-size="5.3" fill="#222" >Depth Histogram</text>
<text x="752.20" y="478.50" font-size="6.4" fill="#222" >kPa</text>
<path d="M253.0 472.2 v-19.4 M486.2 472.2 v-19.4 M492.2 472.2 v-19.4 M495.4 472.2 v-38.9 M510.3 472.2 v-19.4 M525.4 472.2 v-19.4 M528.4 472.2 v-38.9 M530.5 472.2 v-19.4 M533.4 472.2 v-19.4 M538.3 472.2 v-19.4 M541.5 472.2 v-19.4 M547.2 472.2 v-19.4 M553.6 472.2 v-58.3 M555.0 472.2 v-19.4 M556.8 472.2 v-19.4 M558.6 472.2 v-19.4 M561.2 472.2 v-19.4 M564.2 472.2 v-58.3 M567.1 472.2 v-19.4 M570.6 472.2 v-38.9 M572.4 472.2 v-19.4 M573.6 472.2 v-19.4 M574.9 472.2 v-19.4 M576.3 472.2 v-19.4 M579.3 472.2 v-38.9 M581.3 472.2 v-38.9 M583.0 472.2 v-19.4 M588.4 472.2 v-77.8 M590.5 472.2 v-19.4 M593.5 472.2 v-19.4 M595.5 472.2 v-58.3 M597.2 472.2 v-38.9 M599.0 472.2 v-19.4 M602.2 472.2 v-58.3 M604.7 472.2 v-19.4 M605.6 472.2 v-58.3 M607.0 472.2 v-19.4 M609.5 472.2 v-58.3 M612.3 472.2 v-77.8 M613.6 472.2 v-58.3 M615.0 472.2 v-38.9 M616.6 472.2 v-38.9 M617.5 472.2 v-97.2 M618.5 472.2 v-58.3 M620.3 472.2 v-19.4 M621.5 472.2 v-38.9 M622.8 472.2 v-58.3 M624.2 472.2 v-19.4 M626.3 472.2 v-58.3 M628.1 472.2 v-58.3 M629.5 472.2 v-38.9 M630.9 472.2 v-77.8 M632.2 472.2 v-58.3 M633.4 472.2 v-38.9 M634.5 472.2 v-97.2 M635.7 472.2 v-58.3 M637.2 472.2 v-19.4 M638.4 472.2 v-19.4 M639.6 472.2 v-77.8 M630.5 472.2 v-38.9 M631.4 472.2 v-77.8 M632.5 472.2 v-58.3 M633.5 472.2 v-38.9 M634.4 472.2 v-97.2 M635.3 472.2 v-58.3 M638.0 472.2 v-19.4 M639.8 472.2 v-77.8 M641.5 472.2 v-38.9 M642.8 472.2 v-19.4 M643.8 472.2 v-58.3 M644.7 472.2 v-77.8 M645.6 472.2 v-38.9 M646.5 472.2 v-77.8 M648.3 472.2 v-58.3 M649.5 472.2 v-19.4 M650.8 472.2 v-77.8 M652.2 472.2 v-58.3 M653.4 472.2 v-38.9 M654.8 472.2 v-19.4 M656.6 472.2 v-77.8 M658.4 472.2 v-77.8 M659.6 472.2 v-38.9 M661.0 472.2 v-19.4 M663.2 472.2 v-38.9 M664.1 472.2 v-58.3 M665.1 472.2 v-38.9 M666.6 472.2 v-77.8 M667.6 472.2 v-38.9 M668.7 472.2 v-77.8 M669.7 472.2 v-38.9 M670.8 472.2 v-58.3 M674.0 472.2 v-19.4 M676.5 472.2 v-19.4 M677.4 472.2 v-77.8 M678.3 472.2 v-38.9 M680.9 472.2 v-97.2 M682.3 472.2 v-58.3 M684.1 472.2 v-19.4 M685.5 472.2 v-77.8 M686.8 472.2 v-58.3 M689.4 472.2 v-38.9 M690.7 472.2 v-19.4 M691.7 472.2 v-58.3 M693.5 472.2 v-38.9 M694.8 472.2 v-19.4 M696.0 472.2 v-19.4 M697.4 472.2 v-19.4 M699.4 472.2 v-58.3 M700.4 472.2 v-38.9 M704.5 472.2 v-38.9 M707.7 472.2 v-19.4 M711.6 472.2 v-19.4 M716.4 472.2 v-19.4 M730.4 472.2 v-19.4 M610.0 472.2 v-19.4 M611.4 472.2 v-19.4 M612.8 472.2 v-19.4 M614.2 472.2 v-19.4 M615.6 472.2 v-19.4 M617.0 472.2 v-19.4 M618.4 472.2 v-19.4 M619.8 472.2 v-19.4 M621.2 472.2 v-19.4 M622.6 472.2 v-19.4 M624.0 472.2 v-19.4 M625.4 472.2 v-19.4 M626.8 472.2 v-19.4 M628.2 472.2 v-19.4 M629.6 472.2 v-19.4 M631.0 472.2 v-19.4 M632.4 472.2 v-19.4 M633.8 472.2 v-19.4 M635.2 472.2 v-19.4 M636.6 472.2 v-19.4 M638.0 472.2 v-19.4 M639.4 472.2 v-19.4 M640.8 472.2 v-19.4 M642.2 472.2 v-19.4 M643.6 472.2 v-19.4 M645.0 472.2 v-19.4 M646.4 472.2 v-19.4 M647.8 472.2 v-19.4 M649.2 472.2 v-19.4 M650.6 472.2 v-19.4 M652.0 472.2 v-19.4 M653.4 472.2 v-19.4 M654.8 472.2 v-19.4 M656.2 472.2 v-19.4 M657.6 472.2 v-19.4 M659.0 472.2 v-19.4 M660.4 472.2 v-19.4 M661.8 472.2 v-19.4 M663.2 472.2 v-19.4 M664.6 472.2 v-19.4 M666.0 472.2 v-19.4 M667.4 472.2 v-19.4 M668.8 472.2 v-19.4 M670.2 472.2 v-19.4 M671.6 472.2 v-19.4 M673.0 472.2 v-19.4 M674.4 472.2 v-19.4 M675.8 472.2 v-19.4 M677.2 472.2 v-19.4 M678.6 472.2 v-19.4 M680.0 472.2 v-19.4 M681.4 472.2 v-19.4 M682.8 472.2 v-19.4 M684.2 472.2 v-19.4 M685.6 472.2 v-19.4 M687.0 472.2 v-19.4 M688.4 472.2 v-19.4 M689.8 472.2 v-19.4 M691.2 472.2 v-19.4 M692.6 472.2 v-19.4 M694.0 472.2 v-19.4 M695.4 472.2 v-19.4 M696.8 472.2 v-19.4 M698.2 472.2 v-19.4 M699.6 472.2 v-19.4 M624.0 472.2 v-38.9 M626.1 472.2 v-38.9 M628.2 472.2 v-38.9 M630.3 472.2 v-38.9 M632.4 472.2 v-38.9 M634.5 472.2 v-38.9 M636.6 472.2 v-38.9 M638.7 472.2 v-38.9" stroke="#3c3cf2" stroke-width="0.95" fill="none" stroke-opacity="0.76"/>
<line x1="625.40" y1="371.60" x2="625.40" y2="472.20" stroke="#f26a6a" stroke-width="0.9" stroke-dasharray="2.2 0.9 0.7 0.9"/>
<g clip-path="url(#clipP6)">
<rect x="49.30" y="528.30" width="145.40" height="108.30" fill="#dfc16e" filter="url(#hisA)"/>
<g filter="url(#blur3)">
<ellipse cx="72" cy="556" rx="22" ry="16" fill="#efcfa0" opacity="0.5"/>
<ellipse cx="100" cy="585" rx="40" ry="14" fill="#e4a070" opacity="0.30" transform="rotate(-22 100 585)"/>
<ellipse cx="150" cy="560" rx="35" ry="12" fill="#e4a070" opacity="0.22" transform="rotate(20 150 560)"/>
<ellipse cx="120" cy="615" rx="60" ry="16" fill="#d8c060" opacity="0.3"/>
</g>
<g filter="url(#blur07)">
<path d="M60 580 C68 576 74 568 78 560 C80 556 83 553 82 549" stroke="#fbf3e6" stroke-width="1.6" fill="none" opacity="0.7" stroke-dasharray="3 1.2 5 0.8"/>
<path d="M52 562 C70 560 84 548 96 546 M50 600 C70 596 92 588 118 574 C132 566 150 552 166 548" stroke="#e0707a" stroke-width="1.6" fill="none" opacity="0.28" stroke-dasharray="3 1 1 1"/>
<ellipse cx="186" cy="554" rx="3.4" ry="2.4" fill="#f0d6b8"/>
</g>
</g>
<rect x="49.30" y="528.30" width="145.40" height="108.30" fill="none" stroke="#1a1a1a" stroke-width="0.8" />
<g clip-path="url(#clipP7)">
<rect x="203.90" y="528.30" width="145.00" height="108.30" fill="#dfc16e" filter="url(#hisB)"/>
<g filter="url(#blur3)">
<ellipse cx="255" cy="598" rx="14" ry="12" fill="#f3ead0" opacity="0.55"/>
<ellipse cx="290" cy="585" rx="30" ry="40" fill="#e8a080" opacity="0.25" transform="rotate(-25 290 585)"/>
</g>
<g filter="url(#blur12)" fill="none" stroke="#e25a6e" stroke-linecap="round" stroke-dasharray="2.5 0.8 1.2 0.6 4 1">
<path d="M209.8 531.8 C222 535 232 536 244 541 C258 545 268 545 272.7 547.5 C280 554 282 564 286.4 571.1 C292 580 298 582 300.2 586.8 C300 598 290 606 284.4 614.3 C278 622 272 628 266.8 633" stroke-width="1.9" opacity="0.5"/>
<path d="M300.2 586.8 C310 584 318 578 323.7 573.1 C329 567 332 563 335.5 559.3 C340 555 344 553 348 551" stroke-width="1.8" opacity="0.48"/>
<path d="M262.8 586.8 C266 596 264 608 266.8 620.2 M280 600 C284 606 283 612 286 618 M217.6 590.8 C222 590 226 594 229.4 592.7 M272.7 547.5 C276 540 280 536 282 532" stroke-width="1.4" opacity="0.45"/>
<path d="M278 604 l2 4 l-1 5 l3 3 M284 610 l3 3 l-1 4 M290 596 l2 6" stroke="#d8304c" stroke-width="1.2" opacity="0.8"/>
<path d="M240 600 c3 -1.6 6 -1.2 8 0.8" stroke="#fff" stroke-width="1.3" opacity="0.9"/>
</g>
</g>
<rect x="203.90" y="528.30" width="145.00" height="108.30" fill="none" stroke="#1a1a1a" stroke-width="0.8" />
<line x1="162.90" y1="632.20" x2="190.00" y2="632.20" stroke="#111" stroke-width="1.1" />
<line x1="317.20" y1="631.60" x2="344.40" y2="631.60" stroke="#111" stroke-width="1.1" />
<text x="176.40" y="630.80" font-size="2.6" fill="#222" text-anchor="middle" >200 μm</text>
<text x="330.80" y="630.20" font-size="2.6" fill="#222" text-anchor="middle" >200 μm</text>
<text x="118.60" y="648.40" font-size="9.8" fill="#111" text-anchor="middle" >HCC</text>
<text x="280.60" y="648.40" font-size="9.7" fill="#111" text-anchor="middle" >HCC-SDS</text>
<rect x="441.00" y="496.20" width="87.00" height="7.02" fill="#f6f0b4" />
<rect x="528.00" y="496.20" width="87.10" height="7.02" fill="#f8f6c0" />
<rect x="441.00" y="503.22" width="87.00" height="7.02" fill="#f08c62" />
<rect x="528.00" y="503.22" width="87.10" height="7.02" fill="#e96e58" />
<rect x="441.00" y="510.23" width="87.00" height="7.02" fill="#e0565c" />
<rect x="528.00" y="510.23" width="87.10" height="7.02" fill="#e96a5a" />
<rect x="441.00" y="517.25" width="87.00" height="7.02" fill="#e96e58" />
<rect x="528.00" y="517.25" width="87.10" height="7.02" fill="#e96a5a" />
<rect x="441.00" y="524.27" width="87.00" height="7.02" fill="#1c1d4c" />
<rect x="528.00" y="524.27" width="87.10" height="7.02" fill="#2a2858" />
<rect x="441.00" y="531.28" width="87.00" height="7.02" fill="#2a2858" />
<rect x="528.00" y="531.28" width="87.10" height="7.02" fill="#2e2860" />
<rect x="441.00" y="538.30" width="87.00" height="7.02" fill="#2a2858" />
<rect x="528.00" y="538.30" width="87.10" height="7.02" fill="#262654" />
<rect x="441.00" y="545.32" width="87.00" height="7.02" fill="#0e0e36" />
<rect x="528.00" y="545.32" width="87.10" height="7.02" fill="#1e2050" />
<rect x="441.00" y="552.34" width="87.00" height="7.02" fill="#1c1d4c" />
<rect x="528.00" y="552.34" width="87.10" height="7.02" fill="#222452" />
<rect x="441.00" y="559.35" width="87.00" height="7.02" fill="#232654" />
<rect x="528.00" y="559.35" width="87.10" height="7.02" fill="#262654" />
<rect x="441.00" y="566.37" width="87.00" height="7.02" fill="#030105" />
<rect x="528.00" y="566.37" width="87.10" height="7.02" fill="#030105" />
<rect x="441.00" y="573.39" width="87.00" height="7.02" fill="#0a0820" />
<rect x="528.00" y="573.39" width="87.10" height="7.02" fill="#0a0820" />
<rect x="441.00" y="580.40" width="87.00" height="7.02" fill="#0a0820" />
<rect x="528.00" y="580.40" width="87.10" height="7.02" fill="#030105" />
<rect x="441.00" y="587.42" width="87.00" height="7.02" fill="#c8446c" />
<rect x="528.00" y="587.42" width="87.10" height="7.02" fill="#c8446c" />
<rect x="441.00" y="594.44" width="87.00" height="7.02" fill="#9a2c7a" />
<rect x="528.00" y="594.44" width="87.10" height="7.02" fill="#9a2c7a" />
<rect x="441.00" y="601.46" width="87.00" height="7.02" fill="#8e2a7c" />
<rect x="528.00" y="601.46" width="87.10" height="7.02" fill="#8a267c" />
<rect x="441.00" y="608.47" width="87.00" height="7.02" fill="#8a287c" />
<rect x="528.00" y="608.47" width="87.10" height="7.02" fill="#84247c" />
<rect x="441.00" y="615.49" width="87.00" height="7.02" fill="#84247c" />
<rect x="528.00" y="615.49" width="87.10" height="7.02" fill="#942a7c" />
<rect x="441.00" y="622.51" width="87.00" height="7.02" fill="#902a7c" />
<rect x="528.00" y="622.51" width="87.10" height="7.02" fill="#9c2e7a" />
<rect x="441.00" y="629.52" width="87.00" height="7.02" fill="#9a2e7a" />
<rect x="528.00" y="629.52" width="87.10" height="7.02" fill="#ac3478" />
<rect x="441.00" y="636.54" width="87.00" height="7.02" fill="#9e2e7a" />
<rect x="528.00" y="636.54" width="87.10" height="7.02" fill="#a83276" />
<rect x="441.00" y="643.56" width="87.00" height="7.02" fill="#a43278" />
<rect x="528.00" y="643.56" width="87.10" height="7.02" fill="#b03674" />
<rect x="441.00" y="650.57" width="87.00" height="7.02" fill="#a63278" />
<rect x="528.00" y="650.57" width="87.10" height="7.02" fill="#a83276" />
<rect x="441.00" y="657.59" width="87.00" height="7.02" fill="#a83276" />
<rect x="528.00" y="657.59" width="87.10" height="7.02" fill="#a83276" />
<rect x="441.00" y="664.61" width="87.00" height="7.02" fill="#a43278" />
<rect x="528.00" y="664.61" width="87.10" height="7.02" fill="#a83276" />
<rect x="441.00" y="671.62" width="87.00" height="7.02" fill="#c4426c" />
<rect x="528.00" y="671.62" width="87.10" height="7.02" fill="#5c2274" />
<rect x="441.00" y="678.64" width="87.00" height="7.02" fill="#a0307a" />
<rect x="528.00" y="678.64" width="87.10" height="7.02" fill="#22264e" />
<rect x="441.00" y="685.66" width="87.00" height="7.02" fill="#9a2e7a" />
<rect x="528.00" y="685.66" width="87.10" height="7.02" fill="#1a1c44" />
<rect x="441.00" y="692.68" width="87.00" height="7.02" fill="#7a227a" />
<rect x="528.00" y="692.68" width="87.10" height="7.02" fill="#80267a" />
<rect x="441.00" y="699.69" width="87.00" height="7.02" fill="#76227a" />
<rect x="528.00" y="699.69" width="87.10" height="7.02" fill="#86287a" />
<rect x="441.00" y="706.71" width="87.00" height="7.02" fill="#80267a" />
<rect x="528.00" y="706.71" width="87.10" height="7.02" fill="#86287a" />
<rect x="441.00" y="713.73" width="87.00" height="7.02" fill="#7a227a" />
<rect x="528.00" y="713.73" width="87.10" height="7.02" fill="#80267a" />
<rect x="441.00" y="720.74" width="87.00" height="7.02" fill="#6e207a" />
<rect x="528.00" y="720.74" width="87.10" height="7.02" fill="#7a227a" />
<rect x="441.00" y="727.76" width="87.00" height="7.02" fill="#6a207a" />
<rect x="528.00" y="727.76" width="87.10" height="7.02" fill="#66207a" />
<rect x="441.00" y="734.78" width="87.00" height="7.02" fill="#7a227a" />
<rect x="528.00" y="734.78" width="87.10" height="7.02" fill="#6c207a" />
<rect x="441.00" y="741.79" width="87.00" height="7.02" fill="#2c2c5c" />
<rect x="528.00" y="741.79" width="87.10" height="7.02" fill="#44286a" />
<rect x="441.00" y="748.81" width="87.00" height="7.02" fill="#3a2a64" />
<rect x="528.00" y="748.81" width="87.10" height="7.02" fill="#3a2a64" />
<rect x="441.00" y="755.83" width="87.00" height="7.02" fill="#342a62" />
<rect x="528.00" y="755.83" width="87.10" height="7.02" fill="#382a64" />
<rect x="441.00" y="762.85" width="87.00" height="7.02" fill="#362a62" />
<rect x="528.00" y="762.85" width="87.10" height="7.02" fill="#342a62" />
<rect x="441.00" y="769.86" width="87.00" height="7.02" fill="#5e2078" />
<rect x="528.00" y="769.86" width="87.10" height="7.02" fill="#3e2a68" />
<rect x="441.00" y="776.88" width="87.00" height="7.02" fill="#4c2470" />
<rect x="528.00" y="776.88" width="87.10" height="7.02" fill="#44286a" />
<rect x="441.00" y="783.90" width="87.00" height="7.02" fill="#4a2670" />
<rect x="528.00" y="783.90" width="87.10" height="7.02" fill="#4a2670" />
<rect x="441.00" y="790.91" width="87.00" height="7.02" fill="#4e2472" />
<rect x="528.00" y="790.91" width="87.10" height="7.02" fill="#522474" />
<rect x="441.00" y="797.93" width="87.00" height="7.02" fill="#58227a" />
<rect x="528.00" y="797.93" width="87.10" height="7.02" fill="#6a207a" />
<rect x="441.00" y="804.95" width="87.00" height="7.02" fill="#54227a" />
<rect x="528.00" y="804.95" width="87.10" height="7.02" fill="#66207a" />
<rect x="441.00" y="811.97" width="87.00" height="7.02" fill="#52227a" />
<rect x="528.00" y="811.97" width="87.10" height="7.02" fill="#58227a" />
<rect x="441.00" y="818.98" width="87.00" height="7.02" fill="#54227a" />
<rect x="528.00" y="818.98" width="87.10" height="7.02" fill="#58227a" />
<rect x="441.00" y="826.00" width="87.00" height="7.02" fill="#4e2472" />
<rect x="528.00" y="826.00" width="87.10" height="7.02" fill="#4e2472" />
<rect x="441.00" y="833.02" width="87.00" height="7.02" fill="#542276" />
<rect x="528.00" y="833.02" width="87.10" height="7.02" fill="#4a2670" />
<rect x="441.00" y="840.03" width="87.00" height="7.02" fill="#5a2278" />
<rect x="528.00" y="840.03" width="87.10" height="7.02" fill="#64207a" />
<line x1="441.00" y1="496.20" x2="615.10" y2="496.20" stroke="#a8a0a8" stroke-width="0.5" />
<line x1="441.00" y1="503.22" x2="615.10" y2="503.22" stroke="#a8a0a8" stroke-width="0.5" />
<line x1="441.00" y1="510.23" x2="615.10" y2="510.23" stroke="#a8a0a8" stroke-width="0.5" />
<line x1="441.00" y1="517.25" x2="615.10" y2="517.25" stroke="#a8a0a8" stroke-width="0.5" />
<line x1="441.00" y1="524.27" x2="615.10" y2="524.27" stroke="#a8a0a8" stroke-width="0.5" />
<line x1="441.00" y1="531.28" x2="615.10" y2="531.28" stroke="#a8a0a8" stroke-width="0.5" />
<line x1="441.00" y1="538.30" x2="615.10" y2="538.30" stroke="#a8a0a8" stroke-width="0.5" />
<line x1="441.00" y1="545.32" x2="615.10" y2="545.32" stroke="#a8a0a8" stroke-width="0.5" />
<line x1="441.00" y1="552.34" x2="615.10" y2="552.34" stroke="#a8a0a8" stroke-width="0.5" />
<line x1="441.00" y1="559.35" x2="615.10" y2="559.35" stroke="#a8a0a8" stroke-width="0.5" />
<line x1="441.00" y1="566.37" x2="615.10" y2="566.37" stroke="#a8a0a8" stroke-width="0.5" />
<line x1="441.00" y1="573.39" x2="615.10" y2="573.39" stroke="#a8a0a8" stroke-width="0.5" />
<line x1="441.00" y1="580.40" x2="615.10" y2="580.40" stroke="#a8a0a8" stroke-width="0.5" />
<line x1="441.00" y1="587.42" x2="615.10" y2="587.42" stroke="#a8a0a8" stroke-width="0.5" />
<line x1="441.00" y1="594.44" x2="615.10" y2="594.44" stroke="#a8a0a8" stroke-width="0.5" />
<line x1="441.00" y1="601.46" x2="615.10" y2="601.46" stroke="#a8a0a8" stroke-width="0.5" />
<line x1="441.00" y1="608.47" x2="615.10" y2="608.47" stroke="#a8a0a8" stroke-width="0.5" />
<line x1="441.00" y1="615.49" x2="615.10" y2="615.49" stroke="#a8a0a8" stroke-width="0.5" />
<line x1="441.00" y1="622.51" x2="615.10" y2="622.51" stroke="#a8a0a8" stroke-width="0.5" />
<line x1="441.00" y1="629.52" x2="615.10" y2="629.52" stroke="#a8a0a8" stroke-width="0.5" />
<line x1="441.00" y1="636.54" x2="615.10" y2="636.54" stroke="#a8a0a8" stroke-width="0.5" />
<line x1="441.00" y1="643.56" x2="615.10" y2="643.56" stroke="#a8a0a8" stroke-width="0.5" />
<line x1="441.00" y1="650.57" x2="615.10" y2="650.57" stroke="#a8a0a8" stroke-width="0.5" />
<line x1="441.00" y1="657.59" x2="615.10" y2="657.59" stroke="#a8a0a8" stroke-width="0.5" />
<line x1="441.00" y1="664.61" x2="615.10" y2="664.61" stroke="#a8a0a8" stroke-width="0.5" />
<line x1="441.00" y1="671.62" x2="615.10" y2="671.62" stroke="#a8a0a8" stroke-width="0.5" />
<line x1="441.00" y1="678.64" x2="615.10" y2="678.64" stroke="#a8a0a8" stroke-width="0.5" />
<line x1="441.00" y1="685.66" x2="615.10" y2="685.66" stroke="#a8a0a8" stroke-width="0.5" />
<line x1="441.00" y1="692.68" x2="615.10" y2="692.68" stroke="#a8a0a8" stroke-width="0.5" />
<line x1="441.00" y1="699.69" x2="615.10" y2="699.69" stroke="#a8a0a8" stroke-width="0.5" />
<line x1="441.00" y1="706.71" x2="615.10" y2="706.71" stroke="#a8a0a8" stroke-width="0.5" />
<line x1="441.00" y1="713.73" x2="615.10" y2="713.73" stroke="#a8a0a8" stroke-width="0.5" />
<line x1="441.00" y1="720.74" x2="615.10" y2="720.74" stroke="#a8a0a8" stroke-width="0.5" />
<line x1="441.00" y1="727.76" x2="615.10" y2="727.76" stroke="#a8a0a8" stroke-width="0.5" />
<line x1="441.00" y1="734.78" x2="615.10" y2="734.78" stroke="#a8a0a8" stroke-width="0.5" />
<line x1="441.00" y1="741.79" x2="615.10" y2="741.79" stroke="#a8a0a8" stroke-width="0.5" />
<line x1="441.00" y1="748.81" x2="615.10" y2="748.81" stroke="#a8a0a8" stroke-width="0.5" />
<line x1="441.00" y1="755.83" x2="615.10" y2="755.83" stroke="#a8a0a8" stroke-width="0.5" />
<line x1="441.00" y1="762.85" x2="615.10" y2="762.85" stroke="#a8a0a8" stroke-width="0.5" />
<line x1="441.00" y1="769.86" x2="615.10" y2="769.86" stroke="#a8a0a8" stroke-width="0.5" />
<line x1="441.00" y1="776.88" x2="615.10" y2="776.88" stroke="#a8a0a8" stroke-width="0.5" />
<line x1="441.00" y1="783.90" x2="615.10" y2="783.90" stroke="#a8a0a8" stroke-width="0.5" />
<line x1="441.00" y1="790.91" x2="615.10" y2="790.91" stroke="#a8a0a8" stroke-width="0.5" />
<line x1="441.00" y1="797.93" x2="615.10" y2="797.93" stroke="#a8a0a8" stroke-width="0.5" />
<line x1="441.00" y1="804.95" x2="615.10" y2="804.95" stroke="#a8a0a8" stroke-width="0.5" />
<line x1="441.00" y1="811.97" x2="615.10" y2="811.97" stroke="#a8a0a8" stroke-width="0.5" />
<line x1="441.00" y1="818.98" x2="615.10" y2="818.98" stroke="#a8a0a8" stroke-width="0.5" />
<line x1="441.00" y1="826.00" x2="615.10" y2="826.00" stroke="#a8a0a8" stroke-width="0.5" />
<line x1="441.00" y1="833.02" x2="615.10" y2="833.02" stroke="#a8a0a8" stroke-width="0.5" />
<line x1="441.00" y1="840.03" x2="615.10" y2="840.03" stroke="#a8a0a8" stroke-width="0.5" />
<line x1="441.00" y1="847.05" x2="615.10" y2="847.05" stroke="#a8a0a8" stroke-width="0.5" />
<line x1="441.00" y1="496.20" x2="441.00" y2="847.05" stroke="#a8a0a8" stroke-width="0.55" />
<line x1="528.00" y1="496.20" x2="528.00" y2="847.05" stroke="#a8a0a8" stroke-width="0.55" />
<line x1="615.10" y1="496.20" x2="615.10" y2="847.05" stroke="#a8a0a8" stroke-width="0.55" />
<text x="617.00" y="501.66" font-size="5.65" fill="#000" class="fl">HALLMARK_KRAS_SIGNALING_DN</text>
<text x="617.00" y="508.68" font-size="5.65" fill="#000" class="fl">HALLMARK_SPERMATOGENESIS</text>
<text x="617.00" y="515.69" font-size="5.65" fill="#000" class="fl">HALLMARK_BILE_ACID_METABOLISM</text>
<text x="617.00" y="522.71" font-size="5.65" fill="#000" class="fl">HALLMARK_PANCREAS_BETA_CELLS</text>
<text x="617.00" y="529.73" font-size="5.65" fill="#000" class="fl">HALLMARK_TNFA_SIGNALING_VIA_NFKB</text>
<text x="617.00" y="536.74" font-size="5.65" fill="#000" class="fl">HALLMARK_APOPTOSIS</text>
<text x="617.00" y="543.76" font-size="5.65" fill="#000" class="fl">HALLMARK_MTORC1_SIGNALING</text>
<text x="617.00" y="550.78" font-size="5.65" fill="#000" class="fl">HALLMARK_PROTEIN_SECRETION</text>
<text x="617.00" y="557.79" font-size="5.65" fill="#000" class="fl">HALLMARK_REACTIVE_OXYGEN_SPECIES_PATHWAY</text>
<text x="617.00" y="564.81" font-size="5.65" fill="#000" class="fl">HALLMARK_UNFOLDED_PROTEIN_RESPONSE</text>
<text x="617.00" y="571.83" font-size="5.65" fill="#000" class="fl">HALLMARK_MYC_TARGETS_V1</text>
<text x="617.00" y="578.85" font-size="5.65" fill="#000" class="fl">HALLMARK_EPITHELIAL_MESENCHYMAL_TRANSITION</text>
<text x="617.00" y="585.86" font-size="5.65" fill="#000" class="fl">HALLMARK_OXIDATIVE_PHOSPHORYLATION</text>
<text x="617.00" y="592.88" font-size="5.65" fill="#000" class="fl">HALLMARK_HEDGEHOG_SIGNALING</text>
<text x="617.00" y="599.90" font-size="5.65" fill="#000" class="fl">HALLMARK_ALLOGRAFT_REJECTION</text>
<text x="617.00" y="606.91" font-size="5.65" fill="#000" class="fl">HALLMARK_E2F_TARGETS</text>
<text x="617.00" y="613.93" font-size="5.65" fill="#000" class="fl">HALLMARK_WNT_BETA_CATENIN_SIGNALING</text>
<text x="617.00" y="620.95" font-size="5.65" fill="#000" class="fl">HALLMARK_APICAL_JUNCTION</text>
<text x="617.00" y="627.96" font-size="5.65" fill="#000" class="fl">HALLMARK_PEROXISOME</text>
<text x="617.00" y="634.98" font-size="5.65" fill="#000" class="fl">HALLMARK_APICAL_SURFACE</text>
<text x="617.00" y="642.00" font-size="5.65" fill="#000" class="fl">HALLMARK_COAGULATION</text>
<text x="617.00" y="649.02" font-size="5.65" fill="#000" class="fl">HALLMARK_XENOBIOTIC_METABOLISM</text>
<text x="617.00" y="656.03" font-size="5.65" fill="#000" class="fl">HALLMARK_ESTROGEN_RESPONSE_EARLY</text>
<text x="617.00" y="663.05" font-size="5.65" fill="#000" class="fl">HALLMARK_ESTROGEN_RESPONSE_LATE</text>
<text x="617.00" y="670.07" font-size="5.65" fill="#000" class="fl">HALLMARK_INFLAMMATORY_RESPONSE</text>
<text x="617.00" y="677.08" font-size="5.65" fill="#000" class="fl">HALLMARK_MYOGENESIS</text>
<text x="617.00" y="684.10" font-size="5.65" fill="#000" class="fl">HALLMARK_ANGIOGENESIS</text>
<text x="617.00" y="691.12" font-size="5.65" fill="#e8202a" font-weight="bold" class="fl">HALLMARK_TGF_BETA_SIGNALING</text>
<text x="617.00" y="698.13" font-size="5.65" fill="#000" class="fl">HALLMARK_COMPLEMENT</text>
<text x="617.00" y="705.15" font-size="5.65" fill="#000" class="fl">HALLMARK_FATTY_ACID_METABOLISM</text>
<text x="617.00" y="712.17" font-size="5.65" fill="#000" class="fl">HALLMARK_HEME_METABOLISM</text>
<text x="617.00" y="719.19" font-size="5.65" fill="#000" class="fl">HALLMARK_KRAS_SIGNALING_UP</text>
<text x="617.00" y="726.20" font-size="5.65" fill="#000" class="fl">HALLMARK_IL2_STAT5_SIGNALING</text>
<text x="617.00" y="733.22" font-size="5.65" fill="#000" class="fl">HALLMARK_G2M_CHECKPOINT</text>
<text x="617.00" y="740.24" font-size="5.65" fill="#000" class="fl">HALLMARK_GLYCOLYSIS</text>
<text x="617.00" y="747.25" font-size="5.65" fill="#000" class="fl">HALLMARK_ANDROGEN_RESPONSE</text>
<text x="617.00" y="754.27" font-size="5.65" fill="#000" class="fl">HALLMARK_HYPOXIA</text>
<text x="617.00" y="761.29" font-size="5.65" fill="#000" class="fl">HALLMARK_ADIPOGENESIS</text>
<text x="617.00" y="768.30" font-size="5.65" fill="#000" class="fl">HALLMARK_UV_RESPONSE_DN</text>
<text x="617.00" y="775.32" font-size="5.65" fill="#000" class="fl">HALLMARK_NOTCH_SIGNALING</text>
<text x="617.00" y="782.34" font-size="5.65" fill="#000" class="fl">HALLMARK_PI3K_AKT_MTOR_SIGNALING</text>
<text x="617.00" y="789.36" font-size="5.65" fill="#000" class="fl">HALLMARK_INTERFERON_ALPHA_RESPONSE</text>
<text x="617.00" y="796.37" font-size="5.65" fill="#000" class="fl">HALLMARK_INTERFERON_GAMMA_RESPONSE</text>
<text x="617.00" y="803.39" font-size="5.65" fill="#000" class="fl">HALLMARK_CHOLESTEROL_HOMEOSTASIS</text>
<text x="617.00" y="810.41" font-size="5.65" fill="#000" class="fl">HALLMARK_IL6_JAK_STAT3_SIGNALING</text>
<text x="617.00" y="817.42" font-size="5.65" fill="#000" class="fl">HALLMARK_MYC_TARGETS_V2</text>
<text x="617.00" y="824.44" font-size="5.65" fill="#000" class="fl">HALLMARK_P53_PATHWAY</text>
<text x="617.00" y="831.46" font-size="5.65" fill="#000" class="fl">HALLMARK_UV_RESPONSE_UP</text>
<text x="617.00" y="838.47" font-size="5.65" fill="#000" class="fl">HALLMARK_DNA_REPAIR</text>
<text x="617.00" y="845.49" font-size="5.65" fill="#000" class="fl">HALLMARK_MITOTIC_SPINDLE</text>
<text x="485.60" y="855.00" font-size="5.65" fill="#111" text-anchor="middle" >HCC</text>
<text x="569.80" y="855.00" font-size="5.65" fill="#111" text-anchor="middle" >HCC-SDS</text>
<path d="M430.4 505.6 H407.8 V609.1 H422.1 M441 499.7 H430.4 V511.6 H438.7 M441 506.7 H438.7 V516.6 H439.8 M439.8 513.7 V520.8 M439.8 513.7 H441 M439.8 520.8 H441 M434.7 559.2 H422.1 V660.4 H428.5 M438.5 543.8 H434.7 V574.5 H438.7 M438.5 531 V557 M438.5 531 H439.6 V527.8 H441 M439.6 531 V541.8 H441 M438.5 557 H439.8 V548.8 H441 M439.8 557 V562.9 H441 M441 534.8 H439.9 V541.8 H441 M441 555.8 H440.2 M438.7 569.9 V579.8 H440 V576.9 H441 M440 579.8 V583.9 H441 M438.7 569.9 H441 M435.7 608.3 H428.5 V712.3 H431.5 M441 590.9 H435.7 V625.4 H437.4 M437.4 606.3 V644.6 M437.4 606.3 H438.6 V597.9 H441 M438.6 606.3 V613 H439.8 V605.0 H441 M439.8 613 V619.0 H441 M441 612.0 H440.3 M437.4 644.6 H438.8 V626.0 H441 M438.8 644.6 V654 H439.8 V640.0 H441 M439.8 654 V668.1 H441 M441 633.0 H440 M441 647.1 H440.3 M441 654.1 H440.3 M441 661.1 H440.3 M441 612.0 H440.3 M435.7 680 H431.5 V745.3 H434.7 M441 675.1 H435.7 V685 H439.5 V682.2 H441 M439.5 685 V689.2 H441 M438.5 715.7 H434.7 V775.3 H437.4 M438.5 702 V729 M438.5 702 H439.8 V696.2 H441 M439.8 702 V717.2 H441 M438.5 729 H439.8 V724.3 H441 M439.8 729 V738.3 H441 M441 703.2 H440.2 M441 710.2 H440.2 M441 731.3 H440.2 M437.4 751.4 V799.2 M437.4 751.4 H439.6 V745.3 H441 M439.6 751.4 V766.4 H441 M441 752.3 H440.3 M441 759.3 H440.3 M437.4 799.2 H438.6 M438.6 779.5 V822 M438.6 779.5 H439.8 V773.4 H441 M439.8 779.5 V787.4 H441 M438.6 822 H439.9 V794.4 H441 M439.9 822 V843.5 H441 M441 780.4 H440.4 M441 801.4 H440.4 M441 808.5 H440.4 M441 815.5 H440.4 M441 822.5 H440.4 M441 829.5 H440.4 M441 836.5 H440.4" stroke="#111" stroke-width="0.72" fill="none" />
<rect x="749.10" y="619.70" width="6.90" height="108.50" fill="url(#magF)" />
<text x="758.10" y="636.70" font-size="6.4" fill="#111" >0.8</text>
<text x="758.10" y="658.40" font-size="6.4" fill="#111" >0.6</text>
<text x="758.10" y="680.00" font-size="6.4" fill="#111" >0.4</text>
<text x="758.10" y="701.70" font-size="6.4" fill="#111" >0.2</text>
<text x="758.10" y="723.20" font-size="6.4" fill="#111" >0</text>
<path d="M47.9 680.5 V806.2 H195.8" stroke="#000" stroke-width="1.15" fill="none" />
<line x1="46.10" y1="801.00" x2="47.90" y2="801.00" stroke="#111" stroke-width="0.6" />
<text x="44.70" y="802.80" font-size="5.4" fill="#111" text-anchor="end" >−10</text>
<line x1="46.10" y1="776.15" x2="47.90" y2="776.15" stroke="#111" stroke-width="0.6" />
<text x="44.70" y="777.95" font-size="5.4" fill="#111" text-anchor="end" >−5</text>
<line x1="46.10" y1="751.30" x2="47.90" y2="751.30" stroke="#111" stroke-width="0.6" />
<text x="44.70" y="753.10" font-size="5.4" fill="#111" text-anchor="end" >0</text>
<line x1="46.10" y1="726.45" x2="47.90" y2="726.45" stroke="#111" stroke-width="0.6" />
<text x="44.70" y="728.25" font-size="5.4" fill="#111" text-anchor="end" >5</text>
<line x1="46.10" y1="701.60" x2="47.90" y2="701.60" stroke="#111" stroke-width="0.6" />
<text x="44.70" y="703.40" font-size="5.4" fill="#111" text-anchor="end" >10</text>
<line x1="54.40" y1="806.20" x2="54.40" y2="808.00" stroke="#111" stroke-width="0.6" />
<text x="55.40" y="819.60" font-size="5.4" fill="#111" text-anchor="middle" >−10</text>
<line x1="94.05" y1="806.20" x2="94.05" y2="808.00" stroke="#111" stroke-width="0.6" />
<text x="96.40" y="819.60" font-size="5.4" fill="#111" text-anchor="middle" >−5</text>
<line x1="133.70" y1="806.20" x2="133.70" y2="808.00" stroke="#111" stroke-width="0.6" />
<text x="137.40" y="819.60" font-size="5.4" fill="#111" text-anchor="middle" >0</text>
<line x1="173.35" y1="806.20" x2="173.35" y2="808.00" stroke="#111" stroke-width="0.6" />
<text x="178.40" y="819.60" font-size="5.4" fill="#111" text-anchor="middle" >5</text>
<text x="32.60" y="745.34" font-size="6.2" fill="#111" text-anchor="middle" transform="rotate(-90 32.60 745.34)" >UMAP_2</text>
<text x="124.80" y="824.40" font-size="6.2" fill="#111" text-anchor="middle" >UMAP_1</text>
<text x="121.10" y="834.90" font-size="9.6" fill="#111" text-anchor="middle" >HCC</text>
<g fill-opacity="0.88"><circle cx="70.36" cy="728.70" r="0.95" fill="#8f8ac8"/><circle cx="70.18" cy="729.43" r="0.95" fill="#c6c6cb"/><circle cx="67.67" cy="729.77" r="0.95" fill="#8f8ac8"/><circle cx="70.17" cy="730.13" r="0.95" fill="#c6c6cb"/><circle cx="72.24" cy="730.00" r="0.95" fill="#c6c6cb"/><circle cx="74.63" cy="728.93" r="0.95" fill="#c6c6cb"/><circle cx="69.27" cy="729.33" r="0.95" fill="#c6c6cb"/><circle cx="67.36" cy="730.47" r="0.95" fill="#c6c6cb"/><circle cx="70.85" cy="729.53" r="0.95" fill="#c6c6cb"/><circle cx="70.25" cy="729.25" r="0.95" fill="#c6c6cb"/><circle cx="69.43" cy="728.17" r="0.95" fill="#c6c6cb"/><circle cx="67.83" cy="730.31" r="0.95" fill="#c6c6cb"/><circle cx="70.62" cy="727.11" r="0.95" fill="#4640b0"/><circle cx="69.90" cy="730.24" r="0.95" fill="#c6c6cb"/><circle cx="67.14" cy="731.25" r="0.95" fill="#c6c6cb"/><circle cx="71.38" cy="728.21" r="0.95" fill="#c6c6cb"/><circle cx="68.59" cy="729.17" r="0.95" fill="#c6c6cb"/><circle cx="69.94" cy="729.97" r="0.95" fill="#c6c6cb"/><circle cx="73.02" cy="729.68" r="0.95" fill="#c6c6cb"/><circle cx="69.60" cy="729.91" r="0.95" fill="#c6c6cb"/><circle cx="68.97" cy="729.63" r="0.95" fill="#c6c6cb"/><circle cx="68.51" cy="728.96" r="0.95" fill="#c6c6cb"/><circle cx="66.93" cy="729.53" r="0.95" fill="#c6c6cb"/><circle cx="72.37" cy="730.07" r="0.95" fill="#c6c6cb"/><circle cx="71.67" cy="731.26" r="0.95" fill="#4640b0"/><circle cx="68.81" cy="729.19" r="0.95" fill="#c6c6cb"/><circle cx="82.44" cy="731.95" r="0.95" fill="#c6c6cb"/><circle cx="76.99" cy="732.43" r="0.95" fill="#c6c6cb"/><circle cx="80.34" cy="732.59" r="0.95" fill="#4640b0"/><circle cx="87.92" cy="733.61" r="0.95" fill="#c6c6cb"/><circle cx="78.87" cy="731.63" r="0.95" fill="#c6c6cb"/><circle cx="74.17" cy="731.30" r="0.95" fill="#c6c6cb"/><circle cx="78.32" cy="731.75" r="0.95" fill="#c6c6cb"/><circle cx="74.21" cy="731.41" r="0.95" fill="#c6c6cb"/><circle cx="83.22" cy="731.63" r="0.95" fill="#c6c6cb"/><circle cx="79.81" cy="730.91" r="0.95" fill="#c6c6cb"/><circle cx="80.06" cy="731.86" r="0.95" fill="#c6c6cb"/><circle cx="78.21" cy="730.55" r="0.95" fill="#c6c6cb"/><circle cx="73.95" cy="731.68" r="0.95" fill="#c6c6cb"/><circle cx="82.64" cy="731.83" r="0.95" fill="#c6c6cb"/><circle cx="86.81" cy="732.75" r="0.95" fill="#c6c6cb"/><circle cx="75.56" cy="732.38" r="0.95" fill="#c6c6cb"/><circle cx="78.37" cy="730.58" r="0.95" fill="#c6c6cb"/><circle cx="87.34" cy="733.39" r="0.95" fill="#c6c6cb"/><circle cx="75.68" cy="731.71" r="0.95" fill="#4640b0"/><circle cx="72.99" cy="730.96" r="0.95" fill="#c6c6cb"/><circle cx="86.80" cy="731.88" r="0.95" fill="#c6c6cb"/><circle cx="88.17" cy="732.03" r="0.95" fill="#c6c6cb"/><circle cx="76.23" cy="730.75" r="0.95" fill="#c6c6cb"/><circle cx="85.49" cy="732.13" r="0.95" fill="#c6c6cb"/><circle cx="73.12" cy="732.70" r="0.95" fill="#c6c6cb"/><circle cx="84.64" cy="732.11" r="0.95" fill="#c6c6cb"/><circle cx="78.84" cy="733.39" r="0.95" fill="#c6c6cb"/><circle cx="80.53" cy="732.16" r="0.95" fill="#c6c6cb"/><circle cx="75.76" cy="730.41" r="0.95" fill="#c6c6cb"/><circle cx="76.10" cy="733.17" r="0.95" fill="#c6c6cb"/><circle cx="88.30" cy="732.16" r="0.95" fill="#4640b0"/><circle cx="91.50" cy="730.44" r="0.95" fill="#c6c6cb"/><circle cx="90.76" cy="732.90" r="0.95" fill="#8f8ac8"/><circle cx="88.09" cy="731.76" r="0.95" fill="#c6c6cb"/><circle cx="87.84" cy="732.14" r="0.95" fill="#c6c6cb"/><circle cx="87.46" cy="731.69" r="0.95" fill="#c6c6cb"/><circle cx="90.39" cy="732.26" r="0.95" fill="#c6c6cb"/><circle cx="91.01" cy="731.21" r="0.95" fill="#4640b0"/><circle cx="87.14" cy="733.92" r="0.95" fill="#c6c6cb"/><circle cx="90.01" cy="730.80" r="0.95" fill="#c6c6cb"/><circle cx="90.11" cy="731.62" r="0.95" fill="#c6c6cb"/><circle cx="87.97" cy="730.89" r="0.95" fill="#c6c6cb"/><circle cx="90.18" cy="733.17" r="0.95" fill="#c6c6cb"/><circle cx="88.98" cy="731.01" r="0.95" fill="#c6c6cb"/><circle cx="88.19" cy="731.82" r="0.95" fill="#c6c6cb"/><circle cx="92.69" cy="732.14" r="0.95" fill="#8f8ac8"/><circle cx="92.01" cy="731.79" r="0.95" fill="#4640b0"/><circle cx="87.19" cy="732.80" r="0.95" fill="#8f8ac8"/><circle cx="86.38" cy="734.50" r="0.95" fill="#c6c6cb"/><circle cx="87.43" cy="734.09" r="0.95" fill="#4640b0"/><circle cx="92.58" cy="730.03" r="0.95" fill="#c6c6cb"/><circle cx="85.77" cy="731.61" r="0.95" fill="#c6c6cb"/><circle cx="86.59" cy="732.31" r="0.95" fill="#c6c6cb"/><circle cx="87.26" cy="731.31" r="0.95" fill="#8f8ac8"/><circle cx="89.79" cy="731.14" r="0.95" fill="#c6c6cb"/><circle cx="89.97" cy="730.95" r="0.95" fill="#c6c6cb"/><circle cx="97.15" cy="725.48" r="0.95" fill="#c6c6cb"/><circle cx="92.07" cy="729.41" r="0.95" fill="#8f8ac8"/><circle cx="95.97" cy="727.87" r="0.95" fill="#c6c6cb"/><circle cx="93.79" cy="728.80" r="0.95" fill="#c6c6cb"/><circle cx="93.71" cy="728.08" r="0.95" fill="#c6c6cb"/><circle cx="93.48" cy="729.06" r="0.95" fill="#c6c6cb"/><circle cx="92.44" cy="728.81" r="0.95" fill="#c6c6cb"/><circle cx="93.85" cy="726.00" r="0.95" fill="#c6c6cb"/><circle cx="94.24" cy="726.99" r="0.95" fill="#c6c6cb"/><circle cx="92.54" cy="728.22" r="0.95" fill="#8f8ac8"/><circle cx="93.06" cy="726.21" r="0.95" fill="#c6c6cb"/><circle cx="95.26" cy="726.00" r="0.95" fill="#8f8ac8"/><circle cx="94.93" cy="727.68" r="0.95" fill="#c6c6cb"/><circle cx="90.50" cy="727.78" r="0.95" fill="#4640b0"/><circle cx="95.77" cy="724.87" r="0.95" fill="#c6c6cb"/><circle cx="92.59" cy="727.23" r="0.95" fill="#c6c6cb"/><circle cx="94.64" cy="728.55" r="0.95" fill="#c6c6cb"/><circle cx="94.04" cy="726.90" r="0.95" fill="#4640b0"/><circle cx="92.07" cy="729.26" r="0.95" fill="#8f8ac8"/><circle cx="93.34" cy="729.98" r="0.95" fill="#c6c6cb"/><circle cx="93.50" cy="726.98" r="0.95" fill="#c6c6cb"/><circle cx="91.91" cy="728.01" r="0.95" fill="#c6c6cb"/><circle cx="97.10" cy="724.77" r="0.95" fill="#c6c6cb"/><circle cx="93.61" cy="727.52" r="0.95" fill="#c6c6cb"/><circle cx="101.14" cy="723.53" r="0.95" fill="#c6c6cb"/><circle cx="98.02" cy="724.12" r="0.95" fill="#c6c6cb"/><circle cx="99.15" cy="724.29" r="0.95" fill="#c6c6cb"/><circle cx="101.10" cy="723.53" r="0.95" fill="#c6c6cb"/><circle cx="104.38" cy="723.57" r="0.95" fill="#c6c6cb"/><circle cx="106.73" cy="721.50" r="0.95" fill="#c6c6cb"/><circle cx="99.39" cy="725.78" r="0.95" fill="#c6c6cb"/><circle cx="104.03" cy="723.40" r="0.95" fill="#c6c6cb"/><circle cx="102.89" cy="724.67" r="0.95" fill="#c6c6cb"/><circle cx="103.77" cy="724.03" r="0.95" fill="#c6c6cb"/><circle cx="100.34" cy="723.92" r="0.95" fill="#c6c6cb"/><circle cx="99.47" cy="725.10" r="0.95" fill="#c6c6cb"/><circle cx="102.52" cy="724.03" r="0.95" fill="#8f8ac8"/><circle cx="104.33" cy="723.79" r="0.95" fill="#c6c6cb"/><circle cx="104.67" cy="722.64" r="0.95" fill="#c6c6cb"/><circle cx="98.46" cy="723.07" r="0.95" fill="#4640b0"/><circle cx="104.98" cy="723.13" r="0.95" fill="#c6c6cb"/><circle cx="101.16" cy="724.72" r="0.95" fill="#c6c6cb"/><circle cx="95.61" cy="715.28" r="0.95" fill="#c6c6cb"/><circle cx="95.16" cy="713.87" r="0.95" fill="#4640b0"/><circle cx="89.57" cy="715.60" r="0.95" fill="#c6c6cb"/><circle cx="94.75" cy="714.13" r="0.95" fill="#c6c6cb"/><circle cx="95.58" cy="714.44" r="0.95" fill="#c6c6cb"/><circle cx="98.07" cy="714.67" r="0.95" fill="#c6c6cb"/><circle cx="97.97" cy="715.31" r="0.95" fill="#c6c6cb"/><circle cx="92.05" cy="717.15" r="0.95" fill="#c6c6cb"/><circle cx="87.04" cy="717.51" r="0.95" fill="#8f8ac8"/><circle cx="93.47" cy="715.19" r="0.95" fill="#c6c6cb"/><circle cx="92.63" cy="717.62" r="0.95" fill="#4640b0"/><circle cx="87.76" cy="717.43" r="0.95" fill="#c6c6cb"/><circle cx="89.83" cy="716.24" r="0.95" fill="#c6c6cb"/><circle cx="89.32" cy="719.72" r="0.95" fill="#4640b0"/><circle cx="96.67" cy="717.18" r="0.95" fill="#c6c6cb"/><circle cx="88.45" cy="713.74" r="0.95" fill="#c6c6cb"/><circle cx="91.41" cy="716.02" r="0.95" fill="#4640b0"/><circle cx="90.77" cy="718.02" r="0.95" fill="#c6c6cb"/><circle cx="91.30" cy="715.38" r="0.95" fill="#c6c6cb"/><circle cx="95.40" cy="717.05" r="0.95" fill="#c6c6cb"/><circle cx="97.70" cy="717.05" r="0.95" fill="#c6c6cb"/><circle cx="97.78" cy="714.78" r="0.95" fill="#c6c6cb"/><circle cx="95.14" cy="716.01" r="0.95" fill="#8f8ac8"/><circle cx="98.50" cy="713.80" r="0.95" fill="#c6c6cb"/><circle cx="91.62" cy="719.79" r="0.95" fill="#c6c6cb"/><circle cx="94.44" cy="714.14" r="0.95" fill="#c6c6cb"/><circle cx="91.27" cy="716.33" r="0.95" fill="#c6c6cb"/><circle cx="94.21" cy="713.54" r="0.95" fill="#c6c6cb"/><circle cx="93.81" cy="715.58" r="0.95" fill="#4640b0"/><circle cx="93.16" cy="716.02" r="0.95" fill="#c6c6cb"/><circle cx="99.17" cy="722.10" r="0.95" fill="#c6c6cb"/><circle cx="95.53" cy="721.04" r="0.95" fill="#c6c6cb"/><circle cx="93.91" cy="718.05" r="0.95" fill="#4640b0"/><circle cx="95.62" cy="722.39" r="0.95" fill="#4640b0"/><circle cx="95.78" cy="719.78" r="0.95" fill="#c6c6cb"/><circle cx="101.51" cy="723.04" r="0.95" fill="#4640b0"/><circle cx="93.62" cy="722.51" r="0.95" fill="#c6c6cb"/><circle cx="98.96" cy="721.07" r="0.95" fill="#c6c6cb"/><circle cx="101.25" cy="723.35" r="0.95" fill="#8f8ac8"/><circle cx="95.56" cy="719.62" r="0.95" fill="#c6c6cb"/><circle cx="99.72" cy="722.80" r="0.95" fill="#c6c6cb"/><circle cx="96.63" cy="721.03" r="0.95" fill="#c6c6cb"/><circle cx="139.77" cy="690.59" r="0.95" fill="#c6c6cb"/><circle cx="138.66" cy="689.92" r="0.95" fill="#c6c6cb"/><circle cx="139.12" cy="690.30" r="0.95" fill="#c6c6cb"/><circle cx="140.01" cy="689.57" r="0.95" fill="#8f8ac8"/><circle cx="138.33" cy="689.98" r="0.95" fill="#c6c6cb"/><circle cx="141.92" cy="689.30" r="0.95" fill="#c6c6cb"/><circle cx="142.52" cy="689.55" r="0.95" fill="#8f8ac8"/><circle cx="140.21" cy="690.28" r="0.95" fill="#c6c6cb"/><circle cx="141.54" cy="689.80" r="0.95" fill="#8f8ac8"/><circle cx="139.04" cy="689.88" r="0.95" fill="#c6c6cb"/><circle cx="141.82" cy="689.94" r="0.95" fill="#c6c6cb"/><circle cx="142.34" cy="688.56" r="0.95" fill="#c6c6cb"/><circle cx="142.33" cy="723.90" r="0.95" fill="#c6c6cb"/><circle cx="144.78" cy="722.80" r="0.95" fill="#c6c6cb"/><circle cx="146.40" cy="723.25" r="0.95" fill="#c6c6cb"/><circle cx="142.65" cy="723.42" r="0.95" fill="#4640b0"/><circle cx="139.61" cy="722.58" r="0.95" fill="#c6c6cb"/><circle cx="148.38" cy="723.13" r="0.95" fill="#c6c6cb"/><circle cx="143.19" cy="723.80" r="0.95" fill="#4640b0"/><circle cx="145.42" cy="722.71" r="0.95" fill="#c6c6cb"/><circle cx="142.49" cy="723.37" r="0.95" fill="#c6c6cb"/><circle cx="149.86" cy="721.82" r="0.95" fill="#c6c6cb"/><circle cx="144.05" cy="724.37" r="0.95" fill="#c6c6cb"/><circle cx="140.10" cy="723.34" r="0.95" fill="#c6c6cb"/><circle cx="140.94" cy="722.33" r="0.95" fill="#4640b0"/><circle cx="144.37" cy="724.28" r="0.95" fill="#8f8ac8"/><circle cx="142.38" cy="722.89" r="0.95" fill="#c6c6cb"/><circle cx="147.24" cy="723.45" r="0.95" fill="#c6c6cb"/><circle cx="147.96" cy="723.33" r="0.95" fill="#c6c6cb"/><circle cx="143.06" cy="723.26" r="0.95" fill="#c6c6cb"/><circle cx="146.81" cy="724.17" r="0.95" fill="#4640b0"/><circle cx="140.42" cy="723.10" r="0.95" fill="#c6c6cb"/><circle cx="143.65" cy="722.59" r="0.95" fill="#c6c6cb"/><circle cx="148.75" cy="721.94" r="0.95" fill="#c6c6cb"/><circle cx="147.36" cy="726.89" r="0.95" fill="#c6c6cb"/><circle cx="144.74" cy="725.60" r="0.95" fill="#c6c6cb"/><circle cx="144.80" cy="726.34" r="0.95" fill="#c6c6cb"/><circle cx="143.74" cy="726.08" r="0.95" fill="#c6c6cb"/><circle cx="147.88" cy="726.42" r="0.95" fill="#c6c6cb"/><circle cx="143.64" cy="726.00" r="0.95" fill="#c6c6cb"/><circle cx="95.64" cy="710.55" r="0.95" fill="#8f8ac8"/><circle cx="105.15" cy="710.05" r="0.95" fill="#8f8ac8"/><circle cx="107.53" cy="707.56" r="0.95" fill="#4640b0"/><circle cx="111.10" cy="719.00" r="0.95" fill="#4640b0"/><circle cx="86.91" cy="716.01" r="0.95" fill="#8f8ac8"/><circle cx="138.06" cy="690.67" r="0.95" fill="#4640b0"/><circle cx="112.29" cy="770.68" r="0.95" fill="#c6c6cb"/><circle cx="116.25" cy="770.68" r="0.95" fill="#c6c6cb"/><circle cx="136.08" cy="794.54" r="0.95" fill="#c6c6cb"/><circle cx="182.07" cy="800.01" r="0.95" fill="#c6c6cb"/></g>
<path d="M242.5 681.7 V808.1 H390.6" stroke="#000" stroke-width="1.15" fill="none" />
<line x1="240.70" y1="802.10" x2="242.50" y2="802.10" stroke="#111" stroke-width="0.6" />
<text x="239.30" y="803.90" font-size="5.4" fill="#111" text-anchor="end" >−10</text>
<line x1="240.70" y1="777.30" x2="242.50" y2="777.30" stroke="#111" stroke-width="0.6" />
<text x="239.30" y="779.10" font-size="5.4" fill="#111" text-anchor="end" >−5</text>
<line x1="240.70" y1="752.50" x2="242.50" y2="752.50" stroke="#111" stroke-width="0.6" />
<text x="239.30" y="754.30" font-size="5.4" fill="#111" text-anchor="end" >0</text>
<line x1="240.70" y1="727.70" x2="242.50" y2="727.70" stroke="#111" stroke-width="0.6" />
<text x="239.30" y="729.50" font-size="5.4" fill="#111" text-anchor="end" >5</text>
<line x1="240.70" y1="702.90" x2="242.50" y2="702.90" stroke="#111" stroke-width="0.6" />
<text x="239.30" y="704.70" font-size="5.4" fill="#111" text-anchor="end" >10</text>
<line x1="249.30" y1="808.10" x2="249.30" y2="809.90" stroke="#111" stroke-width="0.6" />
<text x="249.30" y="815.40" font-size="5.4" fill="#111" text-anchor="middle" >−10</text>
<line x1="288.65" y1="808.10" x2="288.65" y2="809.90" stroke="#111" stroke-width="0.6" />
<text x="288.65" y="815.40" font-size="5.4" fill="#111" text-anchor="middle" >−5</text>
<line x1="328.00" y1="808.10" x2="328.00" y2="809.90" stroke="#111" stroke-width="0.6" />
<text x="328.00" y="815.40" font-size="5.4" fill="#111" text-anchor="middle" >0</text>
<line x1="367.35" y1="808.10" x2="367.35" y2="809.90" stroke="#111" stroke-width="0.6" />
<text x="367.35" y="815.40" font-size="5.4" fill="#111" text-anchor="middle" >5</text>
<text x="228.30" y="746.55" font-size="6.2" fill="#111" text-anchor="middle" transform="rotate(-90 228.30 746.55)" >UMAP_2</text>
<text x="314.00" y="821.00" font-size="6.2" fill="#111" text-anchor="middle" >UMAP_1</text>
<text x="318.90" y="833.50" font-size="10.0" fill="#111" text-anchor="middle" >HCC-SDS</text>
<g fill-opacity="0.88"><circle cx="281.27" cy="736.68" r="0.95" fill="#8f8ac8"/><circle cx="285.62" cy="729.67" r="0.95" fill="#8f8ac8"/><circle cx="281.16" cy="736.11" r="0.95" fill="#8f8ac8"/><circle cx="282.54" cy="730.62" r="0.95" fill="#c6c6cb"/><circle cx="285.89" cy="730.37" r="0.95" fill="#c6c6cb"/><circle cx="280.12" cy="735.17" r="0.95" fill="#4640b0"/><circle cx="287.22" cy="731.82" r="0.95" fill="#c6c6cb"/><circle cx="288.08" cy="731.55" r="0.95" fill="#8f8ac8"/><circle cx="283.06" cy="737.33" r="0.95" fill="#c6c6cb"/><circle cx="288.44" cy="735.11" r="0.95" fill="#c6c6cb"/><circle cx="280.87" cy="735.39" r="0.95" fill="#c6c6cb"/><circle cx="288.81" cy="733.99" r="0.95" fill="#c6c6cb"/><circle cx="285.64" cy="730.19" r="0.95" fill="#4640b0"/><circle cx="287.39" cy="736.01" r="0.95" fill="#c6c6cb"/><circle cx="285.71" cy="736.75" r="0.95" fill="#c6c6cb"/><circle cx="286.75" cy="730.05" r="0.95" fill="#8f8ac8"/><circle cx="281.09" cy="734.95" r="0.95" fill="#4640b0"/><circle cx="281.98" cy="736.10" r="0.95" fill="#c6c6cb"/><circle cx="279.99" cy="734.02" r="0.95" fill="#c6c6cb"/><circle cx="288.26" cy="735.83" r="0.95" fill="#4640b0"/><circle cx="279.80" cy="733.64" r="0.95" fill="#4640b0"/><circle cx="286.34" cy="731.90" r="0.95" fill="#c6c6cb"/><circle cx="288.21" cy="734.48" r="0.95" fill="#c6c6cb"/><circle cx="281.19" cy="731.32" r="0.95" fill="#c6c6cb"/><circle cx="281.25" cy="736.71" r="0.95" fill="#c6c6cb"/><circle cx="284.99" cy="730.24" r="0.95" fill="#c6c6cb"/><circle cx="286.74" cy="737.28" r="0.95" fill="#4640b0"/><circle cx="281.24" cy="731.72" r="0.95" fill="#c6c6cb"/><circle cx="281.08" cy="731.08" r="0.95" fill="#c6c6cb"/><circle cx="287.80" cy="736.44" r="0.95" fill="#8f8ac8"/><circle cx="280.53" cy="735.42" r="0.95" fill="#c6c6cb"/><circle cx="287.24" cy="731.31" r="0.95" fill="#c6c6cb"/><circle cx="280.71" cy="735.04" r="0.95" fill="#c6c6cb"/><circle cx="281.03" cy="735.72" r="0.95" fill="#c6c6cb"/><circle cx="282.37" cy="736.83" r="0.95" fill="#4640b0"/><circle cx="281.19" cy="736.71" r="0.95" fill="#c6c6cb"/><circle cx="284.71" cy="729.88" r="0.95" fill="#c6c6cb"/><circle cx="285.71" cy="731.06" r="0.95" fill="#c6c6cb"/><circle cx="287.80" cy="731.21" r="0.95" fill="#4640b0"/><circle cx="280.15" cy="732.35" r="0.95" fill="#c6c6cb"/><circle cx="288.15" cy="732.93" r="0.95" fill="#c6c6cb"/><circle cx="285.00" cy="737.66" r="0.95" fill="#c6c6cb"/><circle cx="287.73" cy="732.73" r="0.95" fill="#c6c6cb"/><circle cx="287.00" cy="730.91" r="0.95" fill="#c6c6cb"/><circle cx="288.31" cy="733.99" r="0.95" fill="#4640b0"/><circle cx="287.50" cy="734.25" r="0.95" fill="#c6c6cb"/><circle cx="288.51" cy="735.03" r="0.95" fill="#c6c6cb"/><circle cx="287.90" cy="735.52" r="0.95" fill="#4640b0"/><circle cx="281.89" cy="730.69" r="0.95" fill="#c6c6cb"/><circle cx="283.73" cy="730.26" r="0.95" fill="#c6c6cb"/><circle cx="286.17" cy="731.63" r="0.95" fill="#4640b0"/><circle cx="283.99" cy="729.96" r="0.95" fill="#c6c6cb"/><circle cx="282.47" cy="730.03" r="0.95" fill="#8f8ac8"/><circle cx="288.16" cy="735.47" r="0.95" fill="#c6c6cb"/><circle cx="287.89" cy="736.57" r="0.95" fill="#8f8ac8"/><circle cx="279.57" cy="734.80" r="0.95" fill="#c6c6cb"/><circle cx="281.44" cy="730.51" r="0.95" fill="#c6c6cb"/><circle cx="287.02" cy="736.28" r="0.95" fill="#4640b0"/><circle cx="288.07" cy="734.06" r="0.95" fill="#c6c6cb"/><circle cx="283.98" cy="730.29" r="0.95" fill="#c6c6cb"/><circle cx="281.17" cy="735.51" r="0.95" fill="#c6c6cb"/><circle cx="286.42" cy="729.79" r="0.95" fill="#c6c6cb"/><circle cx="288.38" cy="732.67" r="0.95" fill="#c6c6cb"/><circle cx="288.06" cy="734.26" r="0.95" fill="#c6c6cb"/><circle cx="282.22" cy="737.29" r="0.95" fill="#8f8ac8"/><circle cx="286.76" cy="730.68" r="0.95" fill="#c6c6cb"/><circle cx="281.54" cy="732.68" r="0.95" fill="#4640b0"/><circle cx="284.89" cy="730.05" r="0.95" fill="#c6c6cb"/><circle cx="288.83" cy="733.28" r="0.95" fill="#4640b0"/><circle cx="281.77" cy="730.79" r="0.95" fill="#8f8ac8"/><circle cx="282.32" cy="730.16" r="0.95" fill="#c6c6cb"/><circle cx="282.72" cy="729.01" r="0.95" fill="#4640b0"/><circle cx="279.66" cy="729.34" r="0.95" fill="#c6c6cb"/><circle cx="284.00" cy="729.84" r="0.95" fill="#4640b0"/><circle cx="282.67" cy="730.19" r="0.95" fill="#c6c6cb"/><circle cx="282.42" cy="730.23" r="0.95" fill="#4640b0"/><circle cx="286.20" cy="729.96" r="0.95" fill="#8f8ac8"/><circle cx="280.71" cy="729.48" r="0.95" fill="#4640b0"/><circle cx="282.73" cy="730.06" r="0.95" fill="#4640b0"/><circle cx="282.00" cy="730.02" r="0.95" fill="#c6c6cb"/><circle cx="278.95" cy="729.36" r="0.95" fill="#4640b0"/><circle cx="285.54" cy="730.93" r="0.95" fill="#4640b0"/><circle cx="284.92" cy="730.68" r="0.95" fill="#c6c6cb"/><circle cx="281.59" cy="729.67" r="0.95" fill="#8f8ac8"/><circle cx="277.43" cy="728.97" r="0.95" fill="#c6c6cb"/><circle cx="284.83" cy="730.50" r="0.95" fill="#c6c6cb"/><circle cx="290.93" cy="728.59" r="0.95" fill="#c6c6cb"/><circle cx="292.66" cy="726.64" r="0.95" fill="#c6c6cb"/><circle cx="287.91" cy="728.95" r="0.95" fill="#c6c6cb"/><circle cx="293.79" cy="725.80" r="0.95" fill="#c6c6cb"/><circle cx="290.10" cy="726.09" r="0.95" fill="#c6c6cb"/><circle cx="290.67" cy="728.41" r="0.95" fill="#c6c6cb"/><circle cx="292.45" cy="727.21" r="0.95" fill="#c6c6cb"/><circle cx="291.57" cy="726.42" r="0.95" fill="#4640b0"/><circle cx="293.92" cy="725.66" r="0.95" fill="#4640b0"/><circle cx="290.02" cy="728.26" r="0.95" fill="#c6c6cb"/><circle cx="289.07" cy="728.93" r="0.95" fill="#c6c6cb"/><circle cx="291.27" cy="727.93" r="0.95" fill="#8f8ac8"/><circle cx="290.25" cy="725.50" r="0.95" fill="#c6c6cb"/><circle cx="295.50" cy="724.53" r="0.95" fill="#c6c6cb"/><circle cx="294.39" cy="724.62" r="0.95" fill="#4640b0"/><circle cx="289.24" cy="730.86" r="0.95" fill="#c6c6cb"/><circle cx="292.44" cy="726.14" r="0.95" fill="#8f8ac8"/><circle cx="288.51" cy="729.81" r="0.95" fill="#c6c6cb"/><circle cx="291.37" cy="727.49" r="0.95" fill="#c6c6cb"/><circle cx="291.71" cy="725.55" r="0.95" fill="#c6c6cb"/><circle cx="291.94" cy="728.19" r="0.95" fill="#4640b0"/><circle cx="288.71" cy="727.03" r="0.95" fill="#c6c6cb"/><circle cx="291.55" cy="726.34" r="0.95" fill="#c6c6cb"/><circle cx="288.72" cy="729.73" r="0.95" fill="#4640b0"/><circle cx="289.37" cy="731.17" r="0.95" fill="#4640b0"/><circle cx="288.99" cy="727.16" r="0.95" fill="#8f8ac8"/><circle cx="294.73" cy="721.42" r="0.95" fill="#c6c6cb"/><circle cx="298.39" cy="720.31" r="0.95" fill="#c6c6cb"/><circle cx="297.50" cy="722.06" r="0.95" fill="#8f8ac8"/><circle cx="296.99" cy="723.42" r="0.95" fill="#c6c6cb"/><circle cx="294.30" cy="723.03" r="0.95" fill="#c6c6cb"/><circle cx="294.06" cy="724.99" r="0.95" fill="#8f8ac8"/><circle cx="296.03" cy="724.75" r="0.95" fill="#c6c6cb"/><circle cx="298.39" cy="720.13" r="0.95" fill="#c6c6cb"/><circle cx="297.56" cy="723.34" r="0.95" fill="#c6c6cb"/><circle cx="296.53" cy="722.12" r="0.95" fill="#c6c6cb"/><circle cx="298.11" cy="720.94" r="0.95" fill="#c6c6cb"/><circle cx="297.55" cy="721.82" r="0.95" fill="#c6c6cb"/><circle cx="295.07" cy="723.34" r="0.95" fill="#c6c6cb"/><circle cx="298.43" cy="720.96" r="0.95" fill="#4640b0"/><circle cx="294.43" cy="723.85" r="0.95" fill="#c6c6cb"/><circle cx="296.42" cy="724.63" r="0.95" fill="#4640b0"/><circle cx="299.67" cy="720.32" r="0.95" fill="#c6c6cb"/><circle cx="297.61" cy="722.77" r="0.95" fill="#8f8ac8"/><circle cx="341.53" cy="723.82" r="0.95" fill="#c6c6cb"/><circle cx="334.28" cy="724.01" r="0.95" fill="#c6c6cb"/><circle cx="339.22" cy="724.76" r="0.95" fill="#c6c6cb"/><circle cx="339.72" cy="723.53" r="0.95" fill="#c6c6cb"/><circle cx="337.97" cy="724.78" r="0.95" fill="#c6c6cb"/><circle cx="336.96" cy="725.81" r="0.95" fill="#c6c6cb"/><circle cx="342.41" cy="724.81" r="0.95" fill="#c6c6cb"/><circle cx="338.94" cy="723.44" r="0.95" fill="#c6c6cb"/><circle cx="339.30" cy="725.31" r="0.95" fill="#c6c6cb"/><circle cx="336.68" cy="724.15" r="0.95" fill="#c6c6cb"/><circle cx="338.13" cy="725.64" r="0.95" fill="#c6c6cb"/><circle cx="341.40" cy="724.70" r="0.95" fill="#c6c6cb"/><circle cx="345.24" cy="723.57" r="0.95" fill="#c6c6cb"/><circle cx="343.35" cy="724.23" r="0.95" fill="#c6c6cb"/><circle cx="339.30" cy="724.42" r="0.95" fill="#c6c6cb"/><circle cx="341.58" cy="724.78" r="0.95" fill="#c6c6cb"/><circle cx="344.33" cy="722.84" r="0.95" fill="#c6c6cb"/><circle cx="343.92" cy="722.67" r="0.95" fill="#c6c6cb"/><circle cx="335.50" cy="724.02" r="0.95" fill="#4640b0"/><circle cx="337.97" cy="723.83" r="0.95" fill="#c6c6cb"/><circle cx="337.79" cy="723.41" r="0.95" fill="#c6c6cb"/><circle cx="340.34" cy="723.06" r="0.95" fill="#c6c6cb"/><circle cx="338.02" cy="723.70" r="0.95" fill="#c6c6cb"/><circle cx="340.08" cy="723.94" r="0.95" fill="#c6c6cb"/><circle cx="343.51" cy="723.03" r="0.95" fill="#c6c6cb"/><circle cx="342.15" cy="723.81" r="0.95" fill="#c6c6cb"/><circle cx="336.64" cy="725.12" r="0.95" fill="#c6c6cb"/><circle cx="337.18" cy="724.11" r="0.95" fill="#c6c6cb"/><circle cx="338.10" cy="724.52" r="0.95" fill="#c6c6cb"/><circle cx="337.11" cy="723.78" r="0.95" fill="#c6c6cb"/><circle cx="342.40" cy="727.60" r="0.95" fill="#c6c6cb"/><circle cx="343.97" cy="727.34" r="0.95" fill="#c6c6cb"/><circle cx="343.53" cy="727.02" r="0.95" fill="#c6c6cb"/><circle cx="341.61" cy="726.67" r="0.95" fill="#c6c6cb"/><circle cx="341.55" cy="726.85" r="0.95" fill="#c6c6cb"/><circle cx="336.00" cy="690.95" r="0.95" fill="#c6c6cb"/><circle cx="336.57" cy="690.51" r="0.95" fill="#c6c6cb"/><circle cx="335.73" cy="691.70" r="0.95" fill="#c6c6cb"/><circle cx="336.47" cy="690.61" r="0.95" fill="#c6c6cb"/><circle cx="335.29" cy="690.87" r="0.95" fill="#c6c6cb"/><circle cx="289.44" cy="714.80" r="0.95" fill="#8f8ac8"/><circle cx="289.83" cy="715.30" r="0.95" fill="#4640b0"/><circle cx="294.16" cy="720.76" r="0.95" fill="#8f8ac8"/><circle cx="321.47" cy="717.28" r="0.95" fill="#4640b0"/><circle cx="321.31" cy="718.28" r="0.95" fill="#c6c6cb"/><circle cx="261.89" cy="731.17" r="0.95" fill="#4640b0"/><circle cx="262.68" cy="732.16" r="0.95" fill="#4640b0"/><circle cx="266.61" cy="729.68" r="0.95" fill="#4640b0"/><circle cx="265.83" cy="730.68" r="0.95" fill="#8f8ac8"/><circle cx="265.04" cy="733.65" r="0.95" fill="#c6c6cb"/><circle cx="274.48" cy="733.16" r="0.95" fill="#c6c6cb"/><circle cx="283.14" cy="762.92" r="0.95" fill="#8f8ac8"/><circle cx="285.50" cy="763.91" r="0.95" fill="#c6c6cb"/><circle cx="289.44" cy="765.89" r="0.95" fill="#c6c6cb"/><circle cx="280.78" cy="767.38" r="0.95" fill="#c6c6cb"/><circle cx="250.87" cy="770.85" r="0.95" fill="#c6c6cb"/><circle cx="316.19" cy="776.31" r="0.95" fill="#8f8ac8"/><circle cx="326.03" cy="798.63" r="0.95" fill="#c6c6cb"/><circle cx="301.24" cy="718.28" r="0.95" fill="#c6c6cb"/><circle cx="306.75" cy="721.75" r="0.95" fill="#c6c6cb"/><circle cx="298.09" cy="717.78" r="0.95" fill="#c6c6cb"/></g>
<text x="387.50" y="746.70" font-size="6.0" fill="#111" text-anchor="middle" font-weight="bold" transform="rotate(90 387.50 746.70)" >TGF-β1</text>
<g clip-path="url(#clipP8)">
<rect x="51.60" y="883.00" width="98.70" height="98.20" fill="#150403" />
<g filter="url(#blurC)" opacity="0.30">
<ellipse cx="97.2" cy="935.8" rx="16.1" ry="24.0" fill="#300705"/>
<ellipse cx="114.6" cy="926.4" rx="15.6" ry="23.0" fill="#300705"/>
</g>
<circle cx="124.1" cy="904.5" r="12.5" fill="#090202" opacity="0.85" filter="url(#blurN)"/>
<g filter="url(#blurN)">
<ellipse cx="97.2" cy="935.8" rx="6.2" ry="10.0" fill="#460b09" transform="rotate(20 97.2 935.8)"/>
<ellipse cx="114.6" cy="926.4" rx="6.0" ry="9.6" fill="#460b09" transform="rotate(4 114.6 926.4)"/>
</g>
</g>
<line x1="129.40" y1="975.70" x2="145.30" y2="975.70" stroke="#fff" stroke-width="1.8" />
<text x="137.40" y="973.60" font-size="7.0" fill="#fff" text-anchor="middle" textLength="15.00" lengthAdjust="spacingAndGlyphs" >20μm</text>
<g clip-path="url(#clipP9)">
<rect x="156.70" y="883.00" width="98.60" height="98.20" fill="#010103" />
<g filter="url(#blurN)">
<ellipse cx="202.3" cy="935.8" rx="6.2" ry="10.0" fill="#181cc0" transform="rotate(20 202.3 935.8)"/>
<ellipse cx="219.7" cy="926.4" rx="6.0" ry="9.6" fill="#181cc0" transform="rotate(4 219.7 926.4)"/>
</g>
</g>
<line x1="234.50" y1="975.70" x2="250.40" y2="975.70" stroke="#fff" stroke-width="1.8" />
<text x="242.50" y="973.60" font-size="7.0" fill="#fff" text-anchor="middle" textLength="15.00" lengthAdjust="spacingAndGlyphs" >20μm</text>
<g clip-path="url(#clipP10)">
<rect x="262.50" y="883.00" width="98.40" height="98.20" fill="#130304" />
<g filter="url(#blurC)" opacity="0.24">
<ellipse cx="308.1" cy="935.8" rx="16.1" ry="24.0" fill="#300705"/>
<ellipse cx="325.5" cy="926.4" rx="15.6" ry="23.0" fill="#300705"/>
</g>
<circle cx="335.0" cy="904.5" r="12.5" fill="#090202" opacity="0.85" filter="url(#blurN)"/>
<g filter="url(#blurN)">
<ellipse cx="308.1" cy="935.8" rx="6.2" ry="10.0" fill="#3a20c4" transform="rotate(20 308.1 935.8)"/>
<ellipse cx="325.5" cy="926.4" rx="6.0" ry="9.6" fill="#3a20c4" transform="rotate(4 325.5 926.4)"/>
</g>
</g>
<line x1="340.30" y1="975.70" x2="356.20" y2="975.70" stroke="#fff" stroke-width="1.8" />
<text x="348.30" y="973.60" font-size="7.0" fill="#fff" text-anchor="middle" textLength="15.00" lengthAdjust="spacingAndGlyphs" >20μm</text>
<g clip-path="url(#clipP11)">
<rect x="51.60" y="986.90" width="98.70" height="98.00" fill="#0d0202" />
<g filter="url(#blurC)" opacity="0.50">
<ellipse cx="95.9" cy="1031.1" rx="26.0" ry="15.8" fill="#3c0805"/>
<ellipse cx="115.0" cy="1039.9" rx="19.8" ry="19.7" fill="#3c0805"/>
</g>
<g filter="url(#blurN)">
<ellipse cx="95.9" cy="1031.1" rx="10.0" ry="6.6" fill="#6a110e" transform="rotate(-8 95.9 1031.1)"/>
<ellipse cx="115.0" cy="1039.9" rx="7.6" ry="8.2" fill="#6a110e" transform="rotate(10 115.0 1039.9)"/>
</g>
</g>
<line x1="129.40" y1="1079.60" x2="145.30" y2="1079.60" stroke="#fff" stroke-width="1.8" />
<text x="137.40" y="1077.50" font-size="7.0" fill="#fff" text-anchor="middle" textLength="15.00" lengthAdjust="spacingAndGlyphs" >20μm</text>
<g clip-path="url(#clipP12)">
<rect x="156.70" y="986.90" width="98.60" height="98.00" fill="#010103" />
<g filter="url(#blurN)">
<ellipse cx="201.0" cy="1031.1" rx="10.0" ry="6.6" fill="#181cc0" transform="rotate(-8 201.0 1031.1)"/>
<ellipse cx="220.1" cy="1039.9" rx="7.6" ry="8.2" fill="#181cc0" transform="rotate(10 220.1 1039.9)"/>
</g>
</g>
<line x1="234.50" y1="1079.60" x2="250.40" y2="1079.60" stroke="#fff" stroke-width="1.8" />
<text x="242.50" y="1077.50" font-size="7.0" fill="#fff" text-anchor="middle" textLength="15.00" lengthAdjust="spacingAndGlyphs" >20μm</text>
<g clip-path="url(#clipP13)">
<rect x="262.50" y="986.90" width="98.40" height="98.00" fill="#0b0202" />
<g filter="url(#blurC)" opacity="0.40">
<ellipse cx="306.8" cy="1031.1" rx="26.0" ry="15.8" fill="#3c0805"/>
<ellipse cx="325.9" cy="1039.9" rx="19.8" ry="19.7" fill="#3c0805"/>
</g>
<g filter="url(#blurN)">
<ellipse cx="306.8" cy="1031.1" rx="10.0" ry="6.6" fill="#4a28c2" transform="rotate(-8 306.8 1031.1)"/>
<ellipse cx="325.9" cy="1039.9" rx="7.6" ry="8.2" fill="#4a28c2" transform="rotate(10 325.9 1039.9)"/>
</g>
</g>
<line x1="340.30" y1="1079.60" x2="356.20" y2="1079.60" stroke="#fff" stroke-width="1.8" />
<text x="348.30" y="1077.50" font-size="7.0" fill="#fff" text-anchor="middle" textLength="15.00" lengthAdjust="spacingAndGlyphs" >20μm</text>
<g clip-path="url(#clipP14)">
<rect x="51.60" y="1091.50" width="98.70" height="98.70" fill="#060101" />
<g filter="url(#blurC)" opacity="0.40">
<ellipse cx="113.1" cy="1127.7" rx="22.4" ry="14.9" fill="#420906"/>
<ellipse cx="89.2" cy="1155.7" rx="17.7" ry="18.2" fill="#420906"/>
</g>
<g filter="url(#blurN)">
<ellipse cx="113.1" cy="1127.7" rx="8.6" ry="6.2" fill="#9c1814" transform="rotate(-25 113.1 1127.7)"/>
<ellipse cx="89.2" cy="1155.7" rx="6.8" ry="7.6" fill="#9c1814" transform="rotate(15 89.2 1155.7)"/>
</g>
</g>
<line x1="129.40" y1="1184.20" x2="145.30" y2="1184.20" stroke="#fff" stroke-width="1.8" />
<text x="137.40" y="1182.10" font-size="7.0" fill="#fff" text-anchor="middle" textLength="15.00" lengthAdjust="spacingAndGlyphs" >20μm</text>
<g clip-path="url(#clipP15)">
<rect x="156.70" y="1091.50" width="98.60" height="98.70" fill="#010103" />
<g filter="url(#blurN)">
<ellipse cx="218.2" cy="1127.7" rx="8.6" ry="6.2" fill="#181cc0" transform="rotate(-25 218.2 1127.7)"/>
<ellipse cx="194.3" cy="1155.7" rx="6.8" ry="7.6" fill="#181cc0" transform="rotate(15 194.3 1155.7)"/>
</g>
</g>
<line x1="234.50" y1="1184.20" x2="250.40" y2="1184.20" stroke="#fff" stroke-width="1.8" />
<text x="242.50" y="1182.10" font-size="7.0" fill="#fff" text-anchor="middle" textLength="15.00" lengthAdjust="spacingAndGlyphs" >20μm</text>
<g clip-path="url(#clipP16)">
<rect x="262.50" y="1091.50" width="98.40" height="98.70" fill="#040001" />
<g filter="url(#blurC)" opacity="0.32">
<ellipse cx="324.0" cy="1127.7" rx="22.4" ry="14.9" fill="#420906"/>
<ellipse cx="300.1" cy="1155.7" rx="17.7" ry="18.2" fill="#420906"/>
</g>
<g filter="url(#blurN)">
<ellipse cx="324.0" cy="1127.7" rx="8.6" ry="6.2" fill="#8a2ab8" transform="rotate(-25 324.0 1127.7)"/>
<ellipse cx="300.1" cy="1155.7" rx="6.8" ry="7.6" fill="#8a2ab8" transform="rotate(15 300.1 1155.7)"/>
</g>
</g>
<line x1="340.30" y1="1184.20" x2="356.20" y2="1184.20" stroke="#fff" stroke-width="1.8" />
<text x="348.30" y="1182.10" font-size="7.0" fill="#fff" text-anchor="middle" textLength="15.00" lengthAdjust="spacingAndGlyphs" >20μm</text>
<text x="94.95" y="878.40" font-size="10.5" fill="#111" text-anchor="middle" >p-SMAD2</text>
<text x="206.00" y="878.40" font-size="10.5" fill="#111" text-anchor="middle" >DAPI</text>
<text x="311.70" y="878.40" font-size="10.5" fill="#111" text-anchor="middle" >Merge</text>
<text x="49.40" y="938.00" font-size="10.5" fill="#111" text-anchor="end" >PBS</text>
<text x="49.40" y="1039.60" font-size="10.5" fill="#111" text-anchor="end" >HCC</text>
<text x="48.60" y="1144.90" font-size="10.5" fill="#111" text-anchor="end" >HCC-SDS</text>
<g clip-path="url(#clipP17)">
<rect x="427.30" y="876.40" width="161.50" height="28.30" fill="#f7f7f7" />
<g filter="url(#blurW2)">
<ellipse cx="559.5" cy="888.0" rx="27.0" ry="7.0" fill="#888" opacity="0.35"/>
<ellipse cx="504.0" cy="887.0" rx="22.0" ry="4.5" fill="#999" opacity="0.30"/>
<ellipse cx="455.0" cy="886.0" rx="21.0" ry="4.0" fill="#aaa" opacity="0.30"/>
</g>
<g filter="url(#blurW)">
<rect x="435.0" y="883.3" width="24.0" height="2.6" rx="1.3" fill="#0a0a0a" opacity="0.70"/>
<rect x="446.5" y="883.7" width="27.0" height="4.4" rx="2.2" fill="#0a0a0a" opacity="0.90"/>
<rect x="485.4" y="884.6" width="38.5" height="5.0" rx="2.5" fill="#0a0a0a" opacity="0.95"/>
<rect x="536.0" y="883.4" width="47.0" height="8.8" rx="4.4" fill="#0a0a0a" opacity="1.00"/>
<rect x="574.0" y="883.4" width="8.0" height="6.0" rx="3.0" fill="#0a0a0a" opacity="0.90"/>
</g></g>
<rect x="427.30" y="876.40" width="161.50" height="28.30" fill="none" stroke="#222" stroke-width="0.8" />
<g clip-path="url(#clipP18)">
<rect x="427.30" y="912.20" width="161.50" height="28.10" fill="#f7f7f7" />
<g filter="url(#blurW2)">
<ellipse cx="562.0" cy="926.0" rx="25.0" ry="12.0" fill="#999" opacity="0.40"/>
<ellipse cx="562.0" cy="936.0" rx="20.0" ry="2.5" fill="#999" opacity="0.30"/>
</g>
<g filter="url(#blurW)">
<rect x="437.0" y="919.7" width="32.0" height="1.8" rx="0.9" fill="#0a0a0a" opacity="0.20"/>
<rect x="491.9" y="921.2" width="29.5" height="2.6" rx="1.3" fill="#0a0a0a" opacity="0.30"/>
<rect x="542.0" y="922.1" width="40.0" height="7.6" rx="3.8" fill="#0a0a0a" opacity="0.96"/>
</g></g>
<rect x="427.30" y="912.20" width="161.50" height="28.10" fill="none" stroke="#222" stroke-width="0.8" />
<g clip-path="url(#clipP19)">
<rect x="427.30" y="949.20" width="161.50" height="28.00" fill="#f7f7f7" />
<g filter="url(#blurW2)">
<ellipse cx="561.6" cy="964.0" rx="25.0" ry="7.0" fill="#888" opacity="0.35"/>
<ellipse cx="507.8" cy="963.5" rx="20.0" ry="4.5" fill="#999" opacity="0.30"/>
<ellipse cx="451.3" cy="964.2" rx="20.0" ry="4.0" fill="#999" opacity="0.30"/>
</g>
<g filter="url(#blurW)">
<rect x="433.8" y="962.0" width="35.0" height="4.4" rx="2.2" fill="#0a0a0a" opacity="0.88"/>
<rect x="490.8" y="960.8" width="34.0" height="5.4" rx="2.7" fill="#0a0a0a" opacity="0.94"/>
<rect x="540.9" y="959.3" width="41.5" height="8.4" rx="4.2" fill="#0a0a0a" opacity="1.00"/>
</g></g>
<rect x="427.30" y="949.20" width="161.50" height="28.00" fill="none" stroke="#222" stroke-width="0.8" />
<g clip-path="url(#clipP20)">
<rect x="427.30" y="986.00" width="161.50" height="33.50" fill="#eeeeee" />
<g filter="url(#blurW2)">
<ellipse cx="454.8" cy="1003.0" rx="27.0" ry="13.0" fill="#777" opacity="0.50"/>
<ellipse cx="509.0" cy="1005.5" rx="26.0" ry="14.0" fill="#777" opacity="0.50"/>
<ellipse cx="561.4" cy="1006.5" rx="25.0" ry="14.0" fill="#777" opacity="0.45"/>
</g>
<g filter="url(#blurW)">
<rect x="434.8" y="996.1" width="40.0" height="8.0" rx="4.0" fill="#0a0a0a" opacity="0.96"/>
<rect x="488.5" y="998.7" width="41.0" height="8.2" rx="4.1" fill="#0a0a0a" opacity="0.97"/>
<rect x="543.1" y="999.9" width="36.5" height="8.2" rx="4.1" fill="#0a0a0a" opacity="0.97"/>
</g></g>
<rect x="427.30" y="986.00" width="161.50" height="33.50" fill="none" stroke="#222" stroke-width="0.8" />
<g clip-path="url(#clipP21)">
<rect x="427.30" y="1029.80" width="161.50" height="28.20" fill="#f7f7f7" />
<g filter="url(#blurW2)">
<ellipse cx="456.0" cy="1043.0" rx="23.0" ry="6.0" fill="#888" opacity="0.30"/>
<ellipse cx="509.0" cy="1043.0" rx="25.0" ry="6.0" fill="#888" opacity="0.30"/>
<ellipse cx="562.4" cy="1043.5" rx="25.0" ry="6.5" fill="#888" opacity="0.30"/>
</g>
<g filter="url(#blurW)">
<rect x="437.1" y="1039.5" width="37.7" height="6.6" rx="3.3" fill="#0a0a0a" opacity="1.00"/>
<rect x="487.3" y="1039.4" width="43.4" height="6.8" rx="3.4" fill="#0a0a0a" opacity="1.00"/>
<rect x="540.5" y="1039.6" width="43.8" height="7.2" rx="3.6" fill="#0a0a0a" opacity="1.00"/>
</g></g>
<rect x="427.30" y="1029.80" width="161.50" height="28.20" fill="none" stroke="#222" stroke-width="0.8" />
<text x="447.30" y="872.60" font-size="10.5" fill="#111" text-anchor="middle" >PBS</text>
<text x="496.90" y="872.60" font-size="10.5" fill="#111" text-anchor="middle" >HCC</text>
<text x="556.20" y="872.60" font-size="10.5" fill="#111" text-anchor="middle" >HCC-SDS</text>
<text x="422.60" y="893.30" font-size="10.9" fill="#111" text-anchor="end" >Collagen I</text>
<text x="424.00" y="928.30" font-size="10.9" fill="#111" text-anchor="end" >Collagen III</text>
<text x="421.00" y="966.30" font-size="10.9" fill="#111" text-anchor="end" >p-SMAD2</text>
<text x="421.00" y="1005.80" font-size="10.9" fill="#111" text-anchor="end" >SMAD2</text>
<text x="420.60" y="1046.30" font-size="10.9" fill="#111" text-anchor="end" >GAPDH</text>
<g clip-path="url(#clipP22)">
<rect x="676.40" y="883.10" width="95.90" height="30.60" fill="#f2f2f2" />
<g filter="url(#blurW2)">
<ellipse cx="749.5" cy="899.0" rx="23.0" ry="10.0" fill="#777" opacity="0.40"/>
<ellipse cx="700.0" cy="898.5" rx="20.0" ry="6.0" fill="#999" opacity="0.35"/>
</g>
<g filter="url(#blurW)">
<rect x="684.5" y="896.3" width="32.0" height="4.6" rx="2.3" fill="#0a0a0a" opacity="0.62"/>
<rect x="732.0" y="893.6" width="35.0" height="11.0" rx="5.5" fill="#0a0a0a" opacity="1.00"/>
</g></g>
<rect x="676.40" y="883.10" width="95.90" height="30.60" fill="none" stroke="#222" stroke-width="0.8" />
<g clip-path="url(#clipP23)">
<rect x="676.40" y="920.40" width="95.90" height="27.30" fill="#e0e0e0" />
<g filter="url(#blurW2)">
<ellipse cx="752.0" cy="935.0" rx="26.0" ry="15.0" fill="#6a6a6a" opacity="0.50"/>
<ellipse cx="697.0" cy="934.0" rx="20.0" ry="6.0" fill="#999" opacity="0.35"/>
</g>
<g filter="url(#blurW)">
<rect x="682.2" y="931.7" width="30.0" height="4.2" rx="2.1" fill="#0a0a0a" opacity="0.55"/>
<rect x="731.9" y="927.1" width="34.5" height="11.6" rx="5.8" fill="#0a0a0a" opacity="0.97"/>
</g></g>
<rect x="676.40" y="920.40" width="95.90" height="27.30" fill="none" stroke="#222" stroke-width="0.8" />
<g clip-path="url(#clipP24)">
<rect x="676.40" y="954.20" width="95.90" height="29.70" fill="#f6f6f6" />
<g filter="url(#blurW2)">
<ellipse cx="745.0" cy="968.5" rx="25.0" ry="11.0" fill="#777" opacity="0.40"/>
<ellipse cx="697.7" cy="969.3" rx="17.0" ry="7.5" fill="#888" opacity="0.40"/>
</g>
<g filter="url(#blurW)">
<rect x="684.2" y="964.6" width="27.0" height="9.4" rx="4.7" fill="#0a0a0a" opacity="0.97"/>
<rect x="724.1" y="960.7" width="42.0" height="15.6" rx="7.8" fill="#0a0a0a" opacity="1.00"/>
</g></g>
<rect x="676.40" y="954.20" width="95.90" height="29.70" fill="none" stroke="#222" stroke-width="0.8" />
<g clip-path="url(#clipP25)">
<rect x="676.40" y="990.70" width="95.90" height="30.50" fill="#efefef" />
<g filter="url(#blurW2)">
<ellipse cx="703.5" cy="1009.0" rx="23.0" ry="13.0" fill="#777" opacity="0.45"/>
<ellipse cx="746.4" cy="1010.0" rx="23.0" ry="14.0" fill="#777" opacity="0.45"/>
</g>
<g filter="url(#blurW)">
<rect x="684.5" y="998.3" width="38.0" height="11.0" rx="5.5" fill="#0a0a0a" opacity="0.95"/>
<rect x="727.4" y="998.7" width="38.0" height="11.4" rx="5.7" fill="#0a0a0a" opacity="0.97"/>
<rect x="714.0" y="1000.0" width="20.0" height="8.0" rx="4.0" fill="#0a0a0a" opacity="0.60"/>
</g></g>
<rect x="676.40" y="990.70" width="95.90" height="30.50" fill="none" stroke="#222" stroke-width="0.8" />
<g clip-path="url(#clipP26)">
<rect x="676.40" y="1028.10" width="95.90" height="29.50" fill="#f6f6f6" />
<g filter="url(#blurW2)">
<ellipse cx="703.5" cy="1043.0" rx="22.0" ry="8.0" fill="#888" opacity="0.35"/>
<ellipse cx="748.9" cy="1043.7" rx="22.0" ry="8.0" fill="#888" opacity="0.35"/>
</g>
<g filter="url(#blurW)">
<rect x="685.0" y="1037.1" width="37.0" height="11.6" rx="5.8" fill="#0a0a0a" opacity="1.00"/>
<rect x="730.9" y="1038.3" width="36.0" height="10.8" rx="5.4" fill="#0a0a0a" opacity="1.00"/>
</g></g>
<rect x="676.40" y="1028.10" width="95.90" height="29.50" fill="none" stroke="#222" stroke-width="0.8" />
<text x="691.60" y="875.00" font-size="10.0" fill="#111" text-anchor="middle" >HCC</text>
<text x="742.60" y="875.00" font-size="10.0" fill="#111" text-anchor="middle" >HCC-SDS</text>
<text x="670.80" y="901.50" font-size="10.25" fill="#111" text-anchor="end" >Collagen I</text>
<text x="672.60" y="937.60" font-size="10.25" fill="#111" text-anchor="end" >Collagen III</text>
<text x="669.50" y="975.40" font-size="10.25" fill="#111" text-anchor="end" >p-SMAD2</text>
<text x="667.50" y="1010.00" font-size="10.25" fill="#111" text-anchor="end" >SMAD2</text>
<text x="670.30" y="1043.30" font-size="10.25" fill="#111" text-anchor="end" >GAPDH</text>
<g clip-path="url(#clipP27)">
<rect x="649.40" y="1111.00" width="110.20" height="21.50" fill="#e9e9e9" />
<g filter="url(#blurW2)">
<ellipse cx="702.3" cy="1121.0" rx="15.0" ry="15.0" fill="#777" opacity="0.50"/>
<ellipse cx="738.0" cy="1119.0" rx="15.0" ry="5.0" fill="#aaa" opacity="0.35"/>
<ellipse cx="668.0" cy="1119.0" rx="14.0" ry="4.0" fill="#bbb" opacity="0.30"/>
</g>
<g filter="url(#blurW)">
<rect x="657.0" y="1117.7" width="21.7" height="2.4" rx="1.2" fill="#0a0a0a" opacity="0.25"/>
<rect x="690.0" y="1116.6" width="24.6" height="3.8" rx="1.9" fill="#0a0a0a" opacity="0.85"/>
<rect x="725.9" y="1117.6" width="24.6" height="2.6" rx="1.3" fill="#0a0a0a" opacity="0.33"/>
</g></g>
<rect x="649.40" y="1111.00" width="110.20" height="21.50" fill="none" stroke="#222" stroke-width="0.8" />
<g clip-path="url(#clipP28)">
<rect x="649.40" y="1139.70" width="110.20" height="19.40" fill="#e3e3e3" />
<g filter="url(#blurW2)">
<ellipse cx="701.5" cy="1147.0" rx="16.0" ry="11.0" fill="#888" opacity="0.50"/>
</g>
<g filter="url(#blurW)">
<rect x="661.0" y="1146.1" width="18.0" height="2.6" rx="1.3" fill="#0a0a0a" opacity="0.12"/>
<rect x="690.0" y="1143.8" width="23.0" height="5.0" rx="2.5" fill="#0a0a0a" opacity="0.42"/>
<rect x="723.0" y="1146.1" width="22.0" height="2.8" rx="1.4" fill="#0a0a0a" opacity="0.20"/>
</g></g>
<rect x="649.40" y="1139.70" width="110.20" height="19.40" fill="none" stroke="#222" stroke-width="0.8" />
<g clip-path="url(#clipP29)">
<rect x="649.40" y="1168.90" width="110.20" height="19.90" fill="#f8f8f8" />
<g filter="url(#blurW)">
<rect x="658.8" y="1177.3" width="26.4" height="4.8" rx="2.4" fill="#0a0a0a" opacity="1.00"/>
<rect x="692.9" y="1177.9" width="23.6" height="3.6" rx="1.8" fill="#0a0a0a" opacity="0.97"/>
<rect x="725.9" y="1177.5" width="25.5" height="4.4" rx="2.2" fill="#0a0a0a" opacity="1.00"/>
</g></g>
<rect x="649.40" y="1168.90" width="110.20" height="19.90" fill="none" stroke="#222" stroke-width="0.8" />
<text x="644.60" y="1125.20" font-size="12.0" fill="#111" text-anchor="end" >Collagen I</text>
<text x="644.60" y="1154.90" font-size="12.0" fill="#111" text-anchor="end" >Collagen III</text>
<text x="644.60" y="1182.70" font-size="12.0" fill="#111" text-anchor="end" >GAPDH</text>
<text x="659.00" y="1105.60" font-size="10.9" fill="#111" transform="rotate(-32.6 659.00 1105.60)" >PBS</text>
<text x="694.60" y="1108.40" font-size="10.9" fill="#111" transform="rotate(-32.6 694.60 1108.40)" >HCC-SDS</text>
<text x="741.00" y="1096.60" font-size="10.9" fill="#111" transform="rotate(-32.6 741.00 1096.60)" >HCC-SDS+</text>
<text x="748.60" y="1108.60" font-size="10.9" fill="#111" transform="rotate(-32.6 748.60 1108.60)" >Inhibitor</text>
<g clip-path="url(#clipP30)">
<rect x="417.60" y="1101.00" width="137.60" height="43.80" fill="#2a2a2a" />
<g filter="url(#blur1)">
<rect x="417.60" y="1139.54" width="137.60" height="5.26" fill="#7a7a7a" />
<rect x="417.60" y="1101.00" width="137.60" height="2.19" fill="#5a5a5a" />
<circle cx="444.70" cy="1123.60" r="22.60" fill="url(#wellK)"/>
<circle cx="488.80" cy="1123.40" r="22.60" fill="url(#wellK)"/>
<circle cx="532.60" cy="1123.40" r="22.60" fill="url(#wellK)"/>
<ellipse cx="466.75" cy="1123.50" rx="1.70" ry="4.07" fill="#fff" opacity="0.70"/>
<ellipse cx="464.14" cy="1124.10" rx="1.13" ry="3.16" fill="#fff" opacity="0.55"/>
<ellipse cx="469.36" cy="1123.90" rx="1.13" ry="3.16" fill="#fff" opacity="0.55"/>
<ellipse cx="510.70" cy="1123.40" rx="1.70" ry="4.07" fill="#fff" opacity="0.70"/>
<ellipse cx="508.24" cy="1123.90" rx="1.13" ry="3.16" fill="#fff" opacity="0.55"/>
<ellipse cx="513.16" cy="1123.90" rx="1.13" ry="3.16" fill="#fff" opacity="0.55"/>
<ellipse cx="424.36" cy="1123.60" rx="1.58" ry="5.65" fill="#fff" opacity="0.55"/>
<ellipse cx="552.94" cy="1123.40" rx="1.36" ry="5.65" fill="#fff" opacity="0.50"/>
</g>
<text x="423.68" y="1105.75" font-size="5.0" fill="#f4f4f4" font-weight="bold" filter="url(#blur05)">1</text>
<text x="465.07" y="1105.75" font-size="5.0" fill="#f4f4f4" font-weight="bold" filter="url(#blur05)">2</text>
<text x="508.87" y="1105.75" font-size="5.0" fill="#f4f4f4" font-weight="bold" filter="url(#blur05)">3</text>
<circle cx="464.17" cy="1143.00" r="4.75" fill="none" stroke="#c8c8c8" stroke-width="0.6"/>
<text x="460.97" y="1145.20" font-size="4.25" fill="#d8d8d8" filter="url(#blur05)">B2</text>
<circle cx="508.27" cy="1143.00" r="4.75" fill="none" stroke="#c8c8c8" stroke-width="0.6"/>
<text x="505.07" y="1145.20" font-size="4.25" fill="#d8d8d8" filter="url(#blur05)">B3</text>
<circle cx="552.07" cy="1143.00" r="4.75" fill="none" stroke="#c8c8c8" stroke-width="0.6"/>
<text x="548.87" y="1145.20" font-size="4.25" fill="#d8d8d8" filter="url(#blur05)">B4</text>
</g>
<rect x="417.60" y="1101.00" width="137.60" height="43.80" fill="none" stroke="#8a8a8a" stroke-width="0.7" />
<ellipse cx="444.70" cy="1123.60" rx="15.90" ry="15.60" fill="none" stroke="#e8161e" stroke-width="1.3" stroke-dasharray="2.6 1.3"/>
<ellipse cx="488.80" cy="1123.40" rx="15.40" ry="15.60" fill="none" stroke="#e8161e" stroke-width="1.3" stroke-dasharray="2.6 1.3"/>
<ellipse cx="532.60" cy="1123.40" rx="16.00" ry="15.60" fill="none" stroke="#e8161e" stroke-width="1.3" stroke-dasharray="2.6 1.3"/>
<g clip-path="url(#clipP31)">
<rect x="417.60" y="1146.30" width="137.60" height="42.70" fill="#2a2a2a" />
<g filter="url(#blur1)">
<rect x="417.60" y="1183.88" width="137.60" height="5.12" fill="#7a7a7a" />
<rect x="417.60" y="1146.30" width="137.60" height="2.14" fill="#5a5a5a" />
<circle cx="443.00" cy="1167.00" r="22.80" fill="url(#wellK2)"/>
<circle cx="487.20" cy="1167.00" r="22.80" fill="url(#wellK2)"/>
<circle cx="531.80" cy="1167.00" r="22.80" fill="url(#wellK2)"/>
<ellipse cx="465.10" cy="1167.00" rx="1.71" ry="4.10" fill="#fff" opacity="0.70"/>
<ellipse cx="462.61" cy="1167.50" rx="1.14" ry="3.19" fill="#fff" opacity="0.55"/>
<ellipse cx="467.59" cy="1167.50" rx="1.14" ry="3.19" fill="#fff" opacity="0.55"/>
<ellipse cx="509.50" cy="1167.00" rx="1.71" ry="4.10" fill="#fff" opacity="0.70"/>
<ellipse cx="506.81" cy="1167.50" rx="1.14" ry="3.19" fill="#fff" opacity="0.55"/>
<ellipse cx="512.19" cy="1167.50" rx="1.14" ry="3.19" fill="#fff" opacity="0.55"/>
<ellipse cx="422.48" cy="1167.00" rx="1.60" ry="5.70" fill="#fff" opacity="0.55"/>
<ellipse cx="552.32" cy="1167.00" rx="1.37" ry="5.70" fill="#fff" opacity="0.50"/>
<ellipse cx="442.7" cy="1167.1" rx="14.2" ry="14.2" fill="url(#gelK)"/>
<path d="M472.4 1165 C474 1160.5 479 1159.6 484 1158.9 C490 1157.6 496.5 1159 499.8 1163 C502 1168 500 1175 496 1179.5 C492 1183 485 1183.4 480 1181 C474.5 1178 471.6 1171 472.4 1165 Z" fill="#7a7a7a" stroke="#cccccc" stroke-width="2.4"/>
<ellipse cx="532.0" cy="1167.1" rx="14.2" ry="13.8" fill="url(#gelK)"/>
</g>
<text x="421.80" y="1151.05" font-size="5.0" fill="#f4f4f4" font-weight="bold" filter="url(#blur05)">1</text>
<text x="463.26" y="1151.05" font-size="5.0" fill="#f4f4f4" font-weight="bold" filter="url(#blur05)">2</text>
<text x="507.86" y="1151.05" font-size="5.0" fill="#f4f4f4" font-weight="bold" filter="url(#blur05)">3</text>
<circle cx="462.62" cy="1187.20" r="4.75" fill="none" stroke="#c8c8c8" stroke-width="0.6"/>
<text x="459.42" y="1189.40" font-size="4.25" fill="#d8d8d8" filter="url(#blur05)">B2</text>
<circle cx="506.82" cy="1187.20" r="4.75" fill="none" stroke="#c8c8c8" stroke-width="0.6"/>
<text x="503.62" y="1189.40" font-size="4.25" fill="#d8d8d8" filter="url(#blur05)">B3</text>
<circle cx="551.42" cy="1187.20" r="4.75" fill="none" stroke="#c8c8c8" stroke-width="0.6"/>
<text x="548.22" y="1189.40" font-size="4.25" fill="#d8d8d8" filter="url(#blur05)">B4</text>
</g>
<rect x="417.60" y="1146.30" width="137.60" height="42.70" fill="none" stroke="#8a8a8a" stroke-width="0.7" />
<ellipse cx="442.70" cy="1167.10" rx="14.60" ry="14.60" fill="none" stroke="#e8161e" stroke-width="1.3" stroke-dasharray="2.6 1.3"/>
<path d="M472.4 1165 C474 1160.5 479 1159.6 484 1158.9 C490 1157.6 496.5 1159 499.8 1163 C502 1168 500 1175 496 1179.5 C492 1183 485 1183.4 480 1181 C474.5 1178 471.6 1171 472.4 1165 Z" stroke="#e8161e" stroke-width="1.3" fill="none" stroke-dasharray="2.6 1.3"/>
<ellipse cx="532.00" cy="1167.10" rx="14.60" ry="14.10" fill="none" stroke="#e8161e" stroke-width="1.3" stroke-dasharray="2.6 1.3"/>
<text x="395.20" y="1128.20" font-size="12.2" fill="#111" >0h</text>
<text x="395.00" y="1171.00" font-size="12.2" fill="#111" >24h</text>
<text x="438.80" y="1097.60" font-size="10.0" fill="#111" transform="rotate(-30.5 438.80 1097.60)" >PBS</text>
<text x="483.40" y="1100.60" font-size="10.0" fill="#111" transform="rotate(-30.5 483.40 1100.60)" >HCC-SDS</text>
<text x="528.60" y="1090.60" font-size="10.0" fill="#111" transform="rotate(-30.5 528.60 1090.60)" >HCC-SDS+</text>
<text x="535.60" y="1101.40" font-size="10.0" fill="#111" transform="rotate(-30.5 535.60 1101.40)" >Inhibitor</text>
</svg>
</body></html>
